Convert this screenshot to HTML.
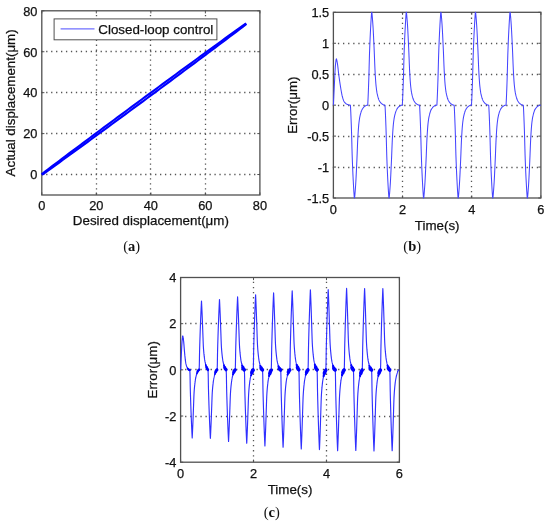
<!DOCTYPE html>
<html><head><meta charset="utf-8"><title>Figure</title>
<style>
html,body{margin:0;padding:0;background:#fff;}
body{width:550px;height:525px;overflow:hidden;}
svg{display:block;}
.tk{font-family:"Liberation Sans", Arial, Helvetica, sans-serif;font-size:12.8px;fill:#111;stroke:#111;stroke-width:0.25px;}
.lb{font-family:"Liberation Sans", Arial, Helvetica, sans-serif;font-size:13.35px;fill:#111;stroke:#111;stroke-width:0.25px;}
.mu{font-family:"Liberation Serif", "Times New Roman", serif;}
.cap{font-family:"Liberation Serif", "Times New Roman", serif;font-weight:bold;font-size:14.5px;fill:#111;}
.pr{font-weight:normal;}
</style></head><body>
<svg width="550" height="525" viewBox="0 0 550 525">
<rect width="550" height="525" fill="#fff"/>
<path d="M96.50 194.40V10.80M150.50 194.40V10.80M205.50 194.40V10.80M41.20 174.50H259.90M41.20 133.50H259.90M41.20 92.50H259.90M41.20 51.50H259.90" stroke="#555555" stroke-width="1.3" stroke-dasharray="1.3 3.65" fill="none"/>
<path d="M41.80 195.00v-2.6M41.80 10.80v2.6M96.32 195.00v-2.6M96.32 10.80v2.6M150.85 195.00v-2.6M150.85 10.80v2.6M205.38 195.00v-2.6M205.38 10.80v2.6M259.90 195.00v-2.6M259.90 10.80v2.6M41.80 174.53h2.6M259.90 174.53h-2.6M41.80 133.60h2.6M259.90 133.60h-2.6M41.80 92.67h2.6M259.90 92.67h-2.6M41.80 51.73h2.6M259.90 51.73h-2.6M41.80 10.80h2.6M259.90 10.80h-2.6" stroke="#505050" stroke-width="1" fill="none"/>
<rect x="41.80" y="10.80" width="218.10" height="184.20" fill="none" stroke="#505050" stroke-width="1.3"/>
<text x="41.80" y="210.08" text-anchor="middle" class="tk">0</text>
<text x="96.32" y="210.08" text-anchor="middle" class="tk">20</text>
<text x="150.85" y="210.08" text-anchor="middle" class="tk">40</text>
<text x="205.38" y="210.08" text-anchor="middle" class="tk">60</text>
<text x="259.90" y="210.08" text-anchor="middle" class="tk">80</text>
<text x="37.40" y="179.32" text-anchor="end" class="tk">0</text>
<text x="37.40" y="138.38" text-anchor="end" class="tk">20</text>
<text x="37.40" y="97.45" text-anchor="end" class="tk">40</text>
<text x="37.40" y="56.52" text-anchor="end" class="tk">60</text>
<text x="37.40" y="15.58" text-anchor="end" class="tk">80</text>
<text x="150.85" y="225.40" text-anchor="middle" class="lb">Desired displacement(&#956;m)</text>
<text transform="translate(15.30 102.90) rotate(-90)" text-anchor="middle" class="lb">Actual displacement(&#956;m)</text>
<path d="M402.50 197.40V12.30M471.50 197.40V12.30M332.80 167.50H540.90M332.80 136.50H540.90M332.80 105.50H540.90M332.80 74.50H540.90M332.80 43.50H540.90" stroke="#555555" stroke-width="1.3" stroke-dasharray="1.3 3.80" fill="none"/>
<path d="M333.40 198.00v-2.6M333.40 12.30v2.6M402.57 198.00v-2.6M402.57 12.30v2.6M471.73 198.00v-2.6M471.73 12.30v2.6M540.90 198.00v-2.6M540.90 12.30v2.6M333.40 198.00h2.6M540.90 198.00h-2.6M333.40 167.05h2.6M540.90 167.05h-2.6M333.40 136.10h2.6M540.90 136.10h-2.6M333.40 105.15h2.6M540.90 105.15h-2.6M333.40 74.20h2.6M540.90 74.20h-2.6M333.40 43.25h2.6M540.90 43.25h-2.6M333.40 12.30h2.6M540.90 12.30h-2.6" stroke="#505050" stroke-width="1" fill="none"/>
<rect x="333.40" y="12.30" width="207.50" height="185.70" fill="none" stroke="#505050" stroke-width="1.3"/>
<text x="333.40" y="213.98" text-anchor="middle" class="tk">0</text>
<text x="402.57" y="213.98" text-anchor="middle" class="tk">2</text>
<text x="471.73" y="213.98" text-anchor="middle" class="tk">4</text>
<text x="540.90" y="213.98" text-anchor="middle" class="tk">6</text>
<text x="329.20" y="202.78" text-anchor="end" class="tk">-1.5</text>
<text x="329.20" y="171.83" text-anchor="end" class="tk">-1</text>
<text x="329.20" y="140.88" text-anchor="end" class="tk">-0.5</text>
<text x="329.20" y="109.93" text-anchor="end" class="tk">0</text>
<text x="329.20" y="78.98" text-anchor="end" class="tk">0.5</text>
<text x="329.20" y="48.03" text-anchor="end" class="tk">1</text>
<text x="329.20" y="17.08" text-anchor="end" class="tk">1.5</text>
<text x="437.15" y="229.80" text-anchor="middle" class="lb">Time(s)</text>
<text transform="translate(297.40 105.15) rotate(-90)" text-anchor="middle" class="lb">Error(&#956;m)</text>
<path d="M253.50 461.60V277.50M326.50 461.60V277.50M180.00 416.50H399.40M180.00 369.50H399.40M180.00 323.50H399.40" stroke="#555555" stroke-width="1.3" stroke-dasharray="1.3 3.80" fill="none"/>
<path d="M180.60 462.20v-2.6M180.60 277.50v2.6M253.53 462.20v-2.6M253.53 277.50v2.6M326.47 462.20v-2.6M326.47 277.50v2.6M399.40 462.20v-2.6M399.40 277.50v2.6M180.60 462.20h2.6M399.40 462.20h-2.6M180.60 416.02h2.6M399.40 416.02h-2.6M180.60 369.85h2.6M399.40 369.85h-2.6M180.60 323.68h2.6M399.40 323.68h-2.6M180.60 277.50h2.6M399.40 277.50h-2.6" stroke="#505050" stroke-width="1" fill="none"/>
<rect x="180.60" y="277.50" width="218.80" height="184.70" fill="none" stroke="#505050" stroke-width="1.3"/>
<text x="180.60" y="478.18" text-anchor="middle" class="tk">0</text>
<text x="253.53" y="478.18" text-anchor="middle" class="tk">2</text>
<text x="326.47" y="478.18" text-anchor="middle" class="tk">4</text>
<text x="399.40" y="478.18" text-anchor="middle" class="tk">6</text>
<text x="176.40" y="466.98" text-anchor="end" class="tk">-4</text>
<text x="176.40" y="420.81" text-anchor="end" class="tk">-2</text>
<text x="176.40" y="374.63" text-anchor="end" class="tk">0</text>
<text x="176.40" y="328.46" text-anchor="end" class="tk">2</text>
<text x="176.40" y="282.28" text-anchor="end" class="tk">4</text>
<text x="290.00" y="493.60" text-anchor="middle" class="lb">Time(s)</text>
<text transform="translate(157.30 369.85) rotate(-90)" text-anchor="middle" class="lb">Error(&#956;m)</text>
<polyline points="41.98,174.77 45.53,172.33 49.03,169.83 52.53,167.32 56.03,164.80 59.52,162.28 63.01,159.76 66.50,157.23 69.98,154.70 73.47,152.17 76.95,149.64 80.43,147.10 83.91,144.57 87.39,142.03 90.87,139.49 94.35,136.95 97.83,134.41 101.30,131.87 104.78,129.33 108.25,126.78 111.73,124.24 115.20,121.69 118.67,119.14 122.14,116.59 125.61,114.04 129.08,111.49 132.55,108.94 136.02,106.39 139.49,103.83 142.95,101.28 146.42,98.72 149.88,96.16 153.35,93.60 156.81,91.04 160.27,88.48 163.74,85.92 167.20,83.36 170.66,80.79 174.12,78.23 177.57,75.66 181.03,73.09 184.49,70.52 187.94,67.96 191.40,65.38 194.85,62.81 198.31,60.24 201.76,57.66 205.21,55.09 208.66,52.51 212.11,49.93 215.56,47.35 219.00,44.77 222.45,42.18 225.89,39.60 229.33,37.01 232.77,34.42 236.21,31.82 239.64,29.22 243.06,26.60 246.45,23.94" fill="none" stroke="#0000ff" stroke-width="2.1"/>
<polyline points="41.62,174.29 45.01,171.62 48.43,169.01 51.86,166.41 55.30,163.81 58.74,161.22 62.18,158.63 65.62,156.04 69.07,153.46 72.51,150.88 75.96,148.30 79.41,145.72 82.86,143.14 86.31,140.56 89.76,137.99 93.22,135.42 96.67,132.84 100.13,130.27 103.58,127.70 107.04,125.13 110.50,122.57 113.95,120.00 117.41,117.43 120.87,114.87 124.33,112.31 127.79,109.74 131.26,107.18 134.72,104.62 138.18,102.06 141.65,99.51 145.11,96.95 148.58,94.39 152.05,91.84 155.52,89.29 158.98,86.73 162.45,84.18 165.92,81.63 169.40,79.08 172.87,76.54 176.34,73.99 179.81,71.44 183.29,68.90 186.76,66.36 190.24,63.82 193.72,61.27 197.20,58.73 200.68,56.20 204.16,53.66 207.64,51.12 211.12,48.59 214.60,46.06 218.09,43.53 221.57,41.00 225.06,38.47 228.55,35.95 232.04,33.43 235.54,30.91 239.04,28.40 242.54,25.90 246.09,23.45" fill="none" stroke="#0000ff" stroke-width="2.1"/>
<rect x="54.1" y="18.9" width="162.8" height="20.9" fill="#fff" stroke="#505050" stroke-width="1"/>
<line x1="60.6" y1="28.9" x2="94.5" y2="28.9" stroke="#6f6fff" stroke-width="1.2"/>
<text x="98.3" y="33.8" class="lb">Closed-loop control</text>
<polyline points="333.40,105.15 333.49,103.25 333.57,101.37 333.66,99.50 333.75,97.66 333.83,95.83 333.92,94.01 334.01,92.22 334.09,90.44 334.18,88.68 334.26,86.94 334.35,85.22 334.44,83.51 334.52,81.74 334.61,79.91 334.70,78.06 334.78,76.22 334.87,74.40 334.96,72.65 335.04,70.99 335.13,69.44 335.22,68.05 335.30,66.83 335.39,65.81 335.47,64.93 335.56,64.08 335.65,63.25 335.73,62.46 335.82,61.72 335.91,61.03 335.99,60.41 336.08,59.87 336.17,59.42 336.25,59.07 336.34,58.83 336.43,58.81 336.51,59.09 336.60,59.41 336.69,59.74 336.77,60.11 336.86,60.50 336.94,60.91 337.03,61.34 337.12,61.78 337.20,62.25 337.29,62.73 337.38,63.23 337.46,63.76 337.55,64.34 337.64,64.98 337.72,65.66 337.81,66.38 337.90,67.12 337.98,67.90 338.07,68.68 338.16,69.48 338.24,70.27 338.33,71.06 338.41,71.83 338.50,72.58 338.59,73.30 338.67,73.99 338.76,74.64 338.85,75.28 338.93,75.93 339.02,76.56 339.11,77.20 339.19,77.83 339.28,78.45 339.37,79.07 339.45,79.69 339.54,80.30 339.62,80.90 339.71,81.50 339.80,82.10 339.88,82.69 339.97,83.27 340.06,83.85 340.14,84.42 340.23,84.98 340.32,85.54 340.40,86.09 340.49,86.63 340.58,87.17 340.66,87.70 340.75,88.22 340.84,88.73 340.92,89.24 341.01,89.74 341.09,90.23 341.18,90.73 341.27,91.23 341.35,91.72 341.44,92.21 341.53,92.69 341.61,93.16 341.70,93.63 341.79,94.08 341.87,94.52 341.96,94.94 342.05,95.35 342.13,95.73 342.22,96.10 342.31,96.44 342.39,96.76 342.48,97.07 342.56,97.37 342.65,97.66 342.74,97.95 342.82,98.24 342.91,98.52 343.00,98.79 343.08,99.06 343.17,99.32 343.26,99.57 343.34,99.82 343.43,100.06 343.52,100.29 343.60,100.51 343.69,100.72 343.77,100.92 343.86,101.11 343.95,101.29 344.03,101.46 344.12,101.62 344.21,101.76 344.29,101.89 344.38,102.01 344.47,102.12 344.55,102.23 344.64,102.34 344.73,102.44 344.81,102.54 344.90,102.64 344.99,102.73 345.07,102.82 345.16,102.91 345.24,103.00 345.33,103.09 345.42,103.17 345.50,103.25 345.59,103.33 345.68,103.40 345.76,103.48 345.85,103.55 345.94,103.62 346.02,103.69 346.11,103.75 346.20,103.81 346.28,103.87 346.37,103.93 346.46,103.99 346.54,104.04 346.63,104.09 346.71,104.14 346.80,104.19 346.89,104.23 346.97,104.27 347.06,104.32 347.15,104.35 347.23,104.39 347.32,104.42 347.41,104.46 347.49,104.49 347.58,104.52 347.67,104.55 347.75,104.58 347.84,104.61 347.92,104.64 348.01,104.67 348.10,104.70 348.18,104.73 348.27,104.75 348.36,104.78 348.44,104.81 348.53,104.83 348.62,104.86 348.70,104.88 348.79,104.91 348.88,104.93 348.96,104.95 349.05,104.97 349.14,104.99 349.22,105.01 349.31,105.03 349.39,105.05 349.48,105.06 349.57,105.08 349.65,105.09 349.74,105.10 349.83,105.12 349.91,105.12 350.00,105.13 350.09,105.14 350.17,105.14 350.26,105.15 350.35,105.15 350.43,105.25 350.52,106.78 350.61,108.43 350.69,110.19 350.78,112.06 350.86,114.02 350.95,116.07 351.04,118.20 351.12,120.41 351.21,122.69 351.30,125.04 351.38,127.45 351.47,129.94 351.56,132.74 351.64,135.80 351.73,139.03 351.82,142.36 351.90,145.70 351.99,148.96 352.07,152.07 352.16,154.94 352.25,157.50 352.33,159.90 352.42,162.22 352.51,164.47 352.59,166.65 352.68,168.75 352.77,170.78 352.85,172.74 352.94,174.63 353.03,176.45 353.11,178.20 353.20,179.89 353.29,181.53 353.37,183.13 353.46,184.70 353.54,186.23 353.63,187.73 353.72,189.19 353.80,190.60 353.89,191.96 353.98,193.28 354.06,194.55 354.15,195.76 354.24,196.91 354.32,198.00 354.41,198.00 354.50,198.00 354.58,197.92 354.67,197.11 354.76,196.25 354.84,195.33 354.93,194.37 355.01,193.36 355.10,192.30 355.19,191.21 355.27,190.08 355.36,188.91 355.45,187.71 355.53,186.48 355.62,185.23 355.71,183.91 355.79,182.51 355.88,181.02 355.97,179.46 356.05,177.83 356.14,176.15 356.22,174.41 356.31,172.63 356.40,170.82 356.48,168.98 356.57,167.12 356.66,165.25 356.74,163.39 356.83,161.53 356.92,159.60 357.00,157.55 357.09,155.42 357.18,153.23 357.26,151.01 357.35,148.80 357.44,146.62 357.52,144.52 357.61,142.51 357.69,140.63 357.78,138.91 357.87,137.36 357.95,135.87 358.04,134.42 358.13,133.02 358.21,131.66 358.30,130.37 358.39,129.13 358.47,127.96 358.56,126.86 358.65,125.84 358.73,124.90 358.82,124.04 358.91,123.25 358.99,122.50 359.08,121.78 359.16,121.10 359.25,120.45 359.34,119.83 359.42,119.25 359.51,118.69 359.60,118.17 359.68,117.67 359.77,117.21 359.86,116.77 359.94,116.37 360.03,115.98 360.12,115.59 360.20,115.22 360.29,114.86 360.38,114.50 360.46,114.16 360.55,113.82 360.63,113.50 360.72,113.18 360.81,112.88 360.89,112.58 360.98,112.30 361.07,112.02 361.15,111.76 361.24,111.51 361.33,111.26 361.41,111.03 361.50,110.80 361.59,110.59 361.67,110.39 361.76,110.20 361.84,110.02 361.93,109.85 362.02,109.68 362.10,109.52 362.19,109.37 362.28,109.21 362.36,109.06 362.45,108.92 362.54,108.77 362.62,108.64 362.71,108.50 362.80,108.37 362.88,108.24 362.97,108.12 363.06,107.99 363.14,107.88 363.23,107.76 363.31,107.65 363.40,107.55 363.49,107.44 363.57,107.34 363.66,107.25 363.75,107.16 363.83,107.07 363.92,106.98 364.01,106.90 364.09,106.82 364.18,106.75 364.27,106.68 364.35,106.62 364.44,106.55 364.52,106.49 364.61,106.43 364.70,106.37 364.78,106.31 364.87,106.25 364.96,106.19 365.04,106.13 365.13,106.08 365.22,106.02 365.30,105.96 365.39,105.91 365.48,105.85 365.56,105.80 365.65,105.75 365.74,105.70 365.82,105.65 365.91,105.60 365.99,105.56 366.08,105.52 366.17,105.47 366.25,105.44 366.34,105.40 366.43,105.36 366.51,105.33 366.60,105.30 366.69,105.27 366.77,105.25 366.86,105.22 366.95,105.20 367.03,105.19 367.12,105.17 367.21,105.16 367.29,105.16 367.38,105.15 367.46,105.15 367.55,105.15 367.64,105.15 367.72,105.05 367.81,103.52 367.90,101.87 367.98,100.11 368.07,98.24 368.16,96.28 368.24,94.23 368.33,92.10 368.42,89.89 368.50,87.61 368.59,85.26 368.67,82.85 368.76,80.36 368.85,77.56 368.93,74.50 369.02,71.27 369.11,67.94 369.19,64.60 369.28,61.34 369.37,58.23 369.45,55.36 369.54,52.80 369.63,50.40 369.71,48.08 369.80,45.83 369.89,43.65 369.97,41.55 370.06,39.52 370.14,37.56 370.23,35.67 370.32,33.85 370.40,32.10 370.49,30.41 370.58,28.77 370.66,27.17 370.75,25.60 370.84,24.07 370.92,22.57 371.01,21.11 371.10,19.70 371.18,18.34 371.27,17.02 371.36,15.75 371.44,14.54 371.53,13.39 371.61,12.30 371.70,12.30 371.79,12.30 371.87,12.38 371.96,13.19 372.05,14.05 372.13,14.97 372.22,15.93 372.31,16.94 372.39,18.00 372.48,19.09 372.57,20.22 372.65,21.39 372.74,22.59 372.82,23.82 372.91,25.07 373.00,26.39 373.08,27.79 373.17,29.28 373.26,30.84 373.34,32.47 373.43,34.15 373.52,35.89 373.60,37.67 373.69,39.48 373.78,41.32 373.86,43.18 373.95,45.05 374.04,46.91 374.12,48.77 374.21,50.70 374.29,52.75 374.38,54.88 374.47,57.07 374.55,59.29 374.64,61.50 374.73,63.68 374.81,65.78 374.90,67.79 374.99,69.67 375.07,71.39 375.16,72.94 375.25,74.43 375.33,75.88 375.42,77.28 375.51,78.64 375.59,79.93 375.68,81.17 375.76,82.34 375.85,83.44 375.94,84.46 376.02,85.40 376.11,86.26 376.20,87.05 376.28,87.80 376.37,88.52 376.46,89.20 376.54,89.85 376.63,90.47 376.72,91.05 376.80,91.61 376.89,92.13 376.97,92.63 377.06,93.09 377.15,93.53 377.23,93.93 377.32,94.32 377.41,94.71 377.49,95.08 377.58,95.44 377.67,95.80 377.75,96.14 377.84,96.48 377.93,96.80 378.01,97.12 378.10,97.42 378.19,97.72 378.27,98.00 378.36,98.28 378.44,98.54 378.53,98.79 378.62,99.04 378.70,99.27 378.79,99.50 378.88,99.71 378.96,99.91 379.05,100.10 379.14,100.28 379.22,100.45 379.31,100.62 379.40,100.78 379.48,100.93 379.57,101.09 379.66,101.24 379.74,101.38 379.83,101.53 379.91,101.66 380.00,101.80 380.09,101.93 380.17,102.06 380.26,102.18 380.35,102.31 380.43,102.42 380.52,102.54 380.61,102.65 380.69,102.75 380.78,102.86 380.87,102.96 380.95,103.05 381.04,103.14 381.12,103.23 381.21,103.32 381.30,103.40 381.38,103.48 381.47,103.55 381.56,103.62 381.64,103.68 381.73,103.75 381.82,103.81 381.90,103.87 381.99,103.93 382.08,103.99 382.16,104.05 382.25,104.11 382.34,104.17 382.42,104.22 382.51,104.28 382.59,104.34 382.68,104.39 382.77,104.45 382.85,104.50 382.94,104.55 383.03,104.60 383.11,104.65 383.20,104.70 383.29,104.74 383.37,104.78 383.46,104.83 383.55,104.86 383.63,104.90 383.72,104.94 383.81,104.97 383.89,105.00 383.98,105.03 384.06,105.05 384.15,105.08 384.24,105.10 384.32,105.11 384.41,105.13 384.50,105.14 384.58,105.14 384.67,105.15 384.76,105.15 384.84,105.15 384.93,105.15 385.02,105.25 385.10,106.78 385.19,108.43 385.27,110.19 385.36,112.06 385.45,114.02 385.53,116.07 385.62,118.20 385.71,120.41 385.79,122.69 385.88,125.04 385.97,127.45 386.05,129.94 386.14,132.74 386.23,135.80 386.31,139.03 386.40,142.36 386.49,145.70 386.57,148.96 386.66,152.07 386.74,154.94 386.83,157.50 386.92,159.90 387.00,162.22 387.09,164.47 387.18,166.65 387.26,168.75 387.35,170.78 387.44,172.74 387.52,174.63 387.61,176.45 387.70,178.20 387.78,179.89 387.87,181.53 387.96,183.13 388.04,184.70 388.13,186.23 388.21,187.73 388.30,189.19 388.39,190.60 388.47,191.96 388.56,193.28 388.65,194.55 388.73,195.76 388.82,196.91 388.91,198.00 388.99,198.00 389.08,198.00 389.17,197.92 389.25,197.11 389.34,196.25 389.42,195.33 389.51,194.37 389.60,193.36 389.68,192.30 389.77,191.21 389.86,190.08 389.94,188.91 390.03,187.71 390.12,186.48 390.20,185.23 390.29,183.91 390.38,182.51 390.46,181.02 390.55,179.46 390.64,177.83 390.72,176.15 390.81,174.41 390.89,172.63 390.98,170.82 391.07,168.98 391.15,167.12 391.24,165.25 391.33,163.39 391.41,161.53 391.50,159.60 391.59,157.55 391.67,155.42 391.76,153.23 391.85,151.01 391.93,148.80 392.02,146.62 392.11,144.52 392.19,142.51 392.28,140.63 392.36,138.91 392.45,137.36 392.54,135.87 392.62,134.42 392.71,133.02 392.80,131.66 392.88,130.37 392.97,129.13 393.06,127.96 393.14,126.86 393.23,125.84 393.32,124.90 393.40,124.04 393.49,123.25 393.57,122.50 393.66,121.78 393.75,121.10 393.83,120.45 393.92,119.83 394.01,119.25 394.09,118.69 394.18,118.17 394.27,117.67 394.35,117.21 394.44,116.77 394.53,116.37 394.61,115.98 394.70,115.59 394.79,115.22 394.87,114.86 394.96,114.50 395.04,114.16 395.13,113.82 395.22,113.50 395.30,113.18 395.39,112.88 395.48,112.58 395.56,112.30 395.65,112.02 395.74,111.76 395.82,111.51 395.91,111.26 396.00,111.03 396.08,110.80 396.17,110.59 396.26,110.39 396.34,110.20 396.43,110.02 396.51,109.85 396.60,109.68 396.69,109.52 396.77,109.37 396.86,109.21 396.95,109.06 397.03,108.92 397.12,108.77 397.21,108.64 397.29,108.50 397.38,108.37 397.47,108.24 397.55,108.12 397.64,107.99 397.72,107.88 397.81,107.76 397.90,107.65 397.98,107.55 398.07,107.44 398.16,107.34 398.24,107.25 398.33,107.16 398.42,107.07 398.50,106.98 398.59,106.90 398.68,106.82 398.76,106.75 398.85,106.68 398.94,106.62 399.02,106.55 399.11,106.49 399.19,106.43 399.28,106.37 399.37,106.31 399.45,106.25 399.54,106.19 399.63,106.13 399.71,106.08 399.80,106.02 399.89,105.96 399.97,105.91 400.06,105.85 400.15,105.80 400.23,105.75 400.32,105.70 400.41,105.65 400.49,105.60 400.58,105.56 400.66,105.52 400.75,105.47 400.84,105.44 400.92,105.40 401.01,105.36 401.10,105.33 401.18,105.30 401.27,105.27 401.36,105.25 401.44,105.22 401.53,105.20 401.62,105.19 401.70,105.17 401.79,105.16 401.88,105.16 401.96,105.15 402.05,105.15 402.13,105.15 402.22,105.15 402.31,105.05 402.39,103.52 402.48,101.87 402.57,100.11 402.65,98.24 402.74,96.28 402.83,94.23 402.91,92.10 403.00,89.89 403.09,87.61 403.17,85.26 403.26,82.85 403.34,80.36 403.43,77.56 403.52,74.50 403.60,71.27 403.69,67.94 403.78,64.60 403.86,61.34 403.95,58.23 404.04,55.36 404.12,52.80 404.21,50.40 404.30,48.08 404.38,45.83 404.47,43.65 404.56,41.55 404.64,39.52 404.73,37.56 404.81,35.67 404.90,33.85 404.99,32.10 405.07,30.41 405.16,28.77 405.25,27.17 405.33,25.60 405.42,24.07 405.51,22.57 405.59,21.11 405.68,19.70 405.77,18.34 405.85,17.02 405.94,15.75 406.02,14.54 406.11,13.39 406.20,12.30 406.28,12.30 406.37,12.30 406.46,12.38 406.54,13.19 406.63,14.05 406.72,14.97 406.80,15.93 406.89,16.94 406.98,18.00 407.06,19.09 407.15,20.22 407.24,21.39 407.32,22.59 407.41,23.82 407.49,25.07 407.58,26.39 407.67,27.79 407.75,29.28 407.84,30.84 407.93,32.47 408.01,34.15 408.10,35.89 408.19,37.67 408.27,39.48 408.36,41.32 408.45,43.18 408.53,45.05 408.62,46.91 408.71,48.77 408.79,50.70 408.88,52.75 408.96,54.88 409.05,57.07 409.14,59.29 409.22,61.50 409.31,63.68 409.40,65.78 409.48,67.79 409.57,69.67 409.66,71.39 409.74,72.94 409.83,74.43 409.92,75.88 410.00,77.28 410.09,78.64 410.17,79.93 410.26,81.17 410.35,82.34 410.43,83.44 410.52,84.46 410.61,85.40 410.69,86.26 410.78,87.05 410.87,87.80 410.95,88.52 411.04,89.20 411.13,89.85 411.21,90.47 411.30,91.05 411.39,91.61 411.47,92.13 411.56,92.63 411.64,93.09 411.73,93.53 411.82,93.93 411.90,94.32 411.99,94.71 412.08,95.08 412.16,95.44 412.25,95.80 412.34,96.14 412.42,96.48 412.51,96.80 412.60,97.12 412.68,97.42 412.77,97.72 412.86,98.00 412.94,98.28 413.03,98.54 413.11,98.79 413.20,99.04 413.29,99.27 413.37,99.50 413.46,99.71 413.55,99.91 413.63,100.10 413.72,100.28 413.81,100.45 413.89,100.62 413.98,100.78 414.07,100.93 414.15,101.09 414.24,101.24 414.32,101.38 414.41,101.53 414.50,101.66 414.58,101.80 414.67,101.93 414.76,102.06 414.84,102.18 414.93,102.31 415.02,102.42 415.10,102.54 415.19,102.65 415.28,102.75 415.36,102.86 415.45,102.96 415.54,103.05 415.62,103.14 415.71,103.23 415.79,103.32 415.88,103.40 415.97,103.48 416.05,103.55 416.14,103.62 416.23,103.68 416.31,103.75 416.40,103.81 416.49,103.87 416.57,103.93 416.66,103.99 416.75,104.05 416.83,104.11 416.92,104.17 417.01,104.22 417.09,104.28 417.18,104.34 417.26,104.39 417.35,104.45 417.44,104.50 417.52,104.55 417.61,104.60 417.70,104.65 417.78,104.70 417.87,104.74 417.96,104.78 418.04,104.83 418.13,104.86 418.22,104.90 418.30,104.94 418.39,104.97 418.47,105.00 418.56,105.03 418.65,105.05 418.73,105.08 418.82,105.10 418.91,105.11 418.99,105.13 419.08,105.14 419.17,105.14 419.25,105.15 419.34,105.15 419.43,105.15 419.51,105.15 419.60,105.25 419.69,106.78 419.77,108.43 419.86,110.19 419.94,112.06 420.03,114.02 420.12,116.07 420.20,118.20 420.29,120.41 420.38,122.69 420.46,125.04 420.55,127.45 420.64,129.94 420.72,132.74 420.81,135.80 420.90,139.03 420.98,142.36 421.07,145.70 421.16,148.96 421.24,152.07 421.33,154.94 421.41,157.50 421.50,159.90 421.59,162.22 421.67,164.47 421.76,166.65 421.85,168.75 421.93,170.78 422.02,172.74 422.11,174.63 422.19,176.45 422.28,178.20 422.37,179.89 422.45,181.53 422.54,183.13 422.62,184.70 422.71,186.23 422.80,187.73 422.88,189.19 422.97,190.60 423.06,191.96 423.14,193.28 423.23,194.55 423.32,195.76 423.40,196.91 423.49,198.00 423.58,198.00 423.66,198.00 423.75,197.92 423.84,197.11 423.92,196.25 424.01,195.33 424.09,194.37 424.18,193.36 424.27,192.30 424.35,191.21 424.44,190.08 424.53,188.91 424.61,187.71 424.70,186.48 424.79,185.23 424.87,183.91 424.96,182.51 425.05,181.02 425.13,179.46 425.22,177.83 425.31,176.15 425.39,174.41 425.48,172.63 425.56,170.82 425.65,168.98 425.74,167.12 425.82,165.25 425.91,163.39 426.00,161.53 426.08,159.60 426.17,157.55 426.26,155.42 426.34,153.23 426.43,151.01 426.52,148.80 426.60,146.62 426.69,144.52 426.77,142.51 426.86,140.63 426.95,138.91 427.03,137.36 427.12,135.87 427.21,134.42 427.29,133.02 427.38,131.66 427.47,130.37 427.55,129.13 427.64,127.96 427.73,126.86 427.81,125.84 427.90,124.90 427.99,124.04 428.07,123.25 428.16,122.50 428.24,121.78 428.33,121.10 428.42,120.45 428.50,119.83 428.59,119.25 428.68,118.69 428.76,118.17 428.85,117.67 428.94,117.21 429.02,116.77 429.11,116.37 429.20,115.98 429.28,115.59 429.37,115.22 429.46,114.86 429.54,114.50 429.63,114.16 429.71,113.82 429.80,113.50 429.89,113.18 429.97,112.88 430.06,112.58 430.15,112.30 430.23,112.02 430.32,111.76 430.41,111.51 430.49,111.26 430.58,111.03 430.67,110.80 430.75,110.59 430.84,110.39 430.92,110.20 431.01,110.02 431.10,109.85 431.18,109.68 431.27,109.52 431.36,109.37 431.44,109.21 431.53,109.06 431.62,108.92 431.70,108.77 431.79,108.64 431.88,108.50 431.96,108.37 432.05,108.24 432.14,108.12 432.22,107.99 432.31,107.88 432.39,107.76 432.48,107.65 432.57,107.55 432.65,107.44 432.74,107.34 432.83,107.25 432.91,107.16 433.00,107.07 433.09,106.98 433.17,106.90 433.26,106.82 433.35,106.75 433.43,106.68 433.52,106.62 433.61,106.55 433.69,106.49 433.78,106.43 433.86,106.37 433.95,106.31 434.04,106.25 434.12,106.19 434.21,106.13 434.30,106.08 434.38,106.02 434.47,105.96 434.56,105.91 434.64,105.85 434.73,105.80 434.82,105.75 434.90,105.70 434.99,105.65 435.07,105.60 435.16,105.56 435.25,105.52 435.33,105.47 435.42,105.44 435.51,105.40 435.59,105.36 435.68,105.33 435.77,105.30 435.85,105.27 435.94,105.25 436.03,105.22 436.11,105.20 436.20,105.19 436.29,105.17 436.37,105.16 436.46,105.16 436.54,105.15 436.63,105.15 436.72,105.15 436.80,105.15 436.89,105.05 436.98,103.52 437.06,101.87 437.15,100.11 437.24,98.24 437.32,96.28 437.41,94.23 437.50,92.10 437.58,89.89 437.67,87.61 437.76,85.26 437.84,82.85 437.93,80.36 438.01,77.56 438.10,74.50 438.19,71.27 438.27,67.94 438.36,64.60 438.45,61.34 438.53,58.23 438.62,55.36 438.71,52.80 438.79,50.40 438.88,48.08 438.97,45.83 439.05,43.65 439.14,41.55 439.22,39.52 439.31,37.56 439.40,35.67 439.48,33.85 439.57,32.10 439.66,30.41 439.74,28.77 439.83,27.17 439.92,25.60 440.00,24.07 440.09,22.57 440.18,21.11 440.26,19.70 440.35,18.34 440.44,17.02 440.52,15.75 440.61,14.54 440.69,13.39 440.78,12.30 440.87,12.30 440.95,12.30 441.04,12.38 441.13,13.19 441.21,14.05 441.30,14.97 441.39,15.93 441.47,16.94 441.56,18.00 441.65,19.09 441.73,20.22 441.82,21.39 441.91,22.59 441.99,23.82 442.08,25.07 442.16,26.39 442.25,27.79 442.34,29.28 442.42,30.84 442.51,32.47 442.60,34.15 442.68,35.89 442.77,37.67 442.86,39.48 442.94,41.32 443.03,43.18 443.12,45.05 443.20,46.91 443.29,48.77 443.38,50.70 443.46,52.75 443.55,54.88 443.63,57.07 443.72,59.29 443.81,61.50 443.89,63.68 443.98,65.78 444.07,67.79 444.15,69.67 444.24,71.39 444.33,72.94 444.41,74.43 444.50,75.88 444.59,77.28 444.67,78.64 444.76,79.93 444.84,81.17 444.93,82.34 445.02,83.44 445.10,84.46 445.19,85.40 445.28,86.26 445.36,87.05 445.45,87.80 445.54,88.52 445.62,89.20 445.71,89.85 445.80,90.47 445.88,91.05 445.97,91.61 446.06,92.13 446.14,92.63 446.23,93.09 446.31,93.53 446.40,93.93 446.49,94.32 446.57,94.71 446.66,95.08 446.75,95.44 446.83,95.80 446.92,96.14 447.01,96.48 447.09,96.80 447.18,97.12 447.27,97.42 447.35,97.72 447.44,98.00 447.52,98.28 447.61,98.54 447.70,98.79 447.78,99.04 447.87,99.27 447.96,99.50 448.04,99.71 448.13,99.91 448.22,100.10 448.30,100.28 448.39,100.45 448.48,100.62 448.56,100.78 448.65,100.93 448.74,101.09 448.82,101.24 448.91,101.38 448.99,101.53 449.08,101.66 449.17,101.80 449.25,101.93 449.34,102.06 449.43,102.18 449.51,102.31 449.60,102.42 449.69,102.54 449.77,102.65 449.86,102.75 449.95,102.86 450.03,102.96 450.12,103.05 450.21,103.14 450.29,103.23 450.38,103.32 450.46,103.40 450.55,103.48 450.64,103.55 450.72,103.62 450.81,103.68 450.90,103.75 450.98,103.81 451.07,103.87 451.16,103.93 451.24,103.99 451.33,104.05 451.42,104.11 451.50,104.17 451.59,104.22 451.67,104.28 451.76,104.34 451.85,104.39 451.93,104.45 452.02,104.50 452.11,104.55 452.19,104.60 452.28,104.65 452.37,104.70 452.45,104.74 452.54,104.78 452.63,104.83 452.71,104.86 452.80,104.90 452.89,104.94 452.97,104.97 453.06,105.00 453.14,105.03 453.23,105.05 453.32,105.08 453.40,105.10 453.49,105.11 453.58,105.13 453.66,105.14 453.75,105.14 453.84,105.15 453.92,105.15 454.01,105.15 454.10,105.15 454.18,105.25 454.27,106.78 454.36,108.43 454.44,110.19 454.53,112.06 454.61,114.02 454.70,116.07 454.79,118.20 454.87,120.41 454.96,122.69 455.05,125.04 455.13,127.45 455.22,129.94 455.31,132.74 455.39,135.80 455.48,139.03 455.57,142.36 455.65,145.70 455.74,148.96 455.82,152.07 455.91,154.94 456.00,157.50 456.08,159.90 456.17,162.22 456.26,164.47 456.34,166.65 456.43,168.75 456.52,170.78 456.60,172.74 456.69,174.63 456.78,176.45 456.86,178.20 456.95,179.89 457.04,181.53 457.12,183.13 457.21,184.70 457.29,186.23 457.38,187.73 457.47,189.19 457.55,190.60 457.64,191.96 457.73,193.28 457.81,194.55 457.90,195.76 457.99,196.91 458.07,198.00 458.16,198.00 458.25,198.00 458.33,197.92 458.42,197.11 458.51,196.25 458.59,195.33 458.68,194.37 458.76,193.36 458.85,192.30 458.94,191.21 459.02,190.08 459.11,188.91 459.20,187.71 459.28,186.48 459.37,185.23 459.46,183.91 459.54,182.51 459.63,181.02 459.72,179.46 459.80,177.83 459.89,176.15 459.98,174.41 460.06,172.63 460.15,170.82 460.23,168.98 460.32,167.12 460.41,165.25 460.49,163.39 460.58,161.53 460.67,159.60 460.75,157.55 460.84,155.42 460.93,153.23 461.01,151.01 461.10,148.80 461.19,146.62 461.27,144.52 461.36,142.51 461.44,140.63 461.53,138.91 461.62,137.36 461.70,135.87 461.79,134.42 461.88,133.02 461.96,131.66 462.05,130.37 462.14,129.13 462.22,127.96 462.31,126.86 462.40,125.84 462.48,124.90 462.57,124.04 462.66,123.25 462.74,122.50 462.83,121.78 462.91,121.10 463.00,120.45 463.09,119.83 463.17,119.25 463.26,118.69 463.35,118.17 463.43,117.67 463.52,117.21 463.61,116.77 463.69,116.37 463.78,115.98 463.87,115.59 463.95,115.22 464.04,114.86 464.12,114.50 464.21,114.16 464.30,113.82 464.38,113.50 464.47,113.18 464.56,112.88 464.64,112.58 464.73,112.30 464.82,112.02 464.90,111.76 464.99,111.51 465.08,111.26 465.16,111.03 465.25,110.80 465.34,110.59 465.42,110.39 465.51,110.20 465.59,110.02 465.68,109.85 465.77,109.68 465.85,109.52 465.94,109.37 466.03,109.21 466.11,109.06 466.20,108.92 466.29,108.77 466.37,108.64 466.46,108.50 466.55,108.37 466.63,108.24 466.72,108.12 466.81,107.99 466.89,107.88 466.98,107.76 467.06,107.65 467.15,107.55 467.24,107.44 467.32,107.34 467.41,107.25 467.50,107.16 467.58,107.07 467.67,106.98 467.76,106.90 467.84,106.82 467.93,106.75 468.02,106.68 468.10,106.62 468.19,106.55 468.27,106.49 468.36,106.43 468.45,106.37 468.53,106.31 468.62,106.25 468.71,106.19 468.79,106.13 468.88,106.08 468.97,106.02 469.05,105.96 469.14,105.91 469.23,105.85 469.31,105.80 469.40,105.75 469.49,105.70 469.57,105.65 469.66,105.60 469.74,105.56 469.83,105.52 469.92,105.47 470.00,105.44 470.09,105.40 470.18,105.36 470.26,105.33 470.35,105.30 470.44,105.27 470.52,105.25 470.61,105.22 470.70,105.20 470.78,105.19 470.87,105.17 470.96,105.16 471.04,105.16 471.13,105.15 471.21,105.15 471.30,105.15 471.39,105.15 471.47,105.05 471.56,103.52 471.65,101.87 471.73,100.11 471.82,98.24 471.91,96.28 471.99,94.23 472.08,92.10 472.17,89.89 472.25,87.61 472.34,85.26 472.43,82.85 472.51,80.36 472.60,77.56 472.68,74.50 472.77,71.27 472.86,67.94 472.94,64.60 473.03,61.34 473.12,58.23 473.20,55.36 473.29,52.80 473.38,50.40 473.46,48.08 473.55,45.83 473.64,43.65 473.72,41.55 473.81,39.52 473.89,37.56 473.98,35.67 474.07,33.85 474.15,32.10 474.24,30.41 474.33,28.77 474.41,27.17 474.50,25.60 474.59,24.07 474.67,22.57 474.76,21.11 474.85,19.70 474.93,18.34 475.02,17.02 475.11,15.75 475.19,14.54 475.28,13.39 475.36,12.30 475.45,12.30 475.54,12.30 475.62,12.38 475.71,13.19 475.80,14.05 475.88,14.97 475.97,15.93 476.06,16.94 476.14,18.00 476.23,19.09 476.32,20.22 476.40,21.39 476.49,22.59 476.57,23.82 476.66,25.07 476.75,26.39 476.83,27.79 476.92,29.28 477.01,30.84 477.09,32.47 477.18,34.15 477.27,35.89 477.35,37.67 477.44,39.48 477.53,41.32 477.61,43.18 477.70,45.05 477.79,46.91 477.87,48.77 477.96,50.70 478.04,52.75 478.13,54.88 478.22,57.07 478.30,59.29 478.39,61.50 478.48,63.68 478.56,65.78 478.65,67.79 478.74,69.67 478.82,71.39 478.91,72.94 479.00,74.43 479.08,75.88 479.17,77.28 479.26,78.64 479.34,79.93 479.43,81.17 479.51,82.34 479.60,83.44 479.69,84.46 479.77,85.40 479.86,86.26 479.95,87.05 480.03,87.80 480.12,88.52 480.21,89.20 480.29,89.85 480.38,90.47 480.47,91.05 480.55,91.61 480.64,92.13 480.72,92.63 480.81,93.09 480.90,93.53 480.98,93.93 481.07,94.32 481.16,94.71 481.24,95.08 481.33,95.44 481.42,95.80 481.50,96.14 481.59,96.48 481.68,96.80 481.76,97.12 481.85,97.42 481.94,97.72 482.02,98.00 482.11,98.28 482.19,98.54 482.28,98.79 482.37,99.04 482.45,99.27 482.54,99.50 482.63,99.71 482.71,99.91 482.80,100.10 482.89,100.28 482.97,100.45 483.06,100.62 483.15,100.78 483.23,100.93 483.32,101.09 483.41,101.24 483.49,101.38 483.58,101.53 483.66,101.66 483.75,101.80 483.84,101.93 483.92,102.06 484.01,102.18 484.10,102.31 484.18,102.42 484.27,102.54 484.36,102.65 484.44,102.75 484.53,102.86 484.62,102.96 484.70,103.05 484.79,103.14 484.88,103.23 484.96,103.32 485.05,103.40 485.13,103.48 485.22,103.55 485.31,103.62 485.39,103.68 485.48,103.75 485.57,103.81 485.65,103.87 485.74,103.93 485.83,103.99 485.91,104.05 486.00,104.11 486.09,104.17 486.17,104.22 486.26,104.28 486.34,104.34 486.43,104.39 486.52,104.45 486.60,104.50 486.69,104.55 486.78,104.60 486.86,104.65 486.95,104.70 487.04,104.74 487.12,104.78 487.21,104.83 487.30,104.86 487.38,104.90 487.47,104.94 487.56,104.97 487.64,105.00 487.73,105.03 487.81,105.05 487.90,105.08 487.99,105.10 488.07,105.11 488.16,105.13 488.25,105.14 488.33,105.14 488.42,105.15 488.51,105.15 488.59,105.15 488.68,105.15 488.77,105.25 488.85,106.78 488.94,108.43 489.02,110.19 489.11,112.06 489.20,114.02 489.28,116.07 489.37,118.20 489.46,120.41 489.54,122.69 489.63,125.04 489.72,127.45 489.80,129.94 489.89,132.74 489.98,135.80 490.06,139.03 490.15,142.36 490.24,145.70 490.32,148.96 490.41,152.07 490.49,154.94 490.58,157.50 490.67,159.90 490.75,162.22 490.84,164.47 490.93,166.65 491.01,168.75 491.10,170.78 491.19,172.74 491.27,174.63 491.36,176.45 491.45,178.20 491.53,179.89 491.62,181.53 491.71,183.13 491.79,184.70 491.88,186.23 491.96,187.73 492.05,189.19 492.14,190.60 492.22,191.96 492.31,193.28 492.40,194.55 492.48,195.76 492.57,196.91 492.66,198.00 492.74,198.00 492.83,198.00 492.92,197.92 493.00,197.11 493.09,196.25 493.17,195.33 493.26,194.37 493.35,193.36 493.43,192.30 493.52,191.21 493.61,190.08 493.69,188.91 493.78,187.71 493.87,186.48 493.95,185.23 494.04,183.91 494.13,182.51 494.21,181.02 494.30,179.46 494.39,177.83 494.47,176.15 494.56,174.41 494.64,172.63 494.73,170.82 494.82,168.98 494.90,167.12 494.99,165.25 495.08,163.39 495.16,161.53 495.25,159.60 495.34,157.55 495.42,155.42 495.51,153.23 495.60,151.01 495.68,148.80 495.77,146.62 495.86,144.52 495.94,142.51 496.03,140.63 496.11,138.91 496.20,137.36 496.29,135.87 496.37,134.42 496.46,133.02 496.55,131.66 496.63,130.37 496.72,129.13 496.81,127.96 496.89,126.86 496.98,125.84 497.07,124.90 497.15,124.04 497.24,123.25 497.32,122.50 497.41,121.78 497.50,121.10 497.58,120.45 497.67,119.83 497.76,119.25 497.84,118.69 497.93,118.17 498.02,117.67 498.10,117.21 498.19,116.77 498.28,116.37 498.36,115.98 498.45,115.59 498.54,115.22 498.62,114.86 498.71,114.50 498.79,114.16 498.88,113.82 498.97,113.50 499.05,113.18 499.14,112.88 499.23,112.58 499.31,112.30 499.40,112.02 499.49,111.76 499.57,111.51 499.66,111.26 499.75,111.03 499.83,110.80 499.92,110.59 500.01,110.39 500.09,110.20 500.18,110.02 500.26,109.85 500.35,109.68 500.44,109.52 500.52,109.37 500.61,109.21 500.70,109.06 500.78,108.92 500.87,108.77 500.96,108.64 501.04,108.50 501.13,108.37 501.22,108.24 501.30,108.12 501.39,107.99 501.48,107.88 501.56,107.76 501.65,107.65 501.73,107.55 501.82,107.44 501.91,107.34 501.99,107.25 502.08,107.16 502.17,107.07 502.25,106.98 502.34,106.90 502.43,106.82 502.51,106.75 502.60,106.68 502.69,106.62 502.77,106.55 502.86,106.49 502.94,106.43 503.03,106.37 503.12,106.31 503.20,106.25 503.29,106.19 503.38,106.13 503.46,106.08 503.55,106.02 503.64,105.96 503.72,105.91 503.81,105.85 503.90,105.80 503.98,105.75 504.07,105.70 504.16,105.65 504.24,105.60 504.33,105.56 504.41,105.52 504.50,105.47 504.59,105.44 504.67,105.40 504.76,105.36 504.85,105.33 504.93,105.30 505.02,105.27 505.11,105.25 505.19,105.22 505.28,105.20 505.37,105.19 505.45,105.17 505.54,105.16 505.62,105.16 505.71,105.15 505.80,105.15 505.88,105.15 505.97,105.15 506.06,105.05 506.14,103.52 506.23,101.87 506.32,100.11 506.40,98.24 506.49,96.28 506.58,94.23 506.66,92.10 506.75,89.89 506.84,87.61 506.92,85.26 507.01,82.85 507.09,80.36 507.18,77.56 507.27,74.50 507.35,71.27 507.44,67.94 507.53,64.60 507.61,61.34 507.70,58.23 507.79,55.36 507.87,52.80 507.96,50.40 508.05,48.08 508.13,45.83 508.22,43.65 508.31,41.55 508.39,39.52 508.48,37.56 508.56,35.67 508.65,33.85 508.74,32.10 508.82,30.41 508.91,28.77 509.00,27.17 509.08,25.60 509.17,24.07 509.26,22.57 509.34,21.11 509.43,19.70 509.52,18.34 509.60,17.02 509.69,15.75 509.77,14.54 509.86,13.39 509.95,12.30 510.03,12.30 510.12,12.30 510.21,12.38 510.29,13.19 510.38,14.05 510.47,14.97 510.55,15.93 510.64,16.94 510.73,18.00 510.81,19.09 510.90,20.22 510.99,21.39 511.07,22.59 511.16,23.82 511.24,25.07 511.33,26.39 511.42,27.79 511.50,29.28 511.59,30.84 511.68,32.47 511.76,34.15 511.85,35.89 511.94,37.67 512.02,39.48 512.11,41.32 512.20,43.18 512.28,45.05 512.37,46.91 512.46,48.77 512.54,50.70 512.63,52.75 512.71,54.88 512.80,57.07 512.89,59.29 512.97,61.50 513.06,63.68 513.15,65.78 513.23,67.79 513.32,69.67 513.41,71.39 513.49,72.94 513.58,74.43 513.67,75.88 513.75,77.28 513.84,78.64 513.92,79.93 514.01,81.17 514.10,82.34 514.18,83.44 514.27,84.46 514.36,85.40 514.44,86.26 514.53,87.05 514.62,87.80 514.70,88.52 514.79,89.20 514.88,89.85 514.96,90.47 515.05,91.05 515.14,91.61 515.22,92.13 515.31,92.63 515.39,93.09 515.48,93.53 515.57,93.93 515.65,94.32 515.74,94.71 515.83,95.08 515.91,95.44 516.00,95.80 516.09,96.14 516.17,96.48 516.26,96.80 516.35,97.12 516.43,97.42 516.52,97.72 516.61,98.00 516.69,98.28 516.78,98.54 516.86,98.79 516.95,99.04 517.04,99.27 517.12,99.50 517.21,99.71 517.30,99.91 517.38,100.10 517.47,100.28 517.56,100.45 517.64,100.62 517.73,100.78 517.82,100.93 517.90,101.09 517.99,101.24 518.08,101.38 518.16,101.53 518.25,101.66 518.33,101.80 518.42,101.93 518.51,102.06 518.59,102.18 518.68,102.31 518.77,102.42 518.85,102.54 518.94,102.65 519.03,102.75 519.11,102.86 519.20,102.96 519.29,103.05 519.37,103.14 519.46,103.23 519.54,103.32 519.63,103.40 519.72,103.48 519.80,103.55 519.89,103.62 519.98,103.68 520.06,103.75 520.15,103.81 520.24,103.87 520.32,103.93 520.41,103.99 520.50,104.05 520.58,104.11 520.67,104.17 520.76,104.22 520.84,104.28 520.93,104.34 521.01,104.39 521.10,104.45 521.19,104.50 521.27,104.55 521.36,104.60 521.45,104.65 521.53,104.70 521.62,104.74 521.71,104.78 521.79,104.83 521.88,104.86 521.97,104.90 522.05,104.94 522.14,104.97 522.23,105.00 522.31,105.03 522.40,105.05 522.48,105.08 522.57,105.10 522.66,105.11 522.74,105.13 522.83,105.14 522.92,105.14 523.00,105.15 523.09,105.15 523.18,105.15 523.26,105.15 523.35,105.25 523.44,106.78 523.52,108.43 523.61,110.19 523.69,112.06 523.78,114.02 523.87,116.07 523.95,118.20 524.04,120.41 524.13,122.69 524.21,125.04 524.30,127.45 524.39,129.94 524.47,132.74 524.56,135.80 524.65,139.03 524.73,142.36 524.82,145.70 524.91,148.96 524.99,152.07 525.08,154.94 525.16,157.50 525.25,159.90 525.34,162.22 525.42,164.47 525.51,166.65 525.60,168.75 525.68,170.78 525.77,172.74 525.86,174.63 525.94,176.45 526.03,178.20 526.12,179.89 526.20,181.53 526.29,183.13 526.38,184.70 526.46,186.23 526.55,187.73 526.63,189.19 526.72,190.60 526.81,191.96 526.89,193.28 526.98,194.55 527.07,195.76 527.15,196.91 527.24,198.00 527.33,198.00 527.41,198.00 527.50,197.92 527.59,197.11 527.67,196.25 527.76,195.33 527.84,194.37 527.93,193.36 528.02,192.30 528.10,191.21 528.19,190.08 528.28,188.91 528.36,187.71 528.45,186.48 528.54,185.23 528.62,183.91 528.71,182.51 528.80,181.02 528.88,179.46 528.97,177.83 529.06,176.15 529.14,174.41 529.23,172.63 529.31,170.82 529.40,168.98 529.49,167.12 529.57,165.25 529.66,163.39 529.75,161.53 529.83,159.60 529.92,157.55 530.01,155.42 530.09,153.23 530.18,151.01 530.27,148.80 530.35,146.62 530.44,144.52 530.52,142.51 530.61,140.63 530.70,138.91 530.78,137.36 530.87,135.87 530.96,134.42 531.04,133.02 531.13,131.66 531.22,130.37 531.30,129.13 531.39,127.96 531.48,126.86 531.56,125.84 531.65,124.90 531.74,124.04 531.82,123.25 531.91,122.50 531.99,121.78 532.08,121.10 532.17,120.45 532.25,119.83 532.34,119.25 532.43,118.69 532.51,118.17 532.60,117.67 532.69,117.21 532.77,116.77 532.86,116.37 532.95,115.98 533.03,115.59 533.12,115.22 533.21,114.86 533.29,114.50 533.38,114.16 533.46,113.82 533.55,113.50 533.64,113.18 533.72,112.88 533.81,112.58 533.90,112.30 533.98,112.02 534.07,111.76 534.16,111.51 534.24,111.26 534.33,111.03 534.42,110.80 534.50,110.59 534.59,110.39 534.67,110.20 534.76,110.02 534.85,109.85 534.93,109.68 535.02,109.52 535.11,109.37 535.19,109.21 535.28,109.06 535.37,108.92 535.45,108.77 535.54,108.64 535.63,108.50 535.71,108.37 535.80,108.24 535.89,108.12 535.97,107.99 536.06,107.88 536.14,107.76 536.23,107.65 536.32,107.55 536.40,107.44 536.49,107.34 536.58,107.25 536.66,107.16 536.75,107.07 536.84,106.98 536.92,106.90 537.01,106.82 537.10,106.75 537.18,106.68 537.27,106.62 537.36,106.55 537.44,106.49 537.53,106.43 537.61,106.37 537.70,106.31 537.79,106.25 537.87,106.19 537.96,106.13 538.05,106.08 538.13,106.02 538.22,105.96 538.31,105.91 538.39,105.85 538.48,105.80 538.57,105.75 538.65,105.70 538.74,105.65 538.83,105.60 538.91,105.56 539.00,105.52 539.08,105.47 539.17,105.44 539.26,105.40 539.34,105.36 539.43,105.33 539.52,105.30 539.60,105.27 539.69,105.25 539.78,105.22 539.86,105.20 539.95,105.19 540.04,105.17 540.12,105.16 540.21,105.16 540.29,105.15 540.38,105.15 540.47,105.15 540.55,105.15 540.64,105.15 540.73,105.15 540.81,105.15 540.90,105.15" fill="none" stroke="#4545ff" stroke-width="1.05" stroke-linejoin="round"/>
<polyline points="180.60,369.85 180.64,369.00 180.67,368.15 180.71,367.31 180.75,366.48 180.78,365.66 180.82,364.84 180.86,364.03 180.89,363.23 180.93,362.44 180.96,361.65 181.00,360.87 181.04,360.10 181.07,359.34 181.11,358.59 181.15,357.84 181.18,357.10 181.22,356.37 181.26,355.65 181.29,354.93 181.33,354.23 181.37,353.53 181.40,352.84 181.44,352.15 181.48,351.45 181.51,350.74 181.55,350.03 181.58,349.32 181.62,348.61 181.66,347.91 181.69,347.22 181.73,346.54 181.77,345.88 181.80,345.23 181.84,344.61 181.88,344.01 181.91,343.43 181.95,342.88 181.99,342.37 182.02,341.89 182.06,341.45 182.10,341.05 182.13,340.68 182.17,340.32 182.20,339.96 182.24,339.61 182.28,339.26 182.31,338.93 182.35,338.60 182.39,338.29 182.42,337.99 182.46,337.70 182.50,337.43 182.53,337.18 182.57,336.94 182.61,336.72 182.64,336.52 182.68,336.34 182.72,336.18 182.75,336.05 182.79,335.94 182.82,336.01 182.86,336.16 182.90,336.33 182.93,336.50 182.97,336.68 183.01,336.88 183.04,337.08 183.08,337.28 183.12,337.50 183.15,337.73 183.19,337.96 183.23,338.20 183.26,338.44 183.30,338.70 183.33,338.95 183.37,339.22 183.41,339.49 183.44,339.77 183.48,340.05 183.52,340.34 183.55,340.63 183.59,340.92 183.63,341.23 183.66,341.56 183.70,341.91 183.74,342.28 183.77,342.66 183.81,343.07 183.85,343.49 183.88,343.93 183.92,344.37 183.95,344.83 183.99,345.30 184.03,345.77 184.06,346.25 184.10,346.73 184.14,347.22 184.17,347.70 184.21,348.19 184.25,348.67 184.28,349.15 184.32,349.62 184.36,350.09 184.39,350.54 184.43,350.99 184.47,351.42 184.50,351.84 184.54,352.24 184.57,352.63 184.61,352.99 184.65,353.36 184.68,353.72 184.72,354.09 184.76,354.46 184.79,354.82 184.83,355.19 184.87,355.55 184.90,355.92 184.94,356.28 184.98,356.64 185.01,356.99 185.05,357.35 185.09,357.69 185.12,358.04 185.16,358.38 185.19,358.71 185.23,359.04 185.27,359.36 185.30,359.68 185.34,359.99 185.38,360.29 185.41,360.58 185.45,360.87 185.49,361.14 185.52,361.41 185.56,361.66 185.60,361.91 185.63,362.14 185.67,362.36 185.71,362.57 185.74,362.77 185.78,362.96 185.81,363.13 185.85,363.30 185.89,363.47 185.92,363.63 185.96,363.79 186.00,363.95 186.03,364.10 186.07,364.26 186.11,364.41 186.14,364.56 186.18,364.70 186.22,364.84 186.25,364.98 186.29,365.12 186.33,365.25 186.36,365.39 186.40,365.51 186.43,365.64 186.47,365.76 186.51,365.88 186.54,366.00 186.58,366.12 186.62,366.23 186.65,366.34 186.69,366.45 186.73,366.55 186.76,366.65 186.80,366.75 186.84,366.85 186.87,366.94 186.91,367.03 186.95,367.12 186.98,367.20 187.02,367.28 187.05,367.36 187.09,367.44 187.13,367.51 187.16,367.58 187.20,367.65 187.24,367.71 187.27,367.77 187.31,367.83 187.35,367.89 187.38,367.94 187.42,368.00 187.46,368.06 187.49,368.11 187.53,368.17 187.57,368.23 187.60,368.28 187.64,368.34 187.67,368.39 187.71,368.45 187.75,368.50 187.78,368.55 187.82,368.61 187.86,368.66 187.89,368.71 187.93,368.76 187.97,368.81 188.00,368.86 188.04,368.91 188.08,368.95 188.11,369.00 188.15,369.05 188.19,369.09 188.22,369.14 188.26,369.18 188.29,369.22 188.33,369.26 188.37,369.30 188.40,369.34 188.44,369.38 188.48,369.41 188.51,369.45 188.55,369.48 188.59,369.52 188.62,369.55 188.66,369.58 188.70,369.61 188.73,369.63 188.77,369.66 188.81,369.68 188.84,369.71 188.88,369.73 188.91,369.75 188.95,369.76 188.99,369.78 189.02,369.80 189.06,369.81 189.10,369.82 189.13,369.83 189.17,369.84 189.21,369.84 189.24,369.85 189.28,369.85 189.32,369.85 189.35,369.85 189.39,369.85 189.42,369.85 189.46,369.85 189.50,369.85 189.53,369.85 189.57,369.85 189.61,369.85 189.64,369.85 189.68,369.85 189.72,369.85 189.75,369.85 189.79,370.02 189.83,370.40 189.86,370.96 189.90,371.66 189.94,372.46 189.97,373.33 190.01,374.27 190.04,375.67 190.08,377.53 190.12,379.66 190.15,381.90 190.19,384.07 190.23,386.01 190.26,387.59 190.30,389.03 190.34,390.41 190.37,391.72 190.41,392.98 190.45,394.20 190.48,395.38 190.52,396.53 190.56,397.67 190.59,398.80 190.63,399.93 190.66,401.07 190.70,402.20 190.74,403.32 190.77,404.42 190.81,405.51 190.85,406.58 190.88,407.63 190.92,408.67 190.96,409.68 190.99,410.67 191.03,411.64 191.07,412.58 191.10,413.52 191.14,414.45 191.18,415.38 191.21,416.30 191.25,417.22 191.28,418.13 191.32,419.03 191.36,419.93 191.39,420.82 191.43,421.70 191.47,422.58 191.50,423.44 191.54,424.30 191.58,425.15 191.61,425.99 191.65,426.82 191.69,427.64 191.72,428.46 191.76,429.26 191.80,430.05 191.83,430.83 191.87,431.60 191.90,432.35 191.94,433.10 191.98,433.83 192.01,434.55 192.05,435.26 192.09,435.96 192.12,436.64 192.16,437.30 192.20,437.96 192.23,437.26 192.27,436.56 192.31,435.85 192.34,435.12 192.38,434.38 192.42,433.64 192.45,432.88 192.49,432.12 192.52,431.35 192.56,430.56 192.60,429.77 192.63,428.97 192.67,428.16 192.71,427.34 192.74,426.52 192.78,425.69 192.82,424.85 192.85,424.00 192.89,423.14 192.93,422.27 192.96,421.38 193.00,420.47 193.04,419.54 193.07,418.60 193.11,417.64 193.14,416.68 193.18,415.70 193.22,414.72 193.25,413.74 193.29,412.75 193.33,411.77 193.36,410.79 193.40,409.82 193.44,408.86 193.47,407.92 193.51,406.98 193.55,406.02 193.58,405.04 193.62,404.03 193.66,403.01 193.69,401.99 193.73,400.96 193.76,399.95 193.80,398.95 193.84,397.98 193.87,397.03 193.91,396.12 193.95,395.26 193.98,394.44 194.02,393.69 194.06,393.00 194.09,392.38 194.13,391.82 194.17,391.28 194.20,390.76 194.24,390.26 194.27,389.78 194.31,389.31 194.35,388.86 194.38,388.43 194.42,388.01 194.46,387.60 194.49,387.21 194.53,386.83 194.57,386.46 194.60,386.10 194.64,385.75 194.68,385.40 194.71,385.07 194.75,384.74 194.79,384.42 194.82,384.11 194.86,383.79 194.89,383.48 194.93,383.18 194.97,382.88 195.00,382.58 195.04,382.29 195.08,382.00 195.11,381.72 195.15,381.45 195.19,381.17 195.22,380.91 195.26,380.65 195.30,380.39 195.33,380.15 195.37,379.90 195.41,379.67 195.44,379.44 195.48,379.22 195.51,379.00 195.55,378.79 195.59,378.59 195.62,378.39 195.66,378.20 195.70,378.02 195.73,377.84 195.77,377.67 195.81,377.50 195.84,377.33 195.88,377.17 195.92,377.01 195.95,376.85 195.99,376.69 196.03,376.54 196.06,376.39 196.10,376.24 196.13,376.10 196.17,375.95 196.21,375.81 196.24,375.67 196.28,375.54 196.32,375.41 196.35,375.27 196.39,375.15 196.43,375.02 196.46,374.89 196.50,374.77 196.54,374.65 196.57,374.53 196.61,374.41 196.65,374.30 196.68,374.18 196.72,374.07 196.75,373.96 196.79,373.85 196.83,373.74 196.86,373.63 196.90,373.53 196.94,373.42 196.97,373.32 197.01,373.22 197.05,373.12 197.08,373.01 197.12,372.91 197.16,372.81 197.19,372.71 197.23,372.60 197.27,372.50 197.30,372.40 197.34,372.30 197.37,372.20 197.41,372.10 197.45,372.01 197.48,371.91 197.52,371.82 197.56,371.73 197.59,371.64 197.63,371.55 197.67,371.46 197.70,371.38 197.74,371.30 197.78,371.22 197.81,371.14 197.85,371.07 197.89,370.99 197.92,370.93 197.96,370.86 197.99,370.80 198.03,370.74 198.07,370.69 198.10,370.64 198.14,370.59 198.18,370.55 198.21,370.51 198.25,370.48 198.29,370.44 198.32,370.40 198.36,370.37 198.40,370.33 198.43,370.29 198.47,370.26 198.51,370.22 198.54,370.19 198.58,370.16 198.61,370.13 198.65,370.10 198.69,370.07 198.72,370.04 198.76,370.01 198.80,369.99 198.83,369.97 198.87,369.95 198.91,369.93 198.94,369.91 198.98,369.89 199.02,369.88 199.05,369.87 199.09,369.72 199.13,369.36 199.16,368.81 199.20,368.12 199.23,367.32 199.27,366.45 199.31,365.52 199.34,364.17 199.38,362.35 199.42,360.22 199.45,357.96 199.49,355.75 199.53,353.75 199.56,352.12 199.60,350.65 199.64,349.25 199.67,347.92 199.71,346.64 199.75,345.41 199.78,344.21 199.82,343.04 199.85,341.89 199.89,340.75 199.93,339.60 199.96,338.45 200.00,337.31 200.04,336.18 200.07,335.07 200.11,333.96 200.15,332.88 200.18,331.81 200.22,330.77 200.26,329.74 200.29,328.74 200.33,327.76 200.36,326.80 200.40,325.86 200.44,324.91 200.47,323.98 200.51,323.04 200.55,322.12 200.58,321.20 200.62,320.28 200.66,319.38 200.69,318.48 200.73,317.58 200.77,316.70 200.80,315.82 200.84,314.95 200.88,314.10 200.91,313.25 200.95,312.40 200.98,311.57 201.02,310.75 201.06,309.94 201.09,309.14 201.13,308.35 201.17,307.57 201.20,306.81 201.24,306.05 201.28,305.31 201.31,304.58 201.35,303.86 201.39,303.16 201.42,302.47 201.46,301.79 201.50,301.13 201.53,301.66 201.57,302.37 201.60,303.09 201.64,303.82 201.68,304.57 201.71,305.32 201.75,306.08 201.79,306.85 201.82,307.63 201.86,308.42 201.90,309.22 201.93,310.03 201.97,310.84 202.01,311.67 202.04,312.50 202.08,313.34 202.12,314.19 202.15,315.04 202.19,315.91 202.22,316.78 202.26,317.68 202.30,318.59 202.33,319.53 202.37,320.48 202.41,321.45 202.44,322.42 202.48,323.41 202.52,324.40 202.55,325.39 202.59,326.38 202.63,327.38 202.66,328.36 202.70,329.35 202.74,330.32 202.77,331.28 202.81,332.22 202.84,333.19 202.88,334.18 202.92,335.19 202.95,336.22 202.99,337.26 203.03,338.29 203.06,339.32 203.10,340.33 203.14,341.31 203.17,342.27 203.21,343.20 203.25,344.08 203.28,344.90 203.32,345.67 203.36,346.38 203.39,347.01 203.43,347.58 203.46,348.13 203.50,348.66 203.54,349.17 203.57,349.66 203.61,350.13 203.65,350.59 203.68,351.03 203.72,351.46 203.76,351.87 203.79,352.27 203.83,352.65 203.87,353.03 203.90,353.39 203.94,353.75 203.98,354.09 204.01,354.43 204.05,354.76 204.08,355.09 204.12,355.41 204.16,355.73 204.19,356.04 204.23,356.35 204.27,356.65 204.30,356.95 204.34,357.25 204.38,357.54 204.41,357.82 204.45,358.10 204.49,358.38 204.52,358.65 204.56,358.91 204.60,359.17 204.63,359.42 204.67,359.66 204.70,359.90 204.74,360.13 204.78,360.36 204.81,360.58 204.85,360.79 204.89,361.00 204.92,361.20 204.96,361.39 205.00,361.58 205.03,361.75 205.07,361.93 205.11,362.10 205.14,362.27 205.18,362.44 205.22,362.60 205.25,362.76 205.29,362.92 205.32,363.07 205.36,363.23 205.40,363.38 205.43,363.52 205.47,363.67 205.51,363.81 205.54,363.95 205.58,364.09 205.62,364.22 205.65,364.35 205.69,364.48 205.73,364.61 205.76,364.74 205.80,364.86 205.83,364.99 205.87,365.11 205.91,365.23 205.94,365.34 205.98,365.46 206.02,365.57 206.05,365.69 206.09,365.80 206.13,365.91 206.16,366.02 206.20,366.12 206.24,366.23 206.27,366.33 206.31,366.44 206.35,366.54 206.38,366.64 206.42,366.75 206.45,366.85 206.49,366.95 206.53,367.06 206.56,367.16 206.60,367.26 206.64,367.36 206.67,367.46 206.71,367.56 206.75,367.66 206.78,367.75 206.82,367.85 206.86,367.94 206.89,368.03 206.93,368.12 206.97,368.21 207.00,368.30 207.04,368.38 207.07,368.46 207.11,368.54 207.15,368.61 207.18,368.68 207.22,368.75 207.26,368.82 207.29,368.88 207.33,368.94 207.37,368.99 207.40,369.05 207.44,369.09 207.48,369.14 207.51,369.17 207.55,369.21 207.59,369.25 207.62,369.29 207.66,369.33 207.69,369.36 207.73,369.40 207.77,369.43 207.80,369.47 207.84,369.50 207.88,369.53 207.91,369.57 207.95,369.66 207.99,369.97 208.02,370.47 208.06,371.14 208.10,371.93 208.13,372.80 208.17,373.72 208.21,374.88 208.24,376.56 208.28,378.61 208.31,380.85 208.35,383.12 208.39,385.22 208.42,387.00 208.46,388.51 208.50,389.93 208.53,391.29 208.57,392.59 208.61,393.84 208.64,395.05 208.68,396.22 208.72,397.38 208.75,398.53 208.79,399.67 208.83,400.82 208.86,401.96 208.90,403.10 208.93,404.22 208.97,405.33 209.01,406.42 209.04,407.49 209.08,408.54 209.12,409.58 209.15,410.59 209.19,411.58 209.23,412.54 209.26,413.49 209.30,414.43 209.34,415.37 209.37,416.31 209.41,417.24 209.45,418.16 209.48,419.08 209.52,419.99 209.55,420.89 209.59,421.78 209.63,422.67 209.66,423.55 209.70,424.42 209.74,425.28 209.77,426.14 209.81,426.98 209.85,427.82 209.88,428.64 209.92,429.46 209.96,430.26 209.99,431.06 210.03,431.84 210.07,432.61 210.10,433.37 210.14,434.11 210.17,434.85 210.21,435.57 210.25,436.28 210.28,436.97 210.32,437.66 210.36,438.32 210.39,438.30 210.43,437.60 210.47,436.88 210.50,436.15 210.54,435.41 210.58,434.67 210.61,433.91 210.65,433.14 210.69,432.36 210.72,431.58 210.76,430.78 210.79,429.98 210.83,429.16 210.87,428.34 210.90,427.51 210.94,426.68 210.98,425.83 211.01,424.98 211.05,424.12 211.09,423.25 211.12,422.36 211.16,421.45 211.20,420.52 211.23,419.58 211.27,418.61 211.30,417.64 211.34,416.66 211.38,415.67 211.41,414.68 211.45,413.69 211.49,412.69 211.52,411.70 211.56,410.72 211.60,409.75 211.63,408.78 211.67,407.83 211.71,406.88 211.74,405.89 211.78,404.89 211.82,403.86 211.85,402.83 211.89,401.80 211.92,400.77 211.96,399.75 212.00,398.75 212.03,397.78 212.07,396.84 212.11,395.95 212.14,395.10 212.18,394.31 212.22,393.58 212.25,392.92 212.29,392.33 212.33,391.77 212.36,391.23 212.40,390.72 212.44,390.22 212.47,389.74 212.51,389.28 212.54,388.83 212.58,388.40 212.62,387.98 212.65,387.58 212.69,387.19 212.73,386.81 212.76,386.44 212.80,386.08 212.84,385.73 212.87,385.39 212.91,385.06 212.95,384.73 212.98,384.41 213.02,384.09 213.06,383.78 213.09,383.47 213.13,383.16 213.16,382.86 213.20,382.56 213.24,382.27 213.27,381.98 213.31,381.70 213.35,381.43 213.38,381.15 213.42,380.89 213.46,380.63 213.49,380.38 213.53,380.13 213.57,379.89 213.60,379.65 213.64,379.42 213.68,379.20 213.71,378.98 213.75,378.78 213.78,378.57 213.82,378.38 213.86,378.19 213.89,378.01 213.93,377.84 213.97,377.66 214.00,377.49 214.04,377.32 214.08,377.16 214.11,377.00 214.15,376.84 214.19,376.68 214.22,376.53 214.26,376.38 214.30,376.23 214.33,376.09 214.37,375.94 214.40,375.80 214.44,375.66 214.48,375.53 214.51,375.40 214.55,375.26 214.59,375.13 214.62,375.01 214.66,374.88 214.70,374.76 214.73,374.64 214.77,374.52 214.81,374.40 214.84,374.28 214.88,374.17 214.92,374.06 214.95,373.94 214.99,373.83 215.02,373.73 215.06,373.62 215.10,373.51 215.13,373.41 215.17,373.30 215.21,373.20 215.24,373.10 215.28,372.99 215.32,372.89 215.35,372.79 215.39,372.68 215.43,372.58 215.46,372.48 215.50,372.38 215.54,372.28 215.57,372.18 215.61,372.08 215.64,371.98 215.68,371.89 215.72,371.79 215.75,371.70 215.79,371.61 215.83,371.52 215.86,371.43 215.90,371.35 215.94,371.27 215.97,371.19 216.01,371.11 216.05,371.04 216.08,370.97 216.12,370.90 216.15,370.84 216.19,370.78 216.23,370.73 216.26,370.67 216.30,370.62 216.34,370.58 216.37,370.54 216.41,370.50 216.45,370.46 216.48,370.43 216.52,370.39 216.56,370.35 216.59,370.32 216.63,370.28 216.67,370.25 216.70,370.21 216.74,370.18 216.77,370.15 216.81,370.11 216.85,370.09 216.88,370.06 216.92,370.03 216.96,370.00 216.99,369.98 217.03,369.96 217.07,369.91 217.10,369.66 217.14,369.19 217.18,368.56 217.21,367.79 217.25,366.93 217.29,366.01 217.32,364.94 217.36,363.35 217.39,361.33 217.43,359.08 217.47,356.77 217.50,354.57 217.54,352.66 217.58,351.10 217.61,349.62 217.65,348.22 217.69,346.88 217.72,345.59 217.76,344.34 217.80,343.13 217.83,341.94 217.87,340.77 217.91,339.60 217.94,338.43 217.98,337.25 218.01,336.08 218.05,334.93 218.09,333.80 218.12,332.68 218.16,331.57 218.20,330.49 218.23,329.43 218.27,328.39 218.31,327.37 218.34,326.38 218.38,325.41 218.42,324.44 218.45,323.47 218.49,322.52 218.53,321.57 218.56,320.62 218.60,319.68 218.63,318.75 218.67,317.82 218.71,316.90 218.74,315.99 218.78,315.09 218.82,314.20 218.85,313.31 218.89,312.44 218.93,311.57 218.96,310.71 219.00,309.87 219.04,309.03 219.07,308.21 219.11,307.39 219.15,306.59 219.18,305.80 219.22,305.02 219.25,304.25 219.29,303.49 219.33,302.75 219.36,302.02 219.40,301.31 219.44,300.61 219.47,299.92 219.51,299.63 219.55,300.35 219.58,301.08 219.62,301.82 219.66,302.57 219.69,303.34 219.73,304.11 219.77,304.89 219.80,305.69 219.84,306.49 219.87,307.30 219.91,308.12 219.95,308.95 219.98,309.79 220.02,310.64 220.06,311.49 220.09,312.36 220.13,313.23 220.17,314.11 220.20,314.99 220.24,315.90 220.28,316.82 220.31,317.77 220.35,318.73 220.39,319.71 220.42,320.71 220.46,321.71 220.49,322.72 220.53,323.74 220.57,324.75 220.60,325.77 220.64,326.78 220.68,327.79 220.71,328.79 220.75,329.78 220.79,330.76 220.82,331.73 220.86,332.73 220.90,333.75 220.93,334.80 220.97,335.85 221.01,336.91 221.04,337.97 221.08,339.01 221.11,340.04 221.15,341.04 221.19,342.01 221.22,342.94 221.26,343.82 221.30,344.64 221.33,345.40 221.37,346.10 221.41,346.71 221.44,347.29 221.48,347.84 221.52,348.37 221.55,348.89 221.59,349.38 221.62,349.86 221.66,350.32 221.70,350.76 221.73,351.19 221.77,351.61 221.81,352.01 221.84,352.40 221.88,352.78 221.92,353.15 221.95,353.51 221.99,353.86 222.03,354.21 222.06,354.54 222.10,354.87 222.14,355.20 222.17,355.52 222.21,355.84 222.24,356.15 222.28,356.46 222.32,356.77 222.35,357.07 222.39,357.36 222.43,357.65 222.46,357.94 222.50,358.22 222.54,358.49 222.57,358.76 222.61,359.02 222.65,359.27 222.68,359.52 222.72,359.76 222.76,360.00 222.79,360.23 222.83,360.45 222.86,360.67 222.90,360.87 222.94,361.07 222.97,361.27 223.01,361.45 223.05,361.64 223.08,361.81 223.12,361.99 223.16,362.16 223.19,362.33 223.23,362.50 223.27,362.66 223.30,362.82 223.34,362.98 223.38,363.13 223.41,363.28 223.45,363.43 223.48,363.58 223.52,363.72 223.56,363.87 223.59,364.01 223.63,364.14 223.67,364.28 223.70,364.41 223.74,364.54 223.78,364.67 223.81,364.80 223.85,364.92 223.89,365.05 223.92,365.17 223.96,365.29 224.00,365.40 224.03,365.52 224.07,365.63 224.10,365.75 224.14,365.86 224.18,365.97 224.21,366.08 224.25,366.19 224.29,366.29 224.32,366.40 224.36,366.50 224.40,366.61 224.43,366.72 224.47,366.82 224.51,366.93 224.54,367.03 224.58,367.14 224.62,367.24 224.65,367.34 224.69,367.45 224.72,367.55 224.76,367.65 224.80,367.74 224.83,367.84 224.87,367.94 224.91,368.03 224.94,368.12 224.98,368.21 225.02,368.29 225.05,368.38 225.09,368.46 225.13,368.54 225.16,368.61 225.20,368.69 225.24,368.76 225.27,368.82 225.31,368.88 225.34,368.94 225.38,369.00 225.42,369.05 225.45,369.09 225.49,369.14 225.53,369.17 225.56,369.21 225.60,369.25 225.64,369.29 225.67,369.33 225.71,369.36 225.75,369.40 225.78,369.44 225.82,369.47 225.86,369.51 225.89,369.54 225.93,369.57 225.96,369.60 226.00,369.63 226.04,369.66 226.07,369.69 226.11,369.72 226.15,369.91 226.18,370.33 226.22,370.94 226.26,371.69 226.29,372.55 226.33,373.48 226.37,374.48 226.40,375.96 226.44,377.91 226.48,380.16 226.51,382.51 226.55,384.80 226.58,386.83 226.62,388.49 226.66,390.01 226.69,391.45 226.73,392.83 226.77,394.16 226.80,395.44 226.84,396.68 226.88,397.89 226.91,399.09 226.95,400.28 226.99,401.46 227.02,402.66 227.06,403.85 227.09,405.02 227.13,406.18 227.17,407.32 227.20,408.45 227.24,409.56 227.28,410.64 227.31,411.71 227.35,412.75 227.39,413.76 227.42,414.75 227.46,415.74 227.50,416.72 227.53,417.69 227.57,418.66 227.61,419.63 227.64,420.58 227.68,421.53 227.71,422.48 227.75,423.41 227.79,424.34 227.82,425.26 227.86,426.17 227.90,427.07 227.93,427.96 227.97,428.85 228.01,429.72 228.04,430.58 228.08,431.44 228.12,432.28 228.15,433.11 228.19,433.93 228.23,434.74 228.26,435.53 228.30,436.31 228.33,437.09 228.37,437.84 228.41,438.59 228.44,439.32 228.48,440.03 228.52,440.73 228.55,441.42 228.59,440.69 228.63,439.95 228.66,439.20 228.70,438.44 228.74,437.67 228.77,436.88 228.81,436.09 228.85,435.29 228.88,434.47 228.92,433.65 228.95,432.82 228.99,431.98 229.03,431.13 229.06,430.27 229.10,429.40 229.14,428.53 229.17,427.64 229.21,426.75 229.25,425.85 229.28,424.94 229.32,424.00 229.36,423.05 229.39,422.07 229.43,421.08 229.47,420.07 229.50,419.06 229.54,418.03 229.57,417.00 229.61,415.97 229.65,414.93 229.68,413.90 229.72,412.88 229.76,411.86 229.79,410.85 229.83,409.85 229.87,408.87 229.90,407.86 229.94,406.82 229.98,405.77 230.01,404.70 230.05,403.62 230.09,402.55 230.12,401.48 230.16,400.43 230.19,399.41 230.23,398.41 230.27,397.46 230.30,396.55 230.34,395.70 230.38,394.90 230.41,394.18 230.45,393.53 230.49,392.94 230.52,392.37 230.56,391.82 230.60,391.30 230.63,390.79 230.67,390.30 230.71,389.83 230.74,389.37 230.78,388.93 230.81,388.50 230.85,388.09 230.89,387.69 230.92,387.30 230.96,386.92 231.00,386.55 231.03,386.20 231.07,385.84 231.11,385.50 231.14,385.16 231.18,384.83 231.22,384.50 231.25,384.18 231.29,383.86 231.33,383.54 231.36,383.23 231.40,382.92 231.43,382.62 231.47,382.33 231.51,382.03 231.54,381.75 231.58,381.47 231.62,381.20 231.65,380.93 231.69,380.67 231.73,380.42 231.76,380.17 231.80,379.93 231.84,379.69 231.87,379.46 231.91,379.24 231.95,379.03 231.98,378.82 232.02,378.63 232.05,378.43 232.09,378.25 232.13,378.07 232.16,377.89 232.20,377.71 232.24,377.54 232.27,377.37 232.31,377.20 232.35,377.04 232.38,376.88 232.42,376.72 232.46,376.57 232.49,376.41 232.53,376.26 232.56,376.12 232.60,375.97 232.64,375.83 232.67,375.69 232.71,375.55 232.75,375.41 232.78,375.28 232.82,375.15 232.86,375.02 232.89,374.89 232.93,374.77 232.97,374.64 233.00,374.52 233.04,374.40 233.08,374.28 233.11,374.17 233.15,374.05 233.18,373.94 233.22,373.83 233.26,373.71 233.29,373.60 233.33,373.50 233.37,373.39 233.40,373.28 233.44,373.17 233.48,373.07 233.51,372.96 233.55,372.85 233.59,372.74 233.62,372.64 233.66,372.53 233.70,372.43 233.73,372.32 233.77,372.22 233.80,372.12 233.84,372.02 233.88,371.92 233.91,371.82 233.95,371.73 233.99,371.63 234.02,371.54 234.06,371.45 234.10,371.37 234.13,371.29 234.17,371.20 234.21,371.13 234.24,371.05 234.28,370.98 234.32,370.91 234.35,370.85 234.39,370.79 234.42,370.73 234.46,370.68 234.50,370.63 234.53,370.59 234.57,370.55 234.61,370.51 234.64,370.47 234.68,370.43 234.72,370.39 234.75,370.35 234.79,370.32 234.83,370.28 234.86,370.24 234.90,370.21 234.94,370.17 234.97,370.14 235.01,370.11 235.04,370.08 235.08,370.05 235.12,370.02 235.15,370.00 235.19,369.81 235.23,369.40 235.26,368.79 235.30,368.03 235.34,367.16 235.37,366.22 235.41,365.22 235.45,363.75 235.48,361.79 235.52,359.51 235.56,357.11 235.59,354.77 235.63,352.67 235.66,350.96 235.70,349.41 235.74,347.93 235.77,346.52 235.81,345.17 235.85,343.86 235.88,342.59 235.92,341.35 235.96,340.13 235.99,338.92 236.03,337.71 236.07,336.49 236.10,335.28 236.14,334.08 236.18,332.90 236.21,331.73 236.25,330.58 236.28,329.46 236.32,328.35 236.36,327.26 236.39,326.20 236.43,325.16 236.47,324.15 236.50,323.14 236.54,322.14 236.58,321.15 236.61,320.16 236.65,319.18 236.69,318.20 236.72,317.24 236.76,316.27 236.80,315.32 236.83,314.38 236.87,313.44 236.90,312.51 236.94,311.59 236.98,310.68 237.01,309.78 237.05,308.89 237.09,308.00 237.12,307.13 237.16,306.28 237.20,305.43 237.23,304.59 237.27,303.77 237.31,302.95 237.34,302.16 237.38,301.37 237.42,300.60 237.45,299.84 237.49,299.09 237.52,298.36 237.56,297.64 237.60,296.94 237.63,297.58 237.67,298.34 237.71,299.10 237.74,299.88 237.78,300.67 237.82,301.46 237.85,302.27 237.89,303.09 237.93,303.92 237.96,304.76 238.00,305.60 238.03,306.46 238.07,307.33 238.11,308.20 238.14,309.08 238.18,309.98 238.22,310.88 238.25,311.78 238.29,312.70 238.33,313.63 238.36,314.58 238.40,315.55 238.44,316.55 238.47,317.56 238.51,318.58 238.55,319.62 238.58,320.66 238.62,321.71 238.65,322.76 238.69,323.82 238.73,324.87 238.76,325.92 238.80,326.96 238.84,327.98 238.87,329.00 238.91,330.00 238.95,331.03 238.98,332.08 239.02,333.16 239.06,334.25 239.09,335.35 239.13,336.44 239.17,337.53 239.20,338.60 239.24,339.65 239.27,340.66 239.31,341.64 239.35,342.57 239.38,343.44 239.42,344.26 239.46,345.00 239.49,345.67 239.53,346.27 239.57,346.85 239.60,347.41 239.64,347.95 239.68,348.47 239.71,348.97 239.75,349.45 239.79,349.92 239.82,350.37 239.86,350.81 239.89,351.23 239.93,351.64 239.97,352.03 240.00,352.42 240.04,352.80 240.08,353.16 240.11,353.52 240.15,353.87 240.19,354.22 240.22,354.56 240.26,354.89 240.30,355.22 240.33,355.55 240.37,355.87 240.41,356.19 240.44,356.50 240.48,356.81 240.51,357.11 240.55,357.41 240.59,357.70 240.62,357.98 240.66,358.26 240.70,358.54 240.73,358.80 240.77,359.06 240.81,359.31 240.84,359.56 240.88,359.80 240.92,360.03 240.95,360.26 240.99,360.48 241.03,360.69 241.06,360.89 241.10,361.09 241.13,361.28 241.17,361.46 241.21,361.64 241.24,361.82 241.28,362.00 241.32,362.17 241.35,362.34 241.39,362.51 241.43,362.67 241.46,362.83 241.50,362.99 241.54,363.15 241.57,363.30 241.61,363.45 241.65,363.60 241.68,363.75 241.72,363.89 241.75,364.03 241.79,364.17 241.83,364.30 241.86,364.44 241.90,364.57 241.94,364.70 241.97,364.83 242.01,364.95 242.05,365.08 242.08,365.20 242.12,365.32 242.16,365.44 242.19,365.56 242.23,365.68 242.27,365.79 242.30,365.90 242.34,366.01 242.37,366.13 242.41,366.24 242.45,366.34 242.48,366.45 242.52,366.56 242.56,366.67 242.59,366.78 242.63,366.89 242.67,367.00 242.70,367.11 242.74,367.22 242.78,367.32 242.81,367.43 242.85,367.53 242.89,367.63 242.92,367.73 242.96,367.83 242.99,367.93 243.03,368.03 243.07,368.12 243.10,368.21 243.14,368.30 243.18,368.38 243.21,368.46 243.25,368.54 243.29,368.62 243.32,368.69 243.36,368.76 243.40,368.83 243.43,368.89 243.47,368.95 243.50,369.00 243.54,369.05 243.58,369.10 243.61,369.14 243.65,369.18 243.69,369.22 243.72,369.26 243.76,369.30 243.80,369.33 243.83,369.37 243.87,369.41 243.91,369.45 243.94,369.48 243.98,369.52 244.02,369.55 244.05,369.58 244.09,369.61 244.12,369.64 244.16,369.67 244.20,369.70 244.23,369.72 244.27,369.75 244.31,369.83 244.34,370.15 244.38,370.68 244.42,371.38 244.45,372.20 244.49,373.12 244.53,374.10 244.56,375.31 244.60,377.10 244.64,379.28 244.67,381.67 244.71,384.08 244.74,386.32 244.78,388.22 244.82,389.82 244.85,391.35 244.89,392.80 244.93,394.19 244.96,395.53 245.00,396.82 245.04,398.08 245.07,399.32 245.11,400.55 245.15,401.77 245.18,403.00 245.22,404.23 245.26,405.44 245.29,406.64 245.33,407.83 245.36,408.99 245.40,410.14 245.44,411.27 245.47,412.38 245.51,413.46 245.55,414.52 245.58,415.55 245.62,416.57 245.66,417.58 245.69,418.58 245.73,419.58 245.77,420.58 245.80,421.56 245.84,422.55 245.88,423.52 245.91,424.48 245.95,425.44 245.98,426.39 246.02,427.33 246.06,428.27 246.09,429.19 246.13,430.10 246.17,431.01 246.20,431.90 246.24,432.79 246.28,433.66 246.31,434.52 246.35,435.37 246.39,436.21 246.42,437.03 246.46,437.84 246.50,438.64 246.53,439.43 246.57,440.20 246.60,440.96 246.64,441.70 246.68,442.43 246.71,443.15 246.75,443.13 246.79,442.37 246.82,441.60 246.86,440.82 246.90,440.03 246.93,439.23 246.97,438.42 247.01,437.60 247.04,436.77 247.08,435.93 247.12,435.07 247.15,434.21 247.19,433.34 247.22,432.46 247.26,431.58 247.30,430.68 247.33,429.78 247.37,428.86 247.41,427.94 247.44,427.01 247.48,426.06 247.52,425.09 247.55,424.09 247.59,423.08 247.63,422.05 247.66,421.01 247.70,419.96 247.74,418.90 247.77,417.84 247.81,416.78 247.84,415.71 247.88,414.65 247.92,413.60 247.95,412.56 247.99,411.52 248.03,410.51 248.06,409.49 248.10,408.43 248.14,407.36 248.17,406.26 248.21,405.16 248.25,404.05 248.28,402.95 248.32,401.86 248.36,400.79 248.39,399.75 248.43,398.75 248.46,397.79 248.50,396.88 248.54,396.03 248.57,395.25 248.61,394.54 248.65,393.91 248.68,393.32 248.72,392.74 248.76,392.19 248.79,391.66 248.83,391.14 248.87,390.65 248.90,390.17 248.94,389.71 248.97,389.26 249.01,388.83 249.05,388.41 249.08,388.01 249.12,387.61 249.16,387.23 249.19,386.85 249.23,386.49 249.27,386.13 249.30,385.78 249.34,385.44 249.38,385.10 249.41,384.76 249.45,384.43 249.49,384.10 249.52,383.78 249.56,383.46 249.59,383.15 249.63,382.84 249.67,382.54 249.70,382.24 249.74,381.95 249.78,381.67 249.81,381.39 249.85,381.12 249.89,380.85 249.92,380.59 249.96,380.34 250.00,380.10 250.03,379.86 250.07,379.63 250.11,379.41 250.14,379.19 250.18,378.98 250.21,378.78 250.25,378.59 250.29,378.40 250.32,378.21 250.36,378.03 250.40,377.85 250.43,377.68 250.47,377.50 250.51,377.33 250.54,377.17 250.58,377.00 250.62,376.84 250.65,376.68 250.69,376.53 250.73,376.37 250.76,376.22 250.80,376.07 250.83,375.93 250.87,375.79 250.91,375.65 250.94,375.51 250.98,375.37 251.02,375.24 251.05,375.10 251.09,374.97 251.13,374.85 251.16,374.72 251.20,374.60 251.24,374.47 251.27,374.35 251.31,374.23 251.35,374.11 251.38,374.00 251.42,373.88 251.45,373.77 251.49,373.66 251.53,373.55 251.56,373.44 251.60,373.33 251.64,373.21 251.67,373.10 251.71,372.99 251.75,372.88 251.78,372.77 251.82,372.66 251.86,372.55 251.89,372.45 251.93,372.34 251.97,372.24 252.00,372.13 252.04,372.03 252.07,371.93 252.11,371.83 252.15,371.73 252.18,371.64 252.22,371.55 252.26,371.46 252.29,371.37 252.33,371.29 252.37,371.20 252.40,371.13 252.44,371.05 252.48,370.98 252.51,370.91 252.55,370.85 252.59,370.79 252.62,370.73 252.66,370.68 252.69,370.63 252.73,370.59 252.77,370.55 252.80,370.51 252.84,370.47 252.88,370.43 252.91,370.39 252.95,370.35 252.99,370.31 253.02,370.27 253.06,370.24 253.10,370.20 253.13,370.17 253.17,370.10 253.21,369.80 253.24,369.28 253.28,368.58 253.31,367.74 253.35,366.80 253.39,365.79 253.42,364.62 253.46,362.86 253.50,360.68 253.53,358.24 253.57,355.76 253.61,353.41 253.64,351.39 253.68,349.72 253.72,348.15 253.75,346.65 253.79,345.22 253.83,343.84 253.86,342.51 253.90,341.22 253.93,339.95 253.97,338.69 254.01,337.45 254.04,336.19 254.08,334.94 254.12,333.69 254.15,332.46 254.19,331.25 254.23,330.05 254.26,328.88 254.30,327.72 254.34,326.58 254.37,325.47 254.41,324.39 254.44,323.33 254.48,322.29 254.52,321.25 254.55,320.23 254.59,319.20 254.63,318.18 254.66,317.17 254.70,316.17 254.74,315.17 254.77,314.19 254.81,313.21 254.85,312.23 254.88,311.27 254.92,310.31 254.96,309.37 254.99,308.43 255.03,307.51 255.06,306.59 255.10,305.69 255.14,304.80 255.17,303.91 255.21,303.04 255.25,302.19 255.28,301.34 255.32,300.51 255.36,299.69 255.39,298.88 255.43,298.09 255.47,297.31 255.50,296.55 255.54,295.80 255.58,295.07 255.61,294.83 255.65,295.60 255.68,296.39 255.72,297.18 255.76,297.99 255.79,298.80 255.83,299.63 255.87,300.47 255.90,301.32 255.94,302.17 255.98,303.04 256.01,303.92 256.05,304.81 256.09,305.71 256.12,306.61 256.16,307.53 256.20,308.45 256.23,309.38 256.27,310.32 256.30,311.27 256.34,312.24 256.38,313.23 256.41,314.24 256.45,315.27 256.49,316.32 256.52,317.38 256.56,318.45 256.60,319.53 256.63,320.62 256.67,321.71 256.71,322.79 256.74,323.88 256.78,324.95 256.82,326.02 256.85,327.08 256.89,328.12 256.92,329.16 256.96,330.23 257.00,331.33 257.03,332.45 257.07,333.57 257.11,334.71 257.14,335.83 257.18,336.95 257.22,338.05 257.25,339.11 257.29,340.15 257.33,341.14 257.36,342.07 257.40,342.95 257.44,343.76 257.47,344.50 257.51,345.15 257.54,345.77 257.58,346.36 257.62,346.92 257.65,347.47 257.69,348.00 257.73,348.51 257.76,349.00 257.80,349.48 257.84,349.93 257.87,350.38 257.91,350.81 257.95,351.23 257.98,351.63 258.02,352.02 258.06,352.41 258.09,352.78 258.13,353.15 258.16,353.51 258.20,353.86 258.24,354.21 258.27,354.55 258.31,354.89 258.35,355.23 258.38,355.56 258.42,355.89 258.46,356.21 258.49,356.52 258.53,356.83 258.57,357.13 258.60,357.43 258.64,357.72 258.68,358.01 258.71,358.29 258.75,358.56 258.78,358.83 258.82,359.08 258.86,359.34 258.89,359.58 258.93,359.82 258.97,360.05 259.00,360.27 259.04,360.48 259.08,360.69 259.11,360.89 259.15,361.08 259.19,361.27 259.22,361.46 259.26,361.64 259.30,361.82 259.33,362.00 259.37,362.17 259.40,362.34 259.44,362.51 259.48,362.68 259.51,362.84 259.55,363.00 259.59,363.16 259.62,363.31 259.66,363.46 259.70,363.61 259.73,363.76 259.77,363.90 259.81,364.04 259.84,364.18 259.88,364.32 259.91,364.46 259.95,364.59 259.99,364.72 260.02,364.85 260.06,364.98 260.10,365.10 260.13,365.23 260.17,365.35 260.21,365.47 260.24,365.59 260.28,365.71 260.32,365.82 260.35,365.94 260.39,366.05 260.43,366.17 260.46,366.28 260.50,366.39 260.53,366.51 260.57,366.62 260.61,366.73 260.64,366.84 260.68,366.96 260.72,367.07 260.75,367.18 260.79,367.29 260.83,367.39 260.86,367.50 260.90,367.61 260.94,367.71 260.97,367.81 261.01,367.91 261.05,368.01 261.08,368.10 261.12,368.19 261.15,368.28 261.19,368.37 261.23,368.45 261.26,368.53 261.30,368.61 261.34,368.68 261.37,368.75 261.41,368.82 261.45,368.88 261.48,368.94 261.52,368.99 261.56,369.04 261.59,369.09 261.63,369.13 261.67,369.17 261.70,369.21 261.74,369.25 261.77,369.29 261.81,369.33 261.85,369.37 261.88,369.41 261.92,369.45 261.96,369.48 261.99,369.52 262.03,369.55 262.07,369.59 262.10,369.62 262.14,369.65 262.18,369.68 262.21,369.70 262.25,369.73 262.29,369.75 262.32,369.77 262.36,369.79 262.39,369.81 262.43,369.82 262.47,369.84 262.50,370.03 262.54,370.46 262.58,371.09 262.61,371.87 262.65,372.77 262.69,373.75 262.72,374.79 262.76,376.36 262.80,378.44 262.83,380.82 262.87,383.33 262.91,385.76 262.94,387.93 262.98,389.69 263.01,391.31 263.05,392.85 263.09,394.32 263.12,395.73 263.16,397.09 263.20,398.41 263.23,399.70 263.27,400.97 263.31,402.24 263.34,403.50 263.38,404.78 263.42,406.04 263.45,407.29 263.49,408.52 263.53,409.74 263.56,410.94 263.60,412.12 263.63,413.27 263.67,414.41 263.71,415.51 263.74,416.59 263.78,417.65 263.82,418.70 263.85,419.74 263.89,420.78 263.93,421.81 263.96,422.84 264.00,423.86 264.04,424.87 264.07,425.87 264.11,426.87 264.15,427.85 264.18,428.83 264.22,429.80 264.25,430.76 264.29,431.71 264.33,432.65 264.36,433.58 264.40,434.50 264.44,435.41 264.47,436.30 264.51,437.19 264.55,438.06 264.58,438.92 264.62,439.77 264.66,440.60 264.69,441.42 264.73,442.23 264.77,443.02 264.80,443.80 264.84,444.56 264.87,445.31 264.91,446.04 264.95,445.26 264.98,444.47 265.02,443.67 265.06,442.86 265.09,442.04 265.13,441.21 265.17,440.36 265.20,439.51 265.24,438.64 265.28,437.77 265.31,436.88 265.35,435.98 265.38,435.08 265.42,434.17 265.46,433.24 265.49,432.31 265.53,431.37 265.57,430.42 265.60,429.47 265.64,428.49 265.68,427.50 265.71,426.48 265.75,425.44 265.79,424.38 265.82,423.31 265.86,422.23 265.90,421.14 265.93,420.04 265.97,418.94 266.00,417.84 266.04,416.75 266.08,415.65 266.11,414.57 266.15,413.49 266.19,412.43 266.22,411.39 266.26,410.31 266.30,409.21 266.33,408.08 266.37,406.95 266.41,405.80 266.44,404.66 266.48,403.52 266.52,402.40 266.55,401.31 266.59,400.26 266.62,399.24 266.66,398.27 266.70,397.36 266.73,396.52 266.77,395.75 266.81,395.06 266.84,394.43 266.88,393.83 266.92,393.24 266.95,392.68 266.99,392.14 267.03,391.62 267.06,391.12 267.10,390.63 267.14,390.16 267.17,389.71 267.21,389.27 267.24,388.84 267.28,388.43 267.32,388.02 267.35,387.63 267.39,387.25 267.43,386.88 267.46,386.51 267.50,386.15 267.54,385.80 267.57,385.45 267.61,385.10 267.65,384.76 267.68,384.42 267.72,384.09 267.76,383.77 267.79,383.45 267.83,383.13 267.86,382.82 267.90,382.52 267.94,382.22 267.97,381.93 268.01,381.65 268.05,381.37 268.08,381.10 268.12,380.83 268.16,380.58 268.19,380.33 268.23,380.08 268.27,379.85 268.30,379.62 268.34,379.40 268.38,379.19 268.41,378.99 268.45,378.79 268.48,378.60 268.52,378.41 268.56,378.22 268.59,378.04 268.63,377.86 268.67,377.68 268.70,377.50 268.74,377.33 268.78,377.16 268.81,377.00 268.85,376.84 268.89,376.68 268.92,376.52 268.96,376.37 269.00,376.21 269.03,376.06 269.07,375.92 269.10,375.77 269.14,375.63 269.18,375.49 269.21,375.35 269.25,375.22 269.29,375.08 269.32,374.95 269.36,374.82 269.40,374.70 269.43,374.57 269.47,374.44 269.51,374.32 269.54,374.20 269.58,374.08 269.62,373.96 269.65,373.85 269.69,373.73 269.72,373.62 269.76,373.50 269.80,373.39 269.83,373.27 269.87,373.16 269.91,373.04 269.94,372.93 269.98,372.82 270.02,372.70 270.05,372.59 270.09,372.48 270.13,372.37 270.16,372.26 270.20,372.16 270.24,372.05 270.27,371.95 270.31,371.85 270.34,371.75 270.38,371.65 270.42,371.56 270.45,371.47 270.49,371.38 270.53,371.29 270.56,371.21 270.60,371.13 270.64,371.05 270.67,370.98 270.71,370.91 270.75,370.85 270.78,370.79 270.82,370.73 270.86,370.68 270.89,370.64 270.93,370.59 270.96,370.55 271.00,370.51 271.04,370.47 271.07,370.43 271.11,370.39 271.15,370.35 271.18,370.19 271.22,369.79 271.26,369.17 271.29,368.38 271.33,367.46 271.37,366.46 271.40,365.41 271.44,363.97 271.47,361.96 271.51,359.58 271.55,357.04 271.58,354.51 271.62,352.20 271.66,350.30 271.69,348.62 271.73,347.03 271.77,345.51 271.80,344.06 271.84,342.66 271.88,341.31 271.91,339.99 271.95,338.70 271.99,337.42 272.02,336.14 272.06,334.85 272.09,333.57 272.13,332.30 272.17,331.05 272.20,329.81 272.24,328.59 272.28,327.40 272.31,326.22 272.35,325.07 272.39,323.94 272.42,322.84 272.46,321.76 272.50,320.70 272.53,319.64 272.57,318.59 272.61,317.54 272.64,316.50 272.68,315.47 272.71,314.45 272.75,313.43 272.79,312.42 272.82,311.42 272.86,310.42 272.90,309.44 272.93,308.47 272.97,307.50 273.01,306.55 273.04,305.60 273.08,304.67 273.12,303.75 273.15,302.84 273.19,301.94 273.23,301.05 273.26,300.18 273.30,299.32 273.33,298.47 273.37,297.64 273.41,296.82 273.44,296.01 273.48,295.22 273.52,294.44 273.55,293.68 273.59,292.94 273.63,293.31 273.66,294.10 273.70,294.91 273.74,295.73 273.77,296.55 273.81,297.40 273.85,298.25 273.88,299.11 273.92,299.98 273.95,300.87 273.99,301.76 274.03,302.66 274.06,303.58 274.10,304.50 274.14,305.43 274.17,306.37 274.21,307.32 274.25,308.28 274.28,309.25 274.32,310.22 274.36,311.22 274.39,312.25 274.43,313.30 274.47,314.36 274.50,315.44 274.54,316.53 274.57,317.63 274.61,318.74 274.65,319.86 274.68,320.97 274.72,322.08 274.76,323.19 274.79,324.29 274.83,325.38 274.87,326.46 274.90,327.52 274.94,328.60 274.98,329.70 275.01,330.84 275.05,331.99 275.09,333.15 275.12,334.31 275.16,335.46 275.19,336.59 275.23,337.71 275.27,338.79 275.30,339.83 275.34,340.82 275.38,341.76 275.41,342.63 275.45,343.43 275.49,344.15 275.52,344.80 275.56,345.42 275.60,346.01 275.63,346.59 275.67,347.14 275.71,347.67 275.74,348.19 275.78,348.69 275.81,349.16 275.85,349.63 275.89,350.08 275.92,350.51 275.96,350.93 276.00,351.35 276.03,351.74 276.07,352.13 276.11,352.51 276.14,352.89 276.18,353.25 276.22,353.61 276.25,353.97 276.29,354.32 276.32,354.67 276.36,355.01 276.40,355.34 276.43,355.68 276.47,356.00 276.51,356.32 276.54,356.64 276.58,356.95 276.62,357.25 276.65,357.54 276.69,357.83 276.73,358.12 276.76,358.39 276.80,358.66 276.84,358.92 276.87,359.18 276.91,359.43 276.94,359.67 276.98,359.90 277.02,360.12 277.05,360.34 277.09,360.55 277.13,360.75 277.16,360.94 277.20,361.14 277.24,361.33 277.27,361.51 277.31,361.70 277.35,361.88 277.38,362.06 277.42,362.23 277.46,362.40 277.49,362.57 277.53,362.73 277.56,362.90 277.60,363.06 277.64,363.21 277.67,363.37 277.71,363.52 277.75,363.67 277.78,363.82 277.82,363.96 277.86,364.10 277.89,364.24 277.93,364.38 277.97,364.52 278.00,364.65 278.04,364.78 278.08,364.91 278.11,365.04 278.15,365.17 278.18,365.29 278.22,365.41 278.26,365.53 278.29,365.65 278.33,365.77 278.37,365.89 278.40,366.01 278.44,366.12 278.48,366.24 278.51,366.35 278.55,366.47 278.59,366.59 278.62,366.70 278.66,366.82 278.70,366.93 278.73,367.04 278.77,367.16 278.80,367.27 278.84,367.38 278.88,367.49 278.91,367.59 278.95,367.70 278.99,367.80 279.02,367.90 279.06,368.00 279.10,368.10 279.13,368.19 279.17,368.28 279.21,368.37 279.24,368.45 279.28,368.53 279.32,368.61 279.35,368.68 279.39,368.75 279.42,368.82 279.46,368.88 279.50,368.94 279.53,368.99 279.57,369.04 279.61,369.09 279.64,369.13 279.68,369.17 279.72,369.21 279.75,369.26 279.79,369.30 279.83,369.34 279.86,369.38 279.90,369.42 279.94,369.45 279.97,369.49 280.01,369.53 280.04,369.56 280.08,369.59 280.12,369.63 280.15,369.66 280.19,369.68 280.23,369.71 280.26,369.73 280.30,369.76 280.34,369.78 280.37,369.80 280.41,369.81 280.45,369.82 280.48,369.83 280.52,369.84 280.56,369.85 280.59,369.85 280.63,369.85 280.66,369.92 280.70,370.23 280.74,370.77 280.77,371.50 280.81,372.36 280.85,373.32 280.88,374.34 280.92,375.62 280.96,377.51 280.99,379.81 281.03,382.33 281.07,384.88 281.10,387.25 281.14,389.25 281.18,390.95 281.21,392.56 281.25,394.09 281.28,395.56 281.32,396.97 281.36,398.34 281.39,399.68 281.43,400.99 281.47,402.28 281.50,403.57 281.54,404.87 281.58,406.17 281.61,407.45 281.65,408.72 281.69,409.97 281.72,411.20 281.76,412.42 281.79,413.61 281.83,414.78 281.87,415.92 281.90,417.04 281.94,418.13 281.98,419.20 282.01,420.27 282.05,421.33 282.09,422.39 282.12,423.44 282.16,424.48 282.20,425.52 282.23,426.55 282.27,427.57 282.31,428.58 282.34,429.58 282.38,430.58 282.41,431.56 282.45,432.54 282.49,433.50 282.52,434.46 282.56,435.40 282.60,436.34 282.63,437.26 282.67,438.17 282.71,439.07 282.74,439.95 282.78,440.82 282.82,441.68 282.85,442.52 282.89,443.35 282.93,444.17 282.96,444.97 283.00,445.76 283.03,446.53 283.07,447.28 283.11,447.26 283.14,446.46 283.18,445.65 283.22,444.83 283.25,443.99 283.29,443.15 283.33,442.29 283.36,441.42 283.40,440.54 283.44,439.65 283.47,438.76 283.51,437.85 283.55,436.93 283.58,436.00 283.62,435.06 283.65,434.11 283.69,433.16 283.73,432.19 283.76,431.22 283.80,430.24 283.84,429.23 283.87,428.20 283.91,427.15 283.95,426.08 283.98,425.00 284.02,423.90 284.06,422.79 284.09,421.67 284.13,420.55 284.17,419.42 284.20,418.30 284.24,417.18 284.27,416.07 284.31,414.97 284.35,413.88 284.38,412.80 284.42,411.72 284.46,410.61 284.49,409.47 284.53,408.32 284.57,407.15 284.60,405.98 284.64,404.81 284.68,403.66 284.71,402.53 284.75,401.44 284.79,400.38 284.82,399.36 284.86,398.40 284.89,397.51 284.93,396.68 284.97,395.93 285.00,395.27 285.04,394.64 285.08,394.03 285.11,393.45 285.15,392.89 285.19,392.34 285.22,391.82 285.26,391.32 285.30,390.83 285.33,390.36 285.37,389.90 285.41,389.46 285.44,389.03 285.48,388.61 285.51,388.21 285.55,387.81 285.59,387.43 285.62,387.05 285.66,386.68 285.70,386.31 285.73,385.96 285.77,385.60 285.81,385.25 285.84,384.90 285.88,384.56 285.92,384.23 285.95,383.90 285.99,383.57 286.03,383.25 286.06,382.94 286.10,382.63 286.13,382.33 286.17,382.04 286.21,381.75 286.24,381.47 286.28,381.20 286.32,380.93 286.35,380.68 286.39,380.42 286.43,380.18 286.46,379.94 286.50,379.72 286.54,379.50 286.57,379.28 286.61,379.08 286.65,378.88 286.68,378.68 286.72,378.49 286.75,378.30 286.79,378.12 286.83,377.93 286.86,377.75 286.90,377.58 286.94,377.40 286.97,377.23 287.01,377.07 287.05,376.90 287.08,376.74 287.12,376.58 287.16,376.43 287.19,376.27 287.23,376.12 287.26,375.97 287.30,375.83 287.34,375.68 287.37,375.54 287.41,375.40 287.45,375.26 287.48,375.13 287.52,374.99 287.56,374.86 287.59,374.73 287.63,374.61 287.67,374.48 287.70,374.36 287.74,374.23 287.78,374.11 287.81,373.99 287.85,373.87 287.88,373.76 287.92,373.64 287.96,373.52 287.99,373.40 288.03,373.29 288.07,373.17 288.10,373.05 288.14,372.94 288.18,372.82 288.21,372.71 288.25,372.59 288.29,372.48 288.32,372.37 288.36,372.26 288.40,372.15 288.43,372.05 288.47,371.94 288.50,371.84 288.54,371.74 288.58,371.64 288.61,371.55 288.65,371.46 288.69,371.37 288.72,371.28 288.76,371.20 288.80,371.12 288.83,371.04 288.87,370.97 288.91,370.90 288.94,370.84 288.98,370.78 289.02,370.73 289.05,370.68 289.09,370.63 289.12,370.59 289.16,370.54 289.20,370.50 289.23,370.46 289.27,370.42 289.31,370.38 289.34,370.34 289.38,370.30 289.42,370.26 289.45,370.22 289.49,370.18 289.53,370.15 289.56,370.12 289.60,370.08 289.64,370.05 289.67,370.02 289.71,370.00 289.74,369.97 289.78,369.84 289.82,369.46 289.85,368.85 289.89,368.07 289.93,367.16 289.96,366.16 290.00,365.11 290.04,363.69 290.07,361.68 290.11,359.28 290.15,356.70 290.18,354.12 290.22,351.76 290.26,349.80 290.29,348.09 290.33,346.46 290.36,344.92 290.40,343.43 290.44,342.00 290.47,340.62 290.51,339.26 290.55,337.93 290.58,336.62 290.62,335.30 290.66,333.98 290.69,332.66 290.73,331.36 290.77,330.07 290.80,328.80 290.84,327.55 290.88,326.32 290.91,325.11 290.95,323.92 290.98,322.76 291.02,321.63 291.06,320.53 291.09,319.43 291.13,318.35 291.17,317.27 291.20,316.19 291.24,315.12 291.28,314.06 291.31,313.01 291.35,311.97 291.39,310.93 291.42,309.90 291.46,308.88 291.50,307.87 291.53,306.87 291.57,305.88 291.60,304.90 291.64,303.92 291.68,302.97 291.71,302.02 291.75,301.08 291.79,300.16 291.82,299.25 291.86,298.35 291.90,297.46 291.93,296.59 291.97,295.74 292.01,294.89 292.04,294.07 292.08,293.25 292.12,292.46 292.15,291.67 292.19,290.91 292.22,291.20 292.26,292.01 292.30,292.84 292.33,293.68 292.37,294.53 292.41,295.40 292.44,296.27 292.48,297.16 292.52,298.05 292.55,298.96 292.59,299.88 292.63,300.80 292.66,301.74 292.70,302.69 292.74,303.64 292.77,304.61 292.81,305.58 292.84,306.57 292.88,307.56 292.92,308.56 292.95,309.59 292.99,310.64 293.03,311.71 293.06,312.80 293.10,313.91 293.14,315.03 293.17,316.16 293.21,317.30 293.25,318.45 293.28,319.59 293.32,320.73 293.35,321.87 293.39,323.00 293.43,324.12 293.46,325.23 293.50,326.32 293.54,327.42 293.57,328.56 293.61,329.72 293.65,330.90 293.68,332.09 293.72,333.28 293.76,334.47 293.79,335.63 293.83,336.78 293.87,337.89 293.90,338.96 293.94,339.98 293.97,340.95 294.01,341.85 294.05,342.68 294.08,343.42 294.12,344.09 294.16,344.73 294.19,345.34 294.23,345.93 294.27,346.50 294.30,347.05 294.34,347.58 294.38,348.09 294.41,348.58 294.45,349.06 294.49,349.52 294.52,349.97 294.56,350.40 294.59,350.82 294.63,351.23 294.67,351.64 294.70,352.03 294.74,352.41 294.78,352.79 294.81,353.15 294.85,353.52 294.89,353.88 294.92,354.24 294.96,354.59 295.00,354.93 295.03,355.28 295.07,355.61 295.11,355.94 295.14,356.26 295.18,356.58 295.21,356.89 295.25,357.20 295.29,357.49 295.32,357.78 295.36,358.07 295.40,358.34 295.43,358.61 295.47,358.88 295.51,359.13 295.54,359.38 295.58,359.62 295.62,359.85 295.65,360.07 295.69,360.28 295.73,360.49 295.76,360.69 295.80,360.89 295.83,361.09 295.87,361.28 295.91,361.47 295.94,361.65 295.98,361.84 296.02,362.01 296.05,362.19 296.09,362.36 296.13,362.53 296.16,362.70 296.20,362.86 296.24,363.03 296.27,363.18 296.31,363.34 296.35,363.49 296.38,363.64 296.42,363.79 296.45,363.94 296.49,364.08 296.53,364.22 296.56,364.36 296.60,364.50 296.64,364.64 296.67,364.77 296.71,364.90 296.75,365.03 296.78,365.16 296.82,365.29 296.86,365.41 296.89,365.53 296.93,365.66 296.97,365.78 297.00,365.90 297.04,366.01 297.07,366.13 297.11,366.25 297.15,366.37 297.18,366.49 297.22,366.61 297.26,366.73 297.29,366.85 297.33,366.96 297.37,367.08 297.40,367.19 297.44,367.30 297.48,367.42 297.51,367.53 297.55,367.63 297.59,367.74 297.62,367.84 297.66,367.94 297.69,368.04 297.73,368.14 297.77,368.23 297.80,368.32 297.84,368.41 297.88,368.49 297.91,368.57 297.95,368.65 297.99,368.72 298.02,368.79 298.06,368.85 298.10,368.91 298.13,368.97 298.17,369.02 298.20,369.06 298.24,369.11 298.28,369.15 298.31,369.19 298.35,369.24 298.39,369.28 298.42,369.32 298.46,369.36 298.50,369.40 298.53,369.44 298.57,369.48 298.61,369.52 298.64,369.55 298.68,369.59 298.72,369.62 298.75,369.65 298.79,369.68 298.82,369.71 298.86,369.93 298.90,370.39 298.93,371.06 298.97,371.89 299.01,372.84 299.04,373.87 299.08,374.97 299.12,376.61 299.15,378.77 299.19,381.26 299.23,383.86 299.26,386.39 299.30,388.64 299.34,390.47 299.37,392.16 299.41,393.75 299.44,395.28 299.48,396.74 299.52,398.16 299.55,399.53 299.59,400.88 299.63,402.20 299.66,403.51 299.70,404.83 299.74,406.15 299.77,407.47 299.81,408.77 299.85,410.05 299.88,411.31 299.92,412.56 299.96,413.78 299.99,414.98 300.03,416.16 300.06,417.31 300.10,418.44 300.14,419.53 300.17,420.62 300.21,421.71 300.25,422.79 300.28,423.86 300.32,424.93 300.36,425.98 300.39,427.03 300.43,428.08 300.47,429.11 300.50,430.14 300.54,431.15 300.58,432.16 300.61,433.16 300.65,434.15 300.68,435.13 300.72,436.09 300.76,437.05 300.79,437.99 300.83,438.92 300.87,439.84 300.90,440.75 300.94,441.64 300.98,442.52 301.01,443.39 301.05,444.24 301.09,445.08 301.12,445.90 301.16,446.71 301.20,447.50 301.23,448.28 301.27,449.04 301.30,448.23 301.34,447.41 301.38,446.58 301.41,445.74 301.45,444.88 301.49,444.02 301.52,443.14 301.56,442.25 301.60,441.35 301.63,440.44 301.67,439.52 301.71,438.59 301.74,437.65 301.78,436.70 301.82,435.74 301.85,434.77 301.89,433.79 301.92,432.81 301.96,431.81 302.00,430.80 302.03,429.77 302.07,428.71 302.11,427.63 302.14,426.53 302.18,425.42 302.22,424.30 302.25,423.16 302.29,422.02 302.33,420.88 302.36,419.73 302.40,418.59 302.44,417.46 302.47,416.33 302.51,415.21 302.54,414.11 302.58,413.02 302.62,411.91 302.65,410.76 302.69,409.59 302.73,408.41 302.76,407.22 302.80,406.03 302.84,404.85 302.87,403.69 302.91,402.55 302.95,401.45 302.98,400.40 303.02,399.39 303.06,398.45 303.09,397.57 303.13,396.77 303.16,396.05 303.20,395.40 303.24,394.77 303.27,394.16 303.31,393.58 303.35,393.02 303.38,392.48 303.42,391.95 303.46,391.45 303.49,390.96 303.53,390.49 303.57,390.03 303.60,389.59 303.64,389.16 303.67,388.74 303.71,388.33 303.75,387.94 303.78,387.55 303.82,387.17 303.86,386.79 303.89,386.42 303.93,386.06 303.97,385.70 304.00,385.35 304.04,385.00 304.08,384.65 304.11,384.31 304.15,383.98 304.19,383.65 304.22,383.33 304.26,383.02 304.29,382.71 304.33,382.41 304.37,382.11 304.40,381.82 304.44,381.54 304.48,381.27 304.51,381.00 304.55,380.74 304.59,380.49 304.62,380.24 304.66,380.01 304.70,379.78 304.73,379.56 304.77,379.35 304.81,379.14 304.84,378.94 304.88,378.74 304.91,378.55 304.95,378.36 304.99,378.17 305.02,377.99 305.06,377.81 305.10,377.63 305.13,377.45 305.17,377.28 305.21,377.11 305.24,376.95 305.28,376.78 305.32,376.62 305.35,376.46 305.39,376.31 305.43,376.16 305.46,376.01 305.50,375.86 305.53,375.71 305.57,375.57 305.61,375.43 305.64,375.29 305.68,375.15 305.72,375.02 305.75,374.89 305.79,374.76 305.83,374.63 305.86,374.50 305.90,374.37 305.94,374.25 305.97,374.13 306.01,374.00 306.05,373.88 306.08,373.77 306.12,373.65 306.15,373.53 306.19,373.41 306.23,373.29 306.26,373.17 306.30,373.05 306.34,372.93 306.37,372.82 306.41,372.70 306.45,372.58 306.48,372.47 306.52,372.36 306.56,372.25 306.59,372.14 306.63,372.03 306.67,371.93 306.70,371.82 306.74,371.72 306.77,371.63 306.81,371.53 306.85,371.44 306.88,371.35 306.92,371.26 306.96,371.18 306.99,371.10 307.03,371.03 307.07,370.96 307.10,370.89 307.14,370.83 307.18,370.77 307.21,370.71 307.25,370.67 307.29,370.62 307.32,370.58 307.36,370.53 307.39,370.49 307.43,370.45 307.47,370.41 307.50,370.37 307.54,370.32 307.58,370.29 307.61,370.25 307.65,370.21 307.69,370.17 307.72,370.14 307.76,370.10 307.80,370.07 307.83,370.04 307.87,370.01 307.91,369.99 307.94,369.96 307.98,369.85 308.01,369.48 308.05,368.89 308.09,368.11 308.12,367.20 308.16,366.19 308.20,365.13 308.23,363.74 308.27,361.75 308.31,359.35 308.34,356.73 308.38,354.11 308.42,351.69 308.45,349.66 308.49,347.92 308.53,346.26 308.56,344.68 308.60,343.17 308.63,341.72 308.67,340.31 308.71,338.93 308.74,337.58 308.78,336.25 308.82,334.91 308.85,333.57 308.89,332.24 308.93,330.91 308.96,329.60 309.00,328.31 309.04,327.04 309.07,325.79 309.11,324.56 309.14,323.36 309.18,322.18 309.22,321.03 309.25,319.90 309.29,318.79 309.33,317.69 309.36,316.59 309.40,315.50 309.44,314.42 309.47,313.34 309.51,312.27 309.55,311.21 309.58,310.16 309.62,309.11 309.66,308.08 309.69,307.05 309.73,306.04 309.76,305.03 309.80,304.03 309.84,303.05 309.87,302.07 309.91,301.11 309.95,300.16 309.98,299.22 310.02,298.30 310.06,297.39 310.09,296.49 310.13,295.60 310.17,294.73 310.20,293.87 310.24,293.03 310.28,292.21 310.31,291.40 310.35,290.60 310.38,289.82 310.42,289.98 310.46,290.81 310.49,291.65 310.53,292.50 310.57,293.36 310.60,294.23 310.64,295.12 310.68,296.02 310.71,296.93 310.75,297.85 310.79,298.78 310.82,299.72 310.86,300.67 310.90,301.63 310.93,302.59 310.97,303.57 311.00,304.56 311.04,305.56 311.08,306.56 311.11,307.58 311.15,308.62 311.19,309.68 311.22,310.77 311.26,311.88 311.30,313.00 311.33,314.14 311.37,315.28 311.41,316.44 311.44,317.60 311.48,318.76 311.52,319.92 311.55,321.07 311.59,322.22 311.62,323.36 311.66,324.48 311.70,325.59 311.73,326.71 311.77,327.86 311.81,329.04 311.84,330.23 311.88,331.44 311.92,332.65 311.95,333.85 311.99,335.03 312.03,336.20 312.06,337.33 312.10,338.42 312.14,339.46 312.17,340.45 312.21,341.37 312.24,342.21 312.28,342.98 312.32,343.66 312.35,344.31 312.39,344.93 312.43,345.53 312.46,346.11 312.50,346.67 312.54,347.21 312.57,347.73 312.61,348.23 312.65,348.71 312.68,349.18 312.72,349.64 312.76,350.08 312.79,350.51 312.83,350.93 312.86,351.34 312.90,351.73 312.94,352.12 312.97,352.50 313.01,352.88 313.05,353.25 313.08,353.62 313.12,353.98 313.16,354.34 313.19,354.69 313.23,355.03 313.27,355.37 313.30,355.71 313.34,356.04 313.38,356.36 313.41,356.68 313.45,356.98 313.48,357.29 313.52,357.58 313.56,357.87 313.59,358.15 313.63,358.43 313.67,358.69 313.70,358.95 313.74,359.20 313.78,359.45 313.81,359.68 313.85,359.91 313.89,360.13 313.92,360.34 313.96,360.54 314.00,360.74 314.03,360.94 314.07,361.14 314.10,361.33 314.14,361.52 314.18,361.70 314.21,361.88 314.25,362.06 314.29,362.24 314.32,362.41 314.36,362.58 314.40,362.75 314.43,362.91 314.47,363.07 314.51,363.23 314.54,363.39 314.58,363.54 314.62,363.69 314.65,363.84 314.69,363.99 314.72,364.13 314.76,364.27 314.80,364.41 314.83,364.55 314.87,364.68 314.91,364.82 314.94,364.95 314.98,365.08 315.02,365.21 315.05,365.34 315.09,365.46 315.13,365.58 315.16,365.71 315.20,365.83 315.23,365.95 315.27,366.07 315.31,366.19 315.34,366.31 315.38,366.43 315.42,366.55 315.45,366.67 315.49,366.79 315.53,366.91 315.56,367.03 315.60,367.14 315.64,367.26 315.67,367.37 315.71,367.48 315.75,367.59 315.78,367.70 315.82,367.80 315.85,367.91 315.89,368.01 315.93,368.11 315.96,368.20 316.00,368.29 316.04,368.38 316.07,368.47 316.11,368.55 316.15,368.62 316.18,368.70 316.22,368.77 316.26,368.83 316.29,368.89 316.33,368.95 316.37,369.00 316.40,369.05 316.44,369.09 316.47,369.14 316.51,369.18 316.55,369.22 316.58,369.27 316.62,369.31 316.66,369.35 316.69,369.39 316.73,369.43 316.77,369.47 316.80,369.51 316.84,369.54 316.88,369.58 316.91,369.61 316.95,369.64 316.99,369.67 317.02,369.77 317.06,370.12 317.09,370.70 317.13,371.47 317.17,372.38 317.20,373.38 317.24,374.45 317.28,375.78 317.31,377.73 317.35,380.10 317.39,382.70 317.42,385.32 317.46,387.77 317.50,389.83 317.53,391.58 317.57,393.23 317.61,394.81 317.64,396.32 317.68,397.78 317.71,399.19 317.75,400.56 317.79,401.91 317.82,403.24 317.86,404.57 317.90,405.91 317.93,407.24 317.97,408.56 318.01,409.87 318.04,411.16 318.08,412.43 318.12,413.68 318.15,414.91 318.19,416.11 318.23,417.29 318.26,418.44 318.30,419.56 318.33,420.67 318.37,421.77 318.41,422.86 318.44,423.95 318.48,425.03 318.52,426.10 318.55,427.17 318.59,428.23 318.63,429.28 318.66,430.32 318.70,431.36 318.74,432.38 318.77,433.39 318.81,434.40 318.85,435.39 318.88,436.38 318.92,437.35 318.95,438.31 318.99,439.26 319.03,440.20 319.06,441.12 319.10,442.03 319.14,442.93 319.17,443.81 319.21,444.68 319.25,445.54 319.28,446.38 319.32,447.20 319.36,448.01 319.39,448.80 319.43,449.58 319.47,449.56 319.50,448.73 319.54,447.90 319.57,447.05 319.61,446.19 319.65,445.32 319.68,444.44 319.72,443.55 319.76,442.64 319.79,441.73 319.83,440.80 319.87,439.86 319.90,438.92 319.94,437.96 319.98,436.99 320.01,436.02 320.05,435.04 320.08,434.04 320.12,433.04 320.16,432.03 320.19,431.00 320.23,429.94 320.27,428.85 320.30,427.75 320.34,426.63 320.38,425.50 320.41,424.36 320.45,423.21 320.49,422.05 320.52,420.89 320.56,419.74 320.60,418.59 320.63,417.44 320.67,416.31 320.70,415.18 320.74,414.08 320.78,412.97 320.81,411.82 320.85,410.65 320.89,409.46 320.92,408.25 320.96,407.05 321.00,405.85 321.03,404.67 321.07,403.50 321.11,402.37 321.14,401.28 321.18,400.24 321.22,399.25 321.25,398.33 321.29,397.48 321.32,396.71 321.36,396.02 321.40,395.38 321.43,394.75 321.47,394.15 321.51,393.57 321.54,393.01 321.58,392.47 321.62,391.95 321.65,391.45 321.69,390.97 321.73,390.50 321.76,390.04 321.80,389.60 321.84,389.17 321.87,388.75 321.91,388.35 321.94,387.95 321.98,387.56 322.02,387.18 322.05,386.80 322.09,386.43 322.13,386.07 322.16,385.71 322.20,385.35 322.24,385.00 322.27,384.65 322.31,384.31 322.35,383.98 322.38,383.65 322.42,383.33 322.46,383.01 322.49,382.70 322.53,382.40 322.56,382.11 322.60,381.82 322.64,381.54 322.67,381.26 322.71,381.00 322.75,380.74 322.78,380.49 322.82,380.24 322.86,380.01 322.89,379.78 322.93,379.56 322.97,379.35 323.00,379.15 323.04,378.95 323.08,378.75 323.11,378.55 323.15,378.36 323.18,378.17 323.22,377.99 323.26,377.81 323.29,377.63 323.33,377.45 323.37,377.28 323.40,377.11 323.44,376.95 323.48,376.78 323.51,376.62 323.55,376.46 323.59,376.31 323.62,376.15 323.66,376.00 323.70,375.86 323.73,375.71 323.77,375.57 323.80,375.42 323.84,375.28 323.88,375.15 323.91,375.01 323.95,374.88 323.99,374.75 324.02,374.62 324.06,374.49 324.10,374.36 324.13,374.24 324.17,374.11 324.21,373.99 324.24,373.87 324.28,373.75 324.32,373.63 324.35,373.51 324.39,373.39 324.42,373.27 324.46,373.15 324.50,373.03 324.53,372.91 324.57,372.79 324.61,372.67 324.64,372.56 324.68,372.44 324.72,372.33 324.75,372.22 324.79,372.11 324.83,372.00 324.86,371.90 324.90,371.80 324.94,371.70 324.97,371.60 325.01,371.50 325.04,371.41 325.08,371.32 325.12,371.24 325.15,371.16 325.19,371.08 325.23,371.00 325.26,370.93 325.30,370.87 325.34,370.81 325.37,370.75 325.41,370.70 325.45,370.65 325.48,370.61 325.52,370.56 325.55,370.52 325.59,370.48 325.63,370.43 325.66,370.39 325.70,370.35 325.74,370.31 325.77,370.21 325.81,369.85 325.85,369.26 325.88,368.48 325.92,367.55 325.96,366.53 325.99,365.44 326.03,364.10 326.07,362.14 326.10,359.74 326.14,357.11 326.17,354.45 326.21,351.96 326.25,349.86 326.28,348.08 326.32,346.40 326.36,344.80 326.39,343.27 326.43,341.81 326.47,340.39 326.50,339.01 326.54,337.65 326.58,336.31 326.61,334.97 326.65,333.63 326.69,332.28 326.72,330.95 326.76,329.64 326.79,328.34 326.83,327.07 326.87,325.81 326.90,324.57 326.94,323.36 326.98,322.18 327.01,321.02 327.05,319.89 327.09,318.78 327.12,317.67 327.16,316.57 327.20,315.47 327.23,314.39 327.27,313.31 327.31,312.23 327.34,311.17 327.38,310.11 327.41,309.06 327.45,308.02 327.49,306.99 327.52,305.97 327.56,304.96 327.60,303.96 327.63,302.97 327.67,301.99 327.71,301.03 327.74,300.07 327.78,299.13 327.82,298.20 327.85,297.28 327.89,296.38 327.93,295.49 327.96,294.62 328.00,293.76 328.03,292.91 328.07,292.08 328.11,291.26 328.14,290.47 328.18,289.68 328.22,289.66 328.25,290.48 328.29,291.32 328.33,292.17 328.36,293.04 328.40,293.91 328.44,294.80 328.47,295.70 328.51,296.61 328.55,297.53 328.58,298.46 328.62,299.40 328.65,300.35 328.69,301.32 328.73,302.29 328.76,303.27 328.80,304.26 328.84,305.26 328.87,306.26 328.91,307.28 328.95,308.32 328.98,309.38 329.02,310.47 329.06,311.58 329.09,312.70 329.13,313.84 329.17,314.99 329.20,316.15 329.24,317.31 329.27,318.47 329.31,319.64 329.35,320.80 329.38,321.95 329.42,323.09 329.46,324.22 329.49,325.33 329.53,326.45 329.57,327.60 329.60,328.78 329.64,329.98 329.68,331.19 329.71,332.40 329.75,333.60 329.79,334.80 329.82,335.97 329.86,337.10 329.89,338.20 329.93,339.25 329.97,340.25 330.00,341.18 330.04,342.04 330.08,342.81 330.11,343.50 330.15,344.16 330.19,344.79 330.22,345.39 330.26,345.97 330.30,346.54 330.33,347.08 330.37,347.60 330.41,348.11 330.44,348.60 330.48,349.07 330.51,349.53 330.55,349.97 330.59,350.40 330.62,350.83 330.66,351.23 330.70,351.63 330.73,352.03 330.77,352.41 330.81,352.79 330.84,353.16 330.88,353.53 330.92,353.89 330.95,354.25 330.99,354.60 331.02,354.95 331.06,355.29 331.10,355.63 331.13,355.96 331.17,356.28 331.21,356.60 331.24,356.91 331.28,357.22 331.32,357.51 331.35,357.80 331.39,358.09 331.43,358.36 331.46,358.63 331.50,358.89 331.54,359.14 331.57,359.39 331.61,359.62 331.64,359.85 331.68,360.07 331.72,360.28 331.75,360.49 331.79,360.69 331.83,360.89 331.86,361.09 331.90,361.28 331.94,361.47 331.97,361.66 332.01,361.84 332.05,362.02 332.08,362.20 332.12,362.37 332.16,362.54 332.19,362.71 332.23,362.87 332.26,363.03 332.30,363.19 332.34,363.35 332.37,363.50 332.41,363.66 332.45,363.81 332.48,363.95 332.52,364.10 332.56,364.24 332.59,364.38 332.63,364.52 332.67,364.65 332.70,364.79 332.74,364.92 332.78,365.05 332.81,365.18 332.85,365.31 332.88,365.43 332.92,365.56 332.96,365.68 332.99,365.80 333.03,365.92 333.07,366.04 333.10,366.17 333.14,366.29 333.18,366.41 333.21,366.53 333.25,366.65 333.29,366.77 333.32,366.89 333.36,367.00 333.40,367.12 333.43,367.24 333.47,367.35 333.50,367.46 333.54,367.57 333.58,367.68 333.61,367.79 333.65,367.89 333.69,367.99 333.72,368.09 333.76,368.18 333.80,368.28 333.83,368.37 333.87,368.45 333.91,368.53 333.94,368.61 333.98,368.69 334.02,368.76 334.05,368.82 334.09,368.88 334.12,368.94 334.16,368.99 334.20,369.04 334.23,369.09 334.27,369.13 334.31,369.17 334.34,369.22 334.38,369.26 334.42,369.30 334.45,369.34 334.49,369.39 334.53,369.43 334.56,369.46 334.60,369.50 334.64,369.54 334.67,369.57 334.71,369.61 334.74,369.64 334.78,369.67 334.82,369.70 334.85,369.72 334.89,369.75 334.93,369.77 334.96,369.79 335.00,369.81 335.04,369.82 335.07,369.83 335.11,369.84 335.15,369.85 335.18,369.85 335.22,370.05 335.26,370.50 335.29,371.17 335.33,371.99 335.36,372.95 335.40,373.98 335.44,375.09 335.47,376.76 335.51,378.96 335.55,381.49 335.58,384.15 335.62,386.73 335.66,389.02 335.69,390.90 335.73,392.61 335.77,394.24 335.80,395.80 335.84,397.29 335.88,398.74 335.91,400.14 335.95,401.51 335.98,402.86 336.02,404.20 336.06,405.54 336.09,406.89 336.13,408.23 336.17,409.56 336.20,410.87 336.24,412.16 336.28,413.43 336.31,414.68 336.35,415.90 336.39,417.11 336.42,418.28 336.46,419.43 336.50,420.55 336.53,421.66 336.57,422.77 336.60,423.87 336.64,424.96 336.68,426.05 336.71,427.13 336.75,428.20 336.79,429.27 336.82,430.32 336.86,431.37 336.90,432.41 336.93,433.43 336.97,434.45 337.01,435.46 337.04,436.46 337.08,437.44 337.11,438.42 337.15,439.38 337.19,440.33 337.22,441.27 337.26,442.20 337.30,443.11 337.33,444.01 337.37,444.89 337.41,445.76 337.44,446.62 337.48,447.46 337.52,448.28 337.55,449.09 337.59,449.88 337.63,450.66 337.66,449.83 337.70,449.00 337.73,448.15 337.77,447.29 337.81,446.42 337.84,445.53 337.88,444.64 337.92,443.73 337.95,442.81 337.99,441.88 338.03,440.94 338.06,439.99 338.10,439.03 338.14,438.06 338.17,437.08 338.21,436.10 338.25,435.10 338.28,434.09 338.32,433.08 338.35,432.05 338.39,430.99 338.43,429.91 338.46,428.81 338.50,427.69 338.54,426.55 338.57,425.41 338.61,424.25 338.65,423.09 338.68,421.92 338.72,420.75 338.76,419.59 338.79,418.43 338.83,417.28 338.87,416.14 338.90,415.01 338.94,413.90 338.97,412.77 339.01,411.60 339.05,410.40 339.08,409.19 339.12,407.98 339.16,406.77 339.19,405.56 339.23,404.38 339.27,403.22 339.30,402.10 339.34,401.02 339.38,400.00 339.41,399.03 339.45,398.14 339.49,397.32 339.52,396.59 339.56,395.92 339.59,395.28 339.63,394.66 339.67,394.07 339.70,393.49 339.74,392.94 339.78,392.40 339.81,391.89 339.85,391.39 339.89,390.91 339.92,390.44 339.96,389.99 340.00,389.55 340.03,389.13 340.07,388.71 340.11,388.30 340.14,387.91 340.18,387.52 340.21,387.14 340.25,386.76 340.29,386.39 340.32,386.03 340.36,385.66 340.40,385.31 340.43,384.95 340.47,384.61 340.51,384.27 340.54,383.93 340.58,383.61 340.62,383.29 340.65,382.97 340.69,382.66 340.73,382.36 340.76,382.07 340.80,381.78 340.83,381.50 340.87,381.23 340.91,380.96 340.94,380.70 340.98,380.46 341.02,380.21 341.05,379.98 341.09,379.76 341.13,379.54 341.16,379.33 341.20,379.13 341.24,378.93 341.27,378.73 341.31,378.53 341.35,378.34 341.38,378.15 341.42,377.97 341.45,377.79 341.49,377.61 341.53,377.43 341.56,377.26 341.60,377.09 341.64,376.92 341.67,376.76 341.71,376.60 341.75,376.44 341.78,376.29 341.82,376.13 341.86,375.98 341.89,375.83 341.93,375.69 341.96,375.54 342.00,375.40 342.04,375.26 342.07,375.12 342.11,374.99 342.15,374.86 342.18,374.72 342.22,374.59 342.26,374.46 342.29,374.34 342.33,374.21 342.37,374.09 342.40,373.97 342.44,373.85 342.48,373.72 342.51,373.60 342.55,373.48 342.58,373.36 342.62,373.24 342.66,373.12 342.69,373.00 342.73,372.88 342.77,372.76 342.80,372.64 342.84,372.52 342.88,372.41 342.91,372.30 342.95,372.19 342.99,372.08 343.02,371.97 343.06,371.86 343.10,371.76 343.13,371.66 343.17,371.56 343.20,371.47 343.24,371.38 343.28,371.29 343.31,371.21 343.35,371.13 343.39,371.05 343.42,370.98 343.46,370.91 343.50,370.85 343.53,370.79 343.57,370.73 343.61,370.68 343.64,370.64 343.68,370.59 343.72,370.55 343.75,370.50 343.79,370.46 343.82,370.42 343.86,370.38 343.90,370.33 343.93,370.29 343.97,370.25 344.01,370.22 344.04,370.18 344.08,370.14 344.12,370.11 344.15,370.08 344.19,369.87 344.23,369.41 344.26,368.74 344.30,367.89 344.34,366.92 344.37,365.86 344.41,364.75 344.44,363.12 344.48,360.93 344.52,358.40 344.55,355.71 344.59,353.09 344.63,350.73 344.66,348.81 344.70,347.07 344.74,345.41 344.77,343.84 344.81,342.32 344.85,340.86 344.88,339.45 344.92,338.06 344.96,336.70 344.99,335.34 345.03,333.99 345.06,332.63 345.10,331.27 345.14,329.94 345.17,328.61 345.21,327.31 345.25,326.03 345.28,324.76 345.32,323.53 345.36,322.31 345.39,321.12 345.43,319.96 345.47,318.83 345.50,317.71 345.54,316.59 345.58,315.48 345.61,314.38 345.65,313.28 345.68,312.19 345.72,311.11 345.76,310.03 345.79,308.97 345.83,307.91 345.87,306.86 345.90,305.83 345.94,304.80 345.98,303.78 346.01,302.77 346.05,301.78 346.09,300.79 346.12,299.82 346.16,298.86 346.20,297.91 346.23,296.98 346.27,296.06 346.30,295.15 346.34,294.26 346.38,293.38 346.41,292.51 346.45,291.66 346.49,290.83 346.52,290.01 346.56,289.21 346.60,288.43 346.63,289.10 346.67,289.94 346.71,290.79 346.74,291.66 346.78,292.54 346.82,293.43 346.85,294.33 346.89,295.24 346.92,296.17 346.96,297.10 347.00,298.05 347.03,299.01 347.07,299.97 347.11,300.95 347.14,301.94 347.18,302.93 347.22,303.94 347.25,304.95 347.29,305.97 347.33,307.01 347.36,308.07 347.40,309.16 347.43,310.27 347.47,311.40 347.51,312.54 347.54,313.70 347.58,314.86 347.62,316.04 347.65,317.21 347.69,318.39 347.73,319.57 347.76,320.74 347.80,321.90 347.84,323.05 347.87,324.18 347.91,325.30 347.95,326.45 347.98,327.62 348.02,328.83 348.05,330.04 348.09,331.27 348.13,332.49 348.16,333.71 348.20,334.91 348.24,336.08 348.27,337.21 348.31,338.30 348.35,339.34 348.38,340.32 348.42,341.23 348.46,342.07 348.49,342.81 348.53,343.49 348.57,344.14 348.60,344.76 348.64,345.37 348.67,345.95 348.71,346.51 348.75,347.05 348.78,347.57 348.82,348.07 348.86,348.56 348.89,349.03 348.93,349.49 348.97,349.93 349.00,350.37 349.04,350.79 349.08,351.20 349.11,351.60 349.15,351.99 349.19,352.37 349.22,352.75 349.26,353.13 349.29,353.50 349.33,353.86 349.37,354.22 349.40,354.58 349.44,354.93 349.48,355.27 349.51,355.61 349.55,355.94 349.59,356.27 349.62,356.58 349.66,356.90 349.70,357.20 349.73,357.50 349.77,357.79 349.81,358.07 349.84,358.35 349.88,358.62 349.91,358.88 349.95,359.13 349.99,359.37 350.02,359.61 350.06,359.83 350.10,360.05 350.13,360.26 350.17,360.47 350.21,360.68 350.24,360.88 350.28,361.07 350.32,361.27 350.35,361.46 350.39,361.64 350.43,361.83 350.46,362.01 350.50,362.18 350.53,362.36 350.57,362.53 350.61,362.70 350.64,362.86 350.68,363.03 350.72,363.19 350.75,363.34 350.79,363.50 350.83,363.65 350.86,363.80 350.90,363.95 350.94,364.09 350.97,364.24 351.01,364.38 351.05,364.52 351.08,364.65 351.12,364.79 351.15,364.92 351.19,365.05 351.23,365.18 351.26,365.31 351.30,365.44 351.34,365.56 351.37,365.69 351.41,365.81 351.45,365.93 351.48,366.05 351.52,366.18 351.56,366.30 351.59,366.42 351.63,366.54 351.67,366.66 351.70,366.78 351.74,366.90 351.77,367.02 351.81,367.14 351.85,367.26 351.88,367.37 351.92,367.48 351.96,367.59 351.99,367.70 352.03,367.81 352.07,367.91 352.10,368.01 352.14,368.11 352.18,368.21 352.21,368.30 352.25,368.39 352.29,368.47 352.32,368.55 352.36,368.63 352.39,368.70 352.43,368.77 352.47,368.84 352.50,368.90 352.54,368.95 352.58,369.01 352.61,369.05 352.65,369.10 352.69,369.14 352.72,369.19 352.76,369.23 352.80,369.27 352.83,369.32 352.87,369.36 352.90,369.40 352.94,369.44 352.98,369.48 353.01,369.51 353.05,369.55 353.09,369.59 353.12,369.62 353.16,369.65 353.20,369.68 353.23,369.71 353.27,369.73 353.31,369.76 353.34,369.78 353.38,369.86 353.42,370.21 353.45,370.79 353.49,371.55 353.52,372.46 353.56,373.47 353.60,374.53 353.63,375.86 353.67,377.83 353.71,380.22 353.74,382.85 353.78,385.50 353.82,387.97 353.85,390.06 353.89,391.83 353.93,393.50 353.96,395.10 354.00,396.63 354.04,398.10 354.07,399.53 354.11,400.92 354.14,402.28 354.18,403.63 354.22,404.97 354.25,406.32 354.29,407.67 354.33,409.01 354.36,410.33 354.40,411.64 354.44,412.92 354.47,414.18 354.51,415.42 354.55,416.64 354.58,417.83 354.62,419.00 354.66,420.13 354.69,421.25 354.73,422.36 354.76,423.47 354.80,424.57 354.84,425.67 354.87,426.75 354.91,427.83 354.95,428.90 354.98,429.97 355.02,431.02 355.06,432.07 355.09,433.10 355.13,434.13 355.17,435.14 355.20,436.15 355.24,437.14 355.28,438.13 355.31,439.10 355.35,440.06 355.38,441.01 355.42,441.94 355.46,442.86 355.49,443.77 355.53,444.66 355.57,445.54 355.60,446.41 355.64,447.26 355.68,448.09 355.71,448.91 355.75,449.71 355.79,450.50 355.82,450.48 355.86,449.64 355.90,448.80 355.93,447.94 355.97,447.07 356.00,446.19 356.04,445.30 356.08,444.40 356.11,443.48 356.15,442.55 356.19,441.62 356.22,440.67 356.26,439.71 356.30,438.75 356.33,437.77 356.37,436.78 356.41,435.79 356.44,434.78 356.48,433.77 356.52,432.75 356.55,431.70 356.59,430.63 356.62,429.53 356.66,428.42 356.70,427.29 356.73,426.14 356.77,424.99 356.81,423.82 356.84,422.65 356.88,421.48 356.92,420.31 356.95,419.15 356.99,417.99 357.03,416.84 357.06,415.71 357.10,414.59 357.14,413.46 357.17,412.30 357.21,411.12 357.24,409.91 357.28,408.70 357.32,407.48 357.35,406.27 357.39,405.07 357.43,403.89 357.46,402.75 357.50,401.64 357.54,400.59 357.57,399.59 357.61,398.66 357.65,397.80 357.68,397.02 357.72,396.32 357.76,395.67 357.79,395.04 357.83,394.43 357.86,393.84 357.90,393.28 357.94,392.73 357.97,392.21 358.01,391.70 358.05,391.21 358.08,390.73 358.12,390.27 358.16,389.83 358.19,389.39 358.23,388.97 358.27,388.56 358.30,388.16 358.34,387.76 358.38,387.38 358.41,387.00 358.45,386.62 358.48,386.26 358.52,385.89 358.56,385.53 358.59,385.17 358.63,384.82 358.67,384.48 358.70,384.14 358.74,383.81 358.78,383.48 358.81,383.17 358.85,382.85 358.89,382.55 358.92,382.25 358.96,381.96 358.99,381.67 359.03,381.39 359.07,381.12 359.10,380.86 359.14,380.61 359.18,380.36 359.21,380.13 359.25,379.90 359.29,379.68 359.32,379.46 359.36,379.26 359.40,379.05 359.43,378.85 359.47,378.65 359.51,378.46 359.54,378.27 359.58,378.08 359.61,377.90 359.65,377.72 359.69,377.54 359.72,377.37 359.76,377.20 359.80,377.03 359.83,376.86 359.87,376.70 359.91,376.54 359.94,376.38 359.98,376.23 360.02,376.07 360.05,375.92 360.09,375.78 360.13,375.63 360.16,375.49 360.20,375.35 360.23,375.21 360.27,375.07 360.31,374.94 360.34,374.80 360.38,374.67 360.42,374.54 360.45,374.41 360.49,374.29 360.53,374.16 360.56,374.04 360.60,373.92 360.64,373.80 360.67,373.67 360.71,373.55 360.75,373.43 360.78,373.31 360.82,373.19 360.85,373.07 360.89,372.95 360.93,372.83 360.96,372.71 361.00,372.59 361.04,372.47 361.07,372.36 361.11,372.25 361.15,372.14 361.18,372.03 361.22,371.92 361.26,371.82 361.29,371.72 361.33,371.62 361.37,371.52 361.40,371.43 361.44,371.34 361.47,371.25 361.51,371.17 361.55,371.09 361.58,371.02 361.62,370.95 361.66,370.88 361.69,370.82 361.73,370.76 361.77,370.71 361.80,370.66 361.84,370.62 361.88,370.57 361.91,370.53 361.95,370.48 361.99,370.44 362.02,370.40 362.06,370.36 362.09,370.32 362.13,370.28 362.17,370.20 362.20,369.88 362.24,369.33 362.28,368.57 362.31,367.66 362.35,366.64 362.39,365.55 362.42,364.28 362.46,362.40 362.50,360.04 362.53,357.40 362.57,354.71 362.61,352.15 362.64,349.94 362.68,348.12 362.71,346.41 362.75,344.78 362.79,343.23 362.82,341.74 362.86,340.29 362.90,338.89 362.93,337.51 362.97,336.16 363.01,334.80 363.04,333.45 363.08,332.09 363.12,330.74 363.15,329.41 363.19,328.09 363.23,326.80 363.26,325.52 363.30,324.27 363.33,323.04 363.37,321.84 363.41,320.66 363.44,319.51 363.48,318.38 363.52,317.26 363.55,316.15 363.59,315.04 363.63,313.94 363.66,312.85 363.70,311.76 363.74,310.68 363.77,309.61 363.81,308.55 363.84,307.49 363.88,306.45 363.92,305.42 363.95,304.39 363.99,303.38 364.03,302.38 364.06,301.38 364.10,300.40 364.14,299.44 364.17,298.48 364.21,297.54 364.25,296.61 364.28,295.69 364.32,294.79 364.36,293.90 364.39,293.03 364.43,292.17 364.46,291.33 364.50,290.50 364.54,289.69 364.57,288.90 364.61,288.60 364.65,289.43 364.68,290.28 364.72,291.14 364.76,292.01 364.79,292.89 364.83,293.79 364.87,294.69 364.90,295.61 364.94,296.54 364.98,297.48 365.01,298.43 365.05,299.39 365.08,300.36 365.12,301.34 365.16,302.33 365.19,303.33 365.23,304.34 365.27,305.36 365.30,306.38 365.34,307.43 365.38,308.50 365.41,309.60 365.45,310.72 365.49,311.85 365.52,313.00 365.56,314.16 365.60,315.33 365.63,316.51 365.67,317.68 365.70,318.86 365.74,320.03 365.78,321.20 365.81,322.36 365.85,323.50 365.89,324.63 365.92,325.76 365.96,326.91 366.00,328.10 366.03,329.31 366.07,330.53 366.11,331.76 366.14,332.98 366.18,334.19 366.22,335.38 366.25,336.53 366.29,337.65 366.32,338.72 366.36,339.74 366.40,340.69 366.43,341.58 366.47,342.38 366.51,343.09 366.54,343.75 366.58,344.39 366.62,345.01 366.65,345.60 366.69,346.17 366.73,346.73 366.76,347.26 366.80,347.77 366.84,348.27 366.87,348.75 366.91,349.22 366.94,349.67 366.98,350.11 367.02,350.53 367.05,350.95 367.09,351.36 367.13,351.75 367.16,352.14 367.20,352.53 367.24,352.90 367.27,353.28 367.31,353.64 367.35,354.01 367.38,354.37 367.42,354.72 367.46,355.07 367.49,355.41 367.53,355.74 367.56,356.07 367.60,356.39 367.64,356.71 367.67,357.02 367.71,357.32 367.75,357.62 367.78,357.90 367.82,358.18 367.86,358.46 367.89,358.72 367.93,358.98 367.97,359.23 368.00,359.47 368.04,359.70 368.08,359.92 368.11,360.14 368.15,360.35 368.18,360.55 368.22,360.76 368.26,360.96 368.29,361.15 368.33,361.34 368.37,361.53 368.40,361.72 368.44,361.90 368.48,362.08 368.51,362.25 368.55,362.43 368.59,362.60 368.62,362.76 368.66,362.93 368.70,363.09 368.73,363.25 368.77,363.41 368.80,363.56 368.84,363.71 368.88,363.86 368.91,364.01 368.95,364.15 368.99,364.29 369.02,364.43 369.06,364.57 369.10,364.71 369.13,364.84 369.17,364.97 369.21,365.10 369.24,365.23 369.28,365.36 369.31,365.49 369.35,365.61 369.39,365.73 369.42,365.86 369.46,365.98 369.50,366.10 369.53,366.22 369.57,366.35 369.61,366.47 369.64,366.59 369.68,366.71 369.72,366.83 369.75,366.95 369.79,367.07 369.83,367.19 369.86,367.30 369.90,367.42 369.93,367.53 369.97,367.64 370.01,367.74 370.04,367.85 370.08,367.95 370.12,368.05 370.15,368.15 370.19,368.24 370.23,368.33 370.26,368.42 370.30,368.50 370.34,368.58 370.37,368.66 370.41,368.73 370.45,368.80 370.48,368.86 370.52,368.92 370.55,368.98 370.59,369.02 370.63,369.07 370.66,369.11 370.70,369.16 370.74,369.20 370.77,369.25 370.81,369.29 370.85,369.33 370.88,369.37 370.92,369.41 370.96,369.45 370.99,369.49 371.03,369.53 371.07,369.56 371.10,369.60 371.14,369.63 371.17,369.66 371.21,369.69 371.25,369.72 371.28,369.74 371.32,369.76 371.36,369.78 371.39,369.80 371.43,369.82 371.47,369.83 371.50,369.84 371.54,369.85 371.58,370.05 371.61,370.51 371.65,371.17 371.69,372.00 371.72,372.96 371.76,373.99 371.79,375.11 371.83,376.78 371.87,378.98 371.90,381.52 371.94,384.19 371.98,386.77 372.01,389.08 372.05,390.96 372.09,392.68 372.12,394.31 372.16,395.87 372.20,397.37 372.23,398.82 372.27,400.22 372.31,401.60 372.34,402.95 372.38,404.30 372.41,405.65 372.45,407.00 372.49,408.34 372.52,409.67 372.56,410.99 372.60,412.28 372.63,413.55 372.67,414.81 372.71,416.04 372.74,417.24 372.78,418.42 372.82,419.57 372.85,420.69 372.89,421.81 372.93,422.92 372.96,424.02 373.00,425.12 373.03,426.21 373.07,427.29 373.11,428.37 373.14,429.44 373.18,430.49 373.22,431.54 373.25,432.58 373.29,433.62 373.33,434.64 373.36,435.65 373.40,436.65 373.44,437.64 373.47,438.61 373.51,439.58 373.55,440.53 373.58,441.47 373.62,442.40 373.65,443.32 373.69,444.22 373.73,445.11 373.76,445.98 373.80,446.84 373.84,447.68 373.87,448.50 373.91,449.32 373.95,450.11 373.98,450.89 374.02,450.06 374.06,449.22 374.09,448.37 374.13,447.51 374.17,446.63 374.20,445.75 374.24,444.85 374.27,443.94 374.31,443.02 374.35,442.09 374.38,441.15 374.42,440.19 374.46,439.23 374.49,438.26 374.53,437.28 374.57,436.29 374.60,435.29 374.64,434.28 374.68,433.26 374.71,432.23 374.75,431.17 374.78,430.08 374.82,428.98 374.86,427.86 374.89,426.72 374.93,425.57 374.97,424.41 375.00,423.24 375.04,422.07 375.08,420.90 375.11,419.73 375.15,418.57 375.19,417.41 375.22,416.27 375.26,415.14 375.30,414.03 375.33,412.89 375.37,411.71 375.40,410.52 375.44,409.31 375.48,408.09 375.51,406.87 375.55,405.66 375.59,404.48 375.62,403.32 375.66,402.19 375.70,401.11 375.73,400.08 375.77,399.11 375.81,398.22 375.84,397.40 375.88,396.66 375.92,395.99 375.95,395.35 375.99,394.73 376.02,394.13 376.06,393.56 376.10,393.00 376.13,392.47 376.17,391.95 376.21,391.45 376.24,390.97 376.28,390.50 376.32,390.05 376.35,389.61 376.39,389.18 376.43,388.76 376.46,388.36 376.50,387.96 376.54,387.57 376.57,387.19 376.61,386.81 376.64,386.44 376.68,386.07 376.72,385.71 376.75,385.35 376.79,385.00 376.83,384.65 376.86,384.31 376.90,383.98 376.94,383.65 376.97,383.32 377.01,383.01 377.05,382.70 377.08,382.40 377.12,382.10 377.16,381.81 377.19,381.53 377.23,381.26 377.26,380.99 377.30,380.74 377.34,380.49 377.37,380.24 377.41,380.01 377.45,379.79 377.48,379.57 377.52,379.36 377.56,379.15 377.59,378.95 377.63,378.75 377.67,378.56 377.70,378.36 377.74,378.18 377.78,377.99 377.81,377.81 377.85,377.63 377.88,377.45 377.92,377.28 377.96,377.11 377.99,376.94 378.03,376.78 378.07,376.62 378.10,376.46 378.14,376.30 378.18,376.15 378.21,376.00 378.25,375.85 378.29,375.70 378.32,375.56 378.36,375.42 378.40,375.28 378.43,375.14 378.47,375.00 378.50,374.87 378.54,374.74 378.58,374.61 378.61,374.48 378.65,374.35 378.69,374.23 378.72,374.10 378.76,373.98 378.80,373.86 378.83,373.73 378.87,373.61 378.91,373.49 378.94,373.37 378.98,373.25 379.02,373.13 379.05,373.01 379.09,372.89 379.12,372.77 379.16,372.65 379.20,372.53 379.23,372.42 379.27,372.30 379.31,372.19 379.34,372.08 379.38,371.97 379.42,371.87 379.45,371.77 379.49,371.67 379.53,371.57 379.56,371.48 379.60,371.38 379.64,371.30 379.67,371.21 379.71,371.13 379.74,371.05 379.78,370.98 379.82,370.91 379.85,370.85 379.89,370.79 379.93,370.73 379.96,370.68 380.00,370.64 380.04,370.59 380.07,370.55 380.11,370.51 380.15,370.46 380.18,370.42 380.22,370.38 380.25,370.34 380.29,370.30 380.33,370.26 380.36,370.22 380.40,370.18 380.44,369.99 380.47,369.54 380.51,368.87 380.55,368.03 380.58,367.05 380.62,365.99 380.66,364.88 380.69,363.29 380.73,361.12 380.77,358.59 380.80,355.90 380.84,353.26 380.87,350.87 380.91,348.92 380.95,347.17 380.98,345.51 381.02,343.93 381.06,342.41 381.09,340.95 381.13,339.53 381.17,338.14 381.20,336.78 381.24,335.42 381.28,334.07 381.31,332.71 381.35,331.35 381.39,330.01 381.42,328.69 381.46,327.39 381.49,326.10 381.53,324.84 381.57,323.60 381.60,322.38 381.64,321.19 381.68,320.03 381.71,318.90 381.75,317.78 381.79,316.66 381.82,315.55 381.86,314.44 381.90,313.35 381.93,312.25 381.97,311.17 382.01,310.10 382.04,309.03 382.08,307.97 382.11,306.93 382.15,305.89 382.19,304.86 382.22,303.84 382.26,302.83 382.30,301.84 382.33,300.85 382.37,299.88 382.41,298.92 382.44,297.97 382.48,297.03 382.52,296.11 382.55,295.20 382.59,294.31 382.63,293.43 382.66,292.56 382.70,291.71 382.73,290.88 382.77,290.06 382.81,289.26 382.84,288.48 382.88,289.05 382.92,289.89 382.95,290.74 382.99,291.61 383.03,292.49 383.06,293.38 383.10,294.28 383.14,295.19 383.17,296.11 383.21,297.05 383.25,298.00 383.28,298.95 383.32,299.92 383.35,300.89 383.39,301.88 383.43,302.87 383.46,303.88 383.50,304.89 383.54,305.91 383.57,306.95 383.61,308.01 383.65,309.10 383.68,310.20 383.72,311.33 383.76,312.47 383.79,313.63 383.83,314.80 383.87,315.97 383.90,317.14 383.94,318.32 383.97,319.50 384.01,320.67 384.05,321.83 384.08,322.98 384.12,324.12 384.16,325.24 384.19,326.38 384.23,327.56 384.27,328.76 384.30,329.97 384.34,331.20 384.38,332.42 384.41,333.64 384.45,334.84 384.49,336.01 384.52,337.15 384.56,338.24 384.59,339.28 384.63,340.27 384.67,341.18 384.70,342.02 384.74,342.77 384.78,343.45 384.81,344.10 384.85,344.73 384.89,345.33 384.92,345.91 384.96,346.48 385.00,347.02 385.03,347.54 385.07,348.04 385.11,348.53 385.14,349.01 385.18,349.46 385.21,349.91 385.25,350.34 385.29,350.76 385.32,351.17 385.36,351.57 385.40,351.97 385.43,352.35 385.47,352.73 385.51,353.11 385.54,353.48 385.58,353.84 385.62,354.20 385.65,354.56 385.69,354.91 385.72,355.25 385.76,355.59 385.80,355.92 385.83,356.25 385.87,356.57 385.91,356.88 385.94,357.18 385.98,357.48 386.02,357.77 386.05,358.06 386.09,358.33 386.13,358.60 386.16,358.86 386.20,359.11 386.24,359.36 386.27,359.59 386.31,359.82 386.34,360.04 386.38,360.25 386.42,360.46 386.45,360.66 386.49,360.87 386.53,361.06 386.56,361.26 386.60,361.45 386.64,361.63 386.67,361.82 386.71,362.00 386.75,362.17 386.78,362.35 386.82,362.52 386.86,362.69 386.89,362.85 386.93,363.02 386.96,363.18 387.00,363.33 387.04,363.49 387.07,363.64 387.11,363.79 387.15,363.94 387.18,364.08 387.22,364.23 387.26,364.37 387.29,364.51 387.33,364.65 387.37,364.78 387.40,364.91 387.44,365.05 387.48,365.17 387.51,365.30 387.55,365.43 387.58,365.55 387.62,365.68 387.66,365.80 387.69,365.92 387.73,366.05 387.77,366.17 387.80,366.29 387.84,366.41 387.88,366.54 387.91,366.66 387.95,366.78 387.99,366.90 388.02,367.02 388.06,367.13 388.10,367.25 388.13,367.36 388.17,367.48 388.20,367.59 388.24,367.70 388.28,367.80 388.31,367.91 388.35,368.01 388.39,368.11 388.42,368.20 388.46,368.29 388.50,368.38 388.53,368.47 388.57,368.55 388.61,368.63 388.64,368.70 388.68,368.77 388.72,368.83 388.75,368.90 388.79,368.95 388.82,369.00 388.86,369.05 388.90,369.09 388.93,369.14 388.97,369.18 389.01,369.23 389.04,369.27 389.08,369.31 389.12,369.35 389.15,369.40 389.19,369.44 389.23,369.47 389.26,369.51 389.30,369.55 389.34,369.58 389.37,369.62 389.41,369.65 389.44,369.68 389.48,369.71 389.52,369.73 389.55,369.75 389.59,369.78 389.63,369.79 389.66,369.81 389.70,369.82 389.74,369.90 389.77,370.24 389.81,370.81 389.85,371.57 389.88,372.47 389.92,373.48 389.96,374.54 389.99,375.88 390.03,377.85 390.06,380.25 390.10,382.89 390.14,385.55 390.17,388.03 390.21,390.12 390.25,391.89 390.28,393.57 390.32,395.17 390.36,396.71 390.39,398.18 390.43,399.61 390.47,401.00 390.50,402.37 390.54,403.72 390.58,405.07 390.61,406.43 390.65,407.78 390.68,409.12 390.72,410.45 390.76,411.75 390.79,413.04 390.83,414.31 390.87,415.55 390.90,416.78 390.94,417.97 390.98,419.14 391.01,420.28 391.05,421.40 391.09,422.51 391.12,423.62 391.16,424.73 391.19,425.82 391.23,426.91 391.27,428.00 391.30,429.07 391.34,430.14 391.38,431.19 391.41,432.24 391.45,433.28 391.49,434.31 391.52,435.33 391.56,436.34 391.60,437.34 391.63,438.32 391.67,439.30 391.71,440.26 391.74,441.21 391.78,442.15 391.81,443.07 391.85,443.98 391.89,444.88 391.92,445.76 391.96,446.63 392.00,447.48 392.03,448.32 392.07,449.14 392.11,449.94 392.14,450.73 392.18,450.71 392.22,449.87 392.25,449.02 392.29,448.17 392.33,447.29 392.36,446.41 392.40,445.52 392.43,444.61 392.47,443.69 392.51,442.76 392.54,441.82 392.58,440.87 392.62,439.91 392.65,438.94 392.69,437.96 392.73,436.97 392.76,435.97 392.80,434.97 392.84,433.95 392.87,432.93 392.91,431.88 392.95,430.80 392.98,429.70 393.02,428.59 393.05,427.45 393.09,426.30 393.13,425.14 393.16,423.98 393.20,422.80 393.24,421.63 393.27,420.46 393.31,419.29 393.35,418.13 393.38,416.97 393.42,415.84 393.46,414.71 393.49,413.59 393.53,412.43 393.57,411.24 393.60,410.03 393.64,408.81 393.67,407.59 393.71,406.37 393.75,405.17 393.78,403.99 393.82,402.84 393.86,401.73 393.89,400.68 393.93,399.67 393.97,398.74 394.00,397.88 394.04,397.10 394.08,396.40 394.11,395.74 394.15,395.11 394.19,394.50 394.22,393.91 394.26,393.35 394.29,392.80 394.33,392.27 394.37,391.76 394.40,391.27 394.44,390.79 394.48,390.33 394.51,389.88 394.55,389.45 394.59,389.03 394.62,388.61 394.66,388.21 394.70,387.81 394.73,387.43 394.77,387.05 394.81,386.67 394.84,386.30 394.88,385.94 394.91,385.57 394.95,385.22 394.99,384.87 395.02,384.52 395.06,384.18 395.10,383.85 395.13,383.52 395.17,383.20 395.21,382.89 395.24,382.58 395.28,382.28 395.32,381.99 395.35,381.71 395.39,381.43 395.43,381.16 395.46,380.89 395.50,380.64 395.53,380.39 395.57,380.16 395.61,379.93 395.64,379.70 395.68,379.49 395.72,379.28 395.75,379.08 395.79,378.88 395.83,378.68 395.86,378.48 395.90,378.29 395.94,378.11 395.97,377.92 396.01,377.74 396.05,377.56 396.08,377.39 396.12,377.22 396.15,377.05 396.19,376.88 396.23,376.72 396.26,376.56 396.30,376.40 396.34,376.24 396.37,376.09 396.41,375.94 396.45,375.79 396.48,375.65 396.52,375.50 396.56,375.36 396.59,375.22 396.63,375.09 396.66,374.95 396.70,374.82 396.74,374.69 396.77,374.56 396.81,374.43 396.85,374.30 396.88,374.18 396.92,374.05 396.96,373.93 396.99,373.81 397.03,373.68 397.07,373.56 397.10,373.44 397.14,373.32 397.18,373.20 397.21,373.07 397.25,372.95 397.28,372.83 397.32,372.72 397.36,372.60 397.39,372.48 397.43,372.37 397.47,372.25 397.50,372.14 397.54,372.03 397.58,371.93 397.61,371.82 397.65,371.72 397.69,371.62 397.72,371.53 397.76,371.43 397.80,371.34 397.83,371.26 397.87,371.17 397.90,371.10 397.94,371.02 397.98,370.95 398.01,370.88 398.05,370.82 398.09,370.76 398.12,370.71 398.16,370.66 398.20,370.62 398.23,370.57 398.27,370.53 398.31,370.49 398.34,370.44 398.38,370.40 398.42,370.36 398.45,370.32 398.49,370.28 398.52,370.24 398.56,370.20 398.60,370.16 398.63,370.13 398.67,370.09 398.71,370.06 398.74,370.03 398.78,370.00 398.82,369.98 398.85,369.95 398.89,369.93 398.93,369.91 398.96,369.89 399.00,369.88 399.04,369.87 399.07,369.86 399.11,369.85 399.14,369.85 399.18,369.85 399.22,369.85 399.25,369.85 399.29,369.85 399.33,369.85 399.36,369.85 399.40,369.85" fill="none" stroke="#3030ff" stroke-width="1.15" stroke-linejoin="round"/>
<polyline points="187.60,368.28 187.64,368.34 187.67,368.39 187.71,368.45 187.75,368.50 187.78,368.55 187.82,368.61 187.86,368.66 187.89,368.71 187.93,368.76 187.97,368.81 188.00,368.86 188.04,368.91 188.08,368.95 188.11,369.00 188.15,369.05 188.19,369.09 188.22,369.14 188.26,369.18 188.29,369.22 188.33,369.26 188.37,369.30 188.40,369.34 188.44,369.38 188.48,369.41 188.51,369.45 188.55,369.48 188.59,369.52 188.62,369.55 188.66,369.58 188.70,369.61 188.73,369.63 188.77,369.66 188.81,369.68 188.84,369.71 188.88,369.73 188.91,369.75 188.95,369.76 188.99,369.78 189.02,369.80 189.06,369.81 189.10,369.82 189.13,369.83 189.17,369.84 189.21,369.84 189.24,369.85 189.28,369.85 189.32,369.85 189.35,369.85 189.39,369.85 189.42,369.85 189.46,369.85 189.50,369.85 189.53,369.85 189.57,369.85 189.61,369.85 189.64,369.85 189.68,369.85 189.72,369.85 189.75,369.85 189.79,370.02 189.83,370.40" fill="none" stroke="#0000ff" stroke-width="1.54" stroke-linecap="round" stroke-linejoin="round"/>
<polyline points="188.40,369.34 188.44,369.38 188.48,369.41 188.51,369.45 188.55,369.48 188.59,369.52 188.62,369.55 188.66,369.58 188.70,369.61 188.73,369.63 188.77,369.66 188.81,369.68 188.84,369.71 188.88,369.73 188.91,369.75 188.95,369.76 188.99,369.78 189.02,369.80 189.06,369.81 189.10,369.82 189.13,369.83 189.17,369.84 189.21,369.84 189.24,369.85 189.28,369.85 189.32,369.85 189.35,369.85 189.39,369.85 189.42,369.85 189.46,369.85 189.50,369.85 189.53,369.85 189.57,369.85 189.61,369.85 189.64,369.85 189.68,369.85 189.72,369.85" fill="none" stroke="#0000ff" stroke-width="2.17" stroke-linecap="round" stroke-linejoin="round"/>
<polyline points="196.90,373.53 196.94,373.42 196.97,373.32 197.01,373.22 197.05,373.12 197.08,373.01 197.12,372.91 197.16,372.81 197.19,372.71 197.23,372.60 197.27,372.50 197.30,372.40 197.34,372.30 197.37,372.20 197.41,372.10 197.45,372.01 197.48,371.91 197.52,371.82 197.56,371.73 197.59,371.64 197.63,371.55 197.67,371.46 197.70,371.38 197.74,371.30 197.78,371.22 197.81,371.14 197.85,371.07 197.89,370.99 197.92,370.93 197.96,370.86 197.99,370.80 198.03,370.74 198.07,370.69 198.10,370.64 198.14,370.59 198.18,370.55 198.21,370.51 198.25,370.48 198.29,370.44 198.32,370.40 198.36,370.37 198.40,370.33 198.43,370.29 198.47,370.26 198.51,370.22 198.54,370.19 198.58,370.16 198.61,370.13 198.65,370.10 198.69,370.07 198.72,370.04 198.76,370.01 198.80,369.99 198.83,369.97 198.87,369.95 198.91,369.93 198.94,369.91 198.98,369.89 199.02,369.88 199.05,369.87 199.09,369.72 199.13,369.36" fill="none" stroke="#0000ff" stroke-width="1.63" stroke-linecap="round" stroke-linejoin="round"/>
<polyline points="197.70,371.38 197.74,371.30 197.78,371.22 197.81,371.14 197.85,371.07 197.89,370.99 197.92,370.93 197.96,370.86 197.99,370.80 198.03,370.74 198.07,370.69 198.10,370.64 198.14,370.59 198.18,370.55 198.21,370.51 198.25,370.48 198.29,370.44 198.32,370.40 198.36,370.37 198.40,370.33 198.43,370.29 198.47,370.26 198.51,370.22 198.54,370.19 198.58,370.16 198.61,370.13 198.65,370.10 198.69,370.07 198.72,370.04 198.76,370.01 198.80,369.99 198.83,369.97 198.87,369.95 198.91,369.93 198.94,369.91 198.98,369.89 199.02,369.88" fill="none" stroke="#0000ff" stroke-width="2.40" stroke-linecap="round" stroke-linejoin="round"/>
<polyline points="205.80,364.86 205.83,364.99 205.87,365.11 205.91,365.23 205.94,365.34 205.98,365.46 206.02,365.57 206.05,365.69 206.09,365.80 206.13,365.91 206.16,366.02 206.20,366.12 206.24,366.23 206.27,366.33 206.31,366.44 206.35,366.54 206.38,366.64 206.42,366.75 206.45,366.85 206.49,366.95 206.53,367.06 206.56,367.16 206.60,367.26 206.64,367.36 206.67,367.46 206.71,367.56 206.75,367.66 206.78,367.75 206.82,367.85 206.86,367.94 206.89,368.03 206.93,368.12 206.97,368.21 207.00,368.30 207.04,368.38 207.07,368.46 207.11,368.54 207.15,368.61 207.18,368.68 207.22,368.75 207.26,368.82 207.29,368.88 207.33,368.94 207.37,368.99 207.40,369.05 207.44,369.09 207.48,369.14 207.51,369.17 207.55,369.21 207.59,369.25 207.62,369.29 207.66,369.33 207.69,369.36 207.73,369.40 207.77,369.43 207.80,369.47 207.84,369.50 207.88,369.53 207.91,369.57 207.95,369.66 207.99,369.97 208.02,370.47" fill="none" stroke="#0000ff" stroke-width="1.72" stroke-linecap="round" stroke-linejoin="round"/>
<polyline points="206.60,367.26 206.64,367.36 206.67,367.46 206.71,367.56 206.75,367.66 206.78,367.75 206.82,367.85 206.86,367.94 206.89,368.03 206.93,368.12 206.97,368.21 207.00,368.30 207.04,368.38 207.07,368.46 207.11,368.54 207.15,368.61 207.18,368.68 207.22,368.75 207.26,368.82 207.29,368.88 207.33,368.94 207.37,368.99 207.40,369.05 207.44,369.09 207.48,369.14 207.51,369.17 207.55,369.21 207.59,369.25 207.62,369.29 207.66,369.33 207.69,369.36 207.73,369.40 207.77,369.43 207.80,369.47 207.84,369.50 207.88,369.53 207.91,369.57" fill="none" stroke="#0000ff" stroke-width="2.63" stroke-linecap="round" stroke-linejoin="round"/>
<polyline points="214.92,374.06 214.95,373.94 214.99,373.83 215.02,373.73 215.06,373.62 215.10,373.51 215.13,373.41 215.17,373.30 215.21,373.20 215.24,373.10 215.28,372.99 215.32,372.89 215.35,372.79 215.39,372.68 215.43,372.58 215.46,372.48 215.50,372.38 215.54,372.28 215.57,372.18 215.61,372.08 215.64,371.98 215.68,371.89 215.72,371.79 215.75,371.70 215.79,371.61 215.83,371.52 215.86,371.43 215.90,371.35 215.94,371.27 215.97,371.19 216.01,371.11 216.05,371.04 216.08,370.97 216.12,370.90 216.15,370.84 216.19,370.78 216.23,370.73 216.26,370.67 216.30,370.62 216.34,370.58 216.37,370.54 216.41,370.50 216.45,370.46 216.48,370.43 216.52,370.39 216.56,370.35 216.59,370.32 216.63,370.28 216.67,370.25 216.70,370.21 216.74,370.18 216.77,370.15 216.81,370.11 216.85,370.09 216.88,370.06 216.92,370.03 216.96,370.00 216.99,369.98 217.03,369.96 217.07,369.91 217.10,369.66 217.14,369.19" fill="none" stroke="#0000ff" stroke-width="1.81" stroke-linecap="round" stroke-linejoin="round"/>
<polyline points="215.72,371.79 215.75,371.70 215.79,371.61 215.83,371.52 215.86,371.43 215.90,371.35 215.94,371.27 215.97,371.19 216.01,371.11 216.05,371.04 216.08,370.97 216.12,370.90 216.15,370.84 216.19,370.78 216.23,370.73 216.26,370.67 216.30,370.62 216.34,370.58 216.37,370.54 216.41,370.50 216.45,370.46 216.48,370.43 216.52,370.39 216.56,370.35 216.59,370.32 216.63,370.28 216.67,370.25 216.70,370.21 216.74,370.18 216.77,370.15 216.81,370.11 216.85,370.09 216.88,370.06 216.92,370.03 216.96,370.00 216.99,369.98 217.03,369.96" fill="none" stroke="#0000ff" stroke-width="2.86" stroke-linecap="round" stroke-linejoin="round"/>
<polyline points="223.96,365.29 224.00,365.40 224.03,365.52 224.07,365.63 224.10,365.75 224.14,365.86 224.18,365.97 224.21,366.08 224.25,366.19 224.29,366.29 224.32,366.40 224.36,366.50 224.40,366.61 224.43,366.72 224.47,366.82 224.51,366.93 224.54,367.03 224.58,367.14 224.62,367.24 224.65,367.34 224.69,367.45 224.72,367.55 224.76,367.65 224.80,367.74 224.83,367.84 224.87,367.94 224.91,368.03 224.94,368.12 224.98,368.21 225.02,368.29 225.05,368.38 225.09,368.46 225.13,368.54 225.16,368.61 225.20,368.69 225.24,368.76 225.27,368.82 225.31,368.88 225.34,368.94 225.38,369.00 225.42,369.05 225.45,369.09 225.49,369.14 225.53,369.17 225.56,369.21 225.60,369.25 225.64,369.29 225.67,369.33 225.71,369.36 225.75,369.40 225.78,369.44 225.82,369.47 225.86,369.51 225.89,369.54 225.93,369.57 225.96,369.60 226.00,369.63 226.04,369.66 226.07,369.69 226.11,369.72 226.15,369.91 226.18,370.33" fill="none" stroke="#0000ff" stroke-width="1.90" stroke-linecap="round" stroke-linejoin="round"/>
<polyline points="224.76,367.65 224.80,367.74 224.83,367.84 224.87,367.94 224.91,368.03 224.94,368.12 224.98,368.21 225.02,368.29 225.05,368.38 225.09,368.46 225.13,368.54 225.16,368.61 225.20,368.69 225.24,368.76 225.27,368.82 225.31,368.88 225.34,368.94 225.38,369.00 225.42,369.05 225.45,369.09 225.49,369.14 225.53,369.17 225.56,369.21 225.60,369.25 225.64,369.29 225.67,369.33 225.71,369.36 225.75,369.40 225.78,369.44 225.82,369.47 225.86,369.51 225.89,369.54 225.93,369.57 225.96,369.60 226.00,369.63 226.04,369.66 226.07,369.69" fill="none" stroke="#0000ff" stroke-width="3.08" stroke-linecap="round" stroke-linejoin="round"/>
<polyline points="233.00,374.52 233.04,374.40 233.08,374.28 233.11,374.17 233.15,374.05 233.18,373.94 233.22,373.83 233.26,373.71 233.29,373.60 233.33,373.50 233.37,373.39 233.40,373.28 233.44,373.17 233.48,373.07 233.51,372.96 233.55,372.85 233.59,372.74 233.62,372.64 233.66,372.53 233.70,372.43 233.73,372.32 233.77,372.22 233.80,372.12 233.84,372.02 233.88,371.92 233.91,371.82 233.95,371.73 233.99,371.63 234.02,371.54 234.06,371.45 234.10,371.37 234.13,371.29 234.17,371.20 234.21,371.13 234.24,371.05 234.28,370.98 234.32,370.91 234.35,370.85 234.39,370.79 234.42,370.73 234.46,370.68 234.50,370.63 234.53,370.59 234.57,370.55 234.61,370.51 234.64,370.47 234.68,370.43 234.72,370.39 234.75,370.35 234.79,370.32 234.83,370.28 234.86,370.24 234.90,370.21 234.94,370.17 234.97,370.14 235.01,370.11 235.04,370.08 235.08,370.05 235.12,370.02 235.15,370.00 235.19,369.81 235.23,369.40" fill="none" stroke="#0000ff" stroke-width="1.99" stroke-linecap="round" stroke-linejoin="round"/>
<polyline points="233.80,372.12 233.84,372.02 233.88,371.92 233.91,371.82 233.95,371.73 233.99,371.63 234.02,371.54 234.06,371.45 234.10,371.37 234.13,371.29 234.17,371.20 234.21,371.13 234.24,371.05 234.28,370.98 234.32,370.91 234.35,370.85 234.39,370.79 234.42,370.73 234.46,370.68 234.50,370.63 234.53,370.59 234.57,370.55 234.61,370.51 234.64,370.47 234.68,370.43 234.72,370.39 234.75,370.35 234.79,370.32 234.83,370.28 234.86,370.24 234.90,370.21 234.94,370.17 234.97,370.14 235.01,370.11 235.04,370.08 235.08,370.05 235.12,370.02" fill="none" stroke="#0000ff" stroke-width="3.31" stroke-linecap="round" stroke-linejoin="round"/>
<polyline points="242.16,365.44 242.19,365.56 242.23,365.68 242.27,365.79 242.30,365.90 242.34,366.01 242.37,366.13 242.41,366.24 242.45,366.34 242.48,366.45 242.52,366.56 242.56,366.67 242.59,366.78 242.63,366.89 242.67,367.00 242.70,367.11 242.74,367.22 242.78,367.32 242.81,367.43 242.85,367.53 242.89,367.63 242.92,367.73 242.96,367.83 242.99,367.93 243.03,368.03 243.07,368.12 243.10,368.21 243.14,368.30 243.18,368.38 243.21,368.46 243.25,368.54 243.29,368.62 243.32,368.69 243.36,368.76 243.40,368.83 243.43,368.89 243.47,368.95 243.50,369.00 243.54,369.05 243.58,369.10 243.61,369.14 243.65,369.18 243.69,369.22 243.72,369.26 243.76,369.30 243.80,369.33 243.83,369.37 243.87,369.41 243.91,369.45 243.94,369.48 243.98,369.52 244.02,369.55 244.05,369.58 244.09,369.61 244.12,369.64 244.16,369.67 244.20,369.70 244.23,369.72 244.27,369.75 244.31,369.83 244.34,370.15 244.38,370.68" fill="none" stroke="#0000ff" stroke-width="2.08" stroke-linecap="round" stroke-linejoin="round"/>
<polyline points="242.96,367.83 242.99,367.93 243.03,368.03 243.07,368.12 243.10,368.21 243.14,368.30 243.18,368.38 243.21,368.46 243.25,368.54 243.29,368.62 243.32,368.69 243.36,368.76 243.40,368.83 243.43,368.89 243.47,368.95 243.50,369.00 243.54,369.05 243.58,369.10 243.61,369.14 243.65,369.18 243.69,369.22 243.72,369.26 243.76,369.30 243.80,369.33 243.83,369.37 243.87,369.41 243.91,369.45 243.94,369.48 243.98,369.52 244.02,369.55 244.05,369.58 244.09,369.61 244.12,369.64 244.16,369.67 244.20,369.70 244.23,369.72 244.27,369.75" fill="none" stroke="#0000ff" stroke-width="3.54" stroke-linecap="round" stroke-linejoin="round"/>
<polyline points="251.02,375.24 251.05,375.10 251.09,374.97 251.13,374.85 251.16,374.72 251.20,374.60 251.24,374.47 251.27,374.35 251.31,374.23 251.35,374.11 251.38,374.00 251.42,373.88 251.45,373.77 251.49,373.66 251.53,373.55 251.56,373.44 251.60,373.33 251.64,373.21 251.67,373.10 251.71,372.99 251.75,372.88 251.78,372.77 251.82,372.66 251.86,372.55 251.89,372.45 251.93,372.34 251.97,372.24 252.00,372.13 252.04,372.03 252.07,371.93 252.11,371.83 252.15,371.73 252.18,371.64 252.22,371.55 252.26,371.46 252.29,371.37 252.33,371.29 252.37,371.20 252.40,371.13 252.44,371.05 252.48,370.98 252.51,370.91 252.55,370.85 252.59,370.79 252.62,370.73 252.66,370.68 252.69,370.63 252.73,370.59 252.77,370.55 252.80,370.51 252.84,370.47 252.88,370.43 252.91,370.39 252.95,370.35 252.99,370.31 253.02,370.27 253.06,370.24 253.10,370.20 253.13,370.17 253.17,370.10 253.21,369.80 253.24,369.28" fill="none" stroke="#0000ff" stroke-width="2.10" stroke-linecap="round" stroke-linejoin="round"/>
<polyline points="251.82,372.66 251.86,372.55 251.89,372.45 251.93,372.34 251.97,372.24 252.00,372.13 252.04,372.03 252.07,371.93 252.11,371.83 252.15,371.73 252.18,371.64 252.22,371.55 252.26,371.46 252.29,371.37 252.33,371.29 252.37,371.20 252.40,371.13 252.44,371.05 252.48,370.98 252.51,370.91 252.55,370.85 252.59,370.79 252.62,370.73 252.66,370.68 252.69,370.63 252.73,370.59 252.77,370.55 252.80,370.51 252.84,370.47 252.88,370.43 252.91,370.39 252.95,370.35 252.99,370.31 253.02,370.27 253.06,370.24 253.10,370.20 253.13,370.17" fill="none" stroke="#0000ff" stroke-width="3.60" stroke-linecap="round" stroke-linejoin="round"/>
<polyline points="260.32,365.82 260.35,365.94 260.39,366.05 260.43,366.17 260.46,366.28 260.50,366.39 260.53,366.51 260.57,366.62 260.61,366.73 260.64,366.84 260.68,366.96 260.72,367.07 260.75,367.18 260.79,367.29 260.83,367.39 260.86,367.50 260.90,367.61 260.94,367.71 260.97,367.81 261.01,367.91 261.05,368.01 261.08,368.10 261.12,368.19 261.15,368.28 261.19,368.37 261.23,368.45 261.26,368.53 261.30,368.61 261.34,368.68 261.37,368.75 261.41,368.82 261.45,368.88 261.48,368.94 261.52,368.99 261.56,369.04 261.59,369.09 261.63,369.13 261.67,369.17 261.70,369.21 261.74,369.25 261.77,369.29 261.81,369.33 261.85,369.37 261.88,369.41 261.92,369.45 261.96,369.48 261.99,369.52 262.03,369.55 262.07,369.59 262.10,369.62 262.14,369.65 262.18,369.68 262.21,369.70 262.25,369.73 262.29,369.75 262.32,369.77 262.36,369.79 262.39,369.81 262.43,369.82 262.47,369.84 262.50,370.03 262.54,370.46" fill="none" stroke="#0000ff" stroke-width="2.10" stroke-linecap="round" stroke-linejoin="round"/>
<polyline points="261.12,368.19 261.15,368.28 261.19,368.37 261.23,368.45 261.26,368.53 261.30,368.61 261.34,368.68 261.37,368.75 261.41,368.82 261.45,368.88 261.48,368.94 261.52,368.99 261.56,369.04 261.59,369.09 261.63,369.13 261.67,369.17 261.70,369.21 261.74,369.25 261.77,369.29 261.81,369.33 261.85,369.37 261.88,369.41 261.92,369.45 261.96,369.48 261.99,369.52 262.03,369.55 262.07,369.59 262.10,369.62 262.14,369.65 262.18,369.68 262.21,369.70 262.25,369.73 262.29,369.75 262.32,369.77 262.36,369.79 262.39,369.81 262.43,369.82" fill="none" stroke="#0000ff" stroke-width="3.60" stroke-linecap="round" stroke-linejoin="round"/>
<polyline points="269.03,376.06 269.07,375.92 269.10,375.77 269.14,375.63 269.18,375.49 269.21,375.35 269.25,375.22 269.29,375.08 269.32,374.95 269.36,374.82 269.40,374.70 269.43,374.57 269.47,374.44 269.51,374.32 269.54,374.20 269.58,374.08 269.62,373.96 269.65,373.85 269.69,373.73 269.72,373.62 269.76,373.50 269.80,373.39 269.83,373.27 269.87,373.16 269.91,373.04 269.94,372.93 269.98,372.82 270.02,372.70 270.05,372.59 270.09,372.48 270.13,372.37 270.16,372.26 270.20,372.16 270.24,372.05 270.27,371.95 270.31,371.85 270.34,371.75 270.38,371.65 270.42,371.56 270.45,371.47 270.49,371.38 270.53,371.29 270.56,371.21 270.60,371.13 270.64,371.05 270.67,370.98 270.71,370.91 270.75,370.85 270.78,370.79 270.82,370.73 270.86,370.68 270.89,370.64 270.93,370.59 270.96,370.55 271.00,370.51 271.04,370.47 271.07,370.43 271.11,370.39 271.15,370.35 271.18,370.19 271.22,369.79" fill="none" stroke="#0000ff" stroke-width="2.10" stroke-linecap="round" stroke-linejoin="round"/>
<polyline points="269.83,373.27 269.87,373.16 269.91,373.04 269.94,372.93 269.98,372.82 270.02,372.70 270.05,372.59 270.09,372.48 270.13,372.37 270.16,372.26 270.20,372.16 270.24,372.05 270.27,371.95 270.31,371.85 270.34,371.75 270.38,371.65 270.42,371.56 270.45,371.47 270.49,371.38 270.53,371.29 270.56,371.21 270.60,371.13 270.64,371.05 270.67,370.98 270.71,370.91 270.75,370.85 270.78,370.79 270.82,370.73 270.86,370.68 270.89,370.64 270.93,370.59 270.96,370.55 271.00,370.51 271.04,370.47 271.07,370.43 271.11,370.39 271.15,370.35" fill="none" stroke="#0000ff" stroke-width="3.60" stroke-linecap="round" stroke-linejoin="round"/>
<polyline points="278.51,366.35 278.55,366.47 278.59,366.59 278.62,366.70 278.66,366.82 278.70,366.93 278.73,367.04 278.77,367.16 278.80,367.27 278.84,367.38 278.88,367.49 278.91,367.59 278.95,367.70 278.99,367.80 279.02,367.90 279.06,368.00 279.10,368.10 279.13,368.19 279.17,368.28 279.21,368.37 279.24,368.45 279.28,368.53 279.32,368.61 279.35,368.68 279.39,368.75 279.42,368.82 279.46,368.88 279.50,368.94 279.53,368.99 279.57,369.04 279.61,369.09 279.64,369.13 279.68,369.17 279.72,369.21 279.75,369.26 279.79,369.30 279.83,369.34 279.86,369.38 279.90,369.42 279.94,369.45 279.97,369.49 280.01,369.53 280.04,369.56 280.08,369.59 280.12,369.63 280.15,369.66 280.19,369.68 280.23,369.71 280.26,369.73 280.30,369.76 280.34,369.78 280.37,369.80 280.41,369.81 280.45,369.82 280.48,369.83 280.52,369.84 280.56,369.85 280.59,369.85 280.63,369.85 280.66,369.92 280.70,370.23 280.74,370.77" fill="none" stroke="#0000ff" stroke-width="2.10" stroke-linecap="round" stroke-linejoin="round"/>
<polyline points="279.32,368.61 279.35,368.68 279.39,368.75 279.42,368.82 279.46,368.88 279.50,368.94 279.53,368.99 279.57,369.04 279.61,369.09 279.64,369.13 279.68,369.17 279.72,369.21 279.75,369.26 279.79,369.30 279.83,369.34 279.86,369.38 279.90,369.42 279.94,369.45 279.97,369.49 280.01,369.53 280.04,369.56 280.08,369.59 280.12,369.63 280.15,369.66 280.19,369.68 280.23,369.71 280.26,369.73 280.30,369.76 280.34,369.78 280.37,369.80 280.41,369.81 280.45,369.82 280.48,369.83 280.52,369.84 280.56,369.85 280.59,369.85 280.63,369.85" fill="none" stroke="#0000ff" stroke-width="3.60" stroke-linecap="round" stroke-linejoin="round"/>
<polyline points="287.63,374.61 287.67,374.48 287.70,374.36 287.74,374.23 287.78,374.11 287.81,373.99 287.85,373.87 287.88,373.76 287.92,373.64 287.96,373.52 287.99,373.40 288.03,373.29 288.07,373.17 288.10,373.05 288.14,372.94 288.18,372.82 288.21,372.71 288.25,372.59 288.29,372.48 288.32,372.37 288.36,372.26 288.40,372.15 288.43,372.05 288.47,371.94 288.50,371.84 288.54,371.74 288.58,371.64 288.61,371.55 288.65,371.46 288.69,371.37 288.72,371.28 288.76,371.20 288.80,371.12 288.83,371.04 288.87,370.97 288.91,370.90 288.94,370.84 288.98,370.78 289.02,370.73 289.05,370.68 289.09,370.63 289.12,370.59 289.16,370.54 289.20,370.50 289.23,370.46 289.27,370.42 289.31,370.38 289.34,370.34 289.38,370.30 289.42,370.26 289.45,370.22 289.49,370.18 289.53,370.15 289.56,370.12 289.60,370.08 289.64,370.05 289.67,370.02 289.71,370.00 289.74,369.97 289.78,369.84 289.82,369.46" fill="none" stroke="#0000ff" stroke-width="2.10" stroke-linecap="round" stroke-linejoin="round"/>
<polyline points="288.43,372.05 288.47,371.94 288.50,371.84 288.54,371.74 288.58,371.64 288.61,371.55 288.65,371.46 288.69,371.37 288.72,371.28 288.76,371.20 288.80,371.12 288.83,371.04 288.87,370.97 288.91,370.90 288.94,370.84 288.98,370.78 289.02,370.73 289.05,370.68 289.09,370.63 289.12,370.59 289.16,370.54 289.20,370.50 289.23,370.46 289.27,370.42 289.31,370.38 289.34,370.34 289.38,370.30 289.42,370.26 289.45,370.22 289.49,370.18 289.53,370.15 289.56,370.12 289.60,370.08 289.64,370.05 289.67,370.02 289.71,370.00 289.74,369.97" fill="none" stroke="#0000ff" stroke-width="3.60" stroke-linecap="round" stroke-linejoin="round"/>
<polyline points="296.67,364.77 296.71,364.90 296.75,365.03 296.78,365.16 296.82,365.29 296.86,365.41 296.89,365.53 296.93,365.66 296.97,365.78 297.00,365.90 297.04,366.01 297.07,366.13 297.11,366.25 297.15,366.37 297.18,366.49 297.22,366.61 297.26,366.73 297.29,366.85 297.33,366.96 297.37,367.08 297.40,367.19 297.44,367.30 297.48,367.42 297.51,367.53 297.55,367.63 297.59,367.74 297.62,367.84 297.66,367.94 297.69,368.04 297.73,368.14 297.77,368.23 297.80,368.32 297.84,368.41 297.88,368.49 297.91,368.57 297.95,368.65 297.99,368.72 298.02,368.79 298.06,368.85 298.10,368.91 298.13,368.97 298.17,369.02 298.20,369.06 298.24,369.11 298.28,369.15 298.31,369.19 298.35,369.24 298.39,369.28 298.42,369.32 298.46,369.36 298.50,369.40 298.53,369.44 298.57,369.48 298.61,369.52 298.64,369.55 298.68,369.59 298.72,369.62 298.75,369.65 298.79,369.68 298.82,369.71 298.86,369.93 298.90,370.39" fill="none" stroke="#0000ff" stroke-width="2.10" stroke-linecap="round" stroke-linejoin="round"/>
<polyline points="297.48,367.42 297.51,367.53 297.55,367.63 297.59,367.74 297.62,367.84 297.66,367.94 297.69,368.04 297.73,368.14 297.77,368.23 297.80,368.32 297.84,368.41 297.88,368.49 297.91,368.57 297.95,368.65 297.99,368.72 298.02,368.79 298.06,368.85 298.10,368.91 298.13,368.97 298.17,369.02 298.20,369.06 298.24,369.11 298.28,369.15 298.31,369.19 298.35,369.24 298.39,369.28 298.42,369.32 298.46,369.36 298.50,369.40 298.53,369.44 298.57,369.48 298.61,369.52 298.64,369.55 298.68,369.59 298.72,369.62 298.75,369.65 298.79,369.68" fill="none" stroke="#0000ff" stroke-width="3.60" stroke-linecap="round" stroke-linejoin="round"/>
<polyline points="305.83,374.63 305.86,374.50 305.90,374.37 305.94,374.25 305.97,374.13 306.01,374.00 306.05,373.88 306.08,373.77 306.12,373.65 306.15,373.53 306.19,373.41 306.23,373.29 306.26,373.17 306.30,373.05 306.34,372.93 306.37,372.82 306.41,372.70 306.45,372.58 306.48,372.47 306.52,372.36 306.56,372.25 306.59,372.14 306.63,372.03 306.67,371.93 306.70,371.82 306.74,371.72 306.77,371.63 306.81,371.53 306.85,371.44 306.88,371.35 306.92,371.26 306.96,371.18 306.99,371.10 307.03,371.03 307.07,370.96 307.10,370.89 307.14,370.83 307.18,370.77 307.21,370.71 307.25,370.67 307.29,370.62 307.32,370.58 307.36,370.53 307.39,370.49 307.43,370.45 307.47,370.41 307.50,370.37 307.54,370.32 307.58,370.29 307.61,370.25 307.65,370.21 307.69,370.17 307.72,370.14 307.76,370.10 307.80,370.07 307.83,370.04 307.87,370.01 307.91,369.99 307.94,369.96 307.98,369.85 308.01,369.48" fill="none" stroke="#0000ff" stroke-width="2.10" stroke-linecap="round" stroke-linejoin="round"/>
<polyline points="306.63,372.03 306.67,371.93 306.70,371.82 306.74,371.72 306.77,371.63 306.81,371.53 306.85,371.44 306.88,371.35 306.92,371.26 306.96,371.18 306.99,371.10 307.03,371.03 307.07,370.96 307.10,370.89 307.14,370.83 307.18,370.77 307.21,370.71 307.25,370.67 307.29,370.62 307.32,370.58 307.36,370.53 307.39,370.49 307.43,370.45 307.47,370.41 307.50,370.37 307.54,370.32 307.58,370.29 307.61,370.25 307.65,370.21 307.69,370.17 307.72,370.14 307.76,370.10 307.80,370.07 307.83,370.04 307.87,370.01 307.91,369.99 307.94,369.96" fill="none" stroke="#0000ff" stroke-width="3.60" stroke-linecap="round" stroke-linejoin="round"/>
<polyline points="314.87,364.68 314.91,364.82 314.94,364.95 314.98,365.08 315.02,365.21 315.05,365.34 315.09,365.46 315.13,365.58 315.16,365.71 315.20,365.83 315.23,365.95 315.27,366.07 315.31,366.19 315.34,366.31 315.38,366.43 315.42,366.55 315.45,366.67 315.49,366.79 315.53,366.91 315.56,367.03 315.60,367.14 315.64,367.26 315.67,367.37 315.71,367.48 315.75,367.59 315.78,367.70 315.82,367.80 315.85,367.91 315.89,368.01 315.93,368.11 315.96,368.20 316.00,368.29 316.04,368.38 316.07,368.47 316.11,368.55 316.15,368.62 316.18,368.70 316.22,368.77 316.26,368.83 316.29,368.89 316.33,368.95 316.37,369.00 316.40,369.05 316.44,369.09 316.47,369.14 316.51,369.18 316.55,369.22 316.58,369.27 316.62,369.31 316.66,369.35 316.69,369.39 316.73,369.43 316.77,369.47 316.80,369.51 316.84,369.54 316.88,369.58 316.91,369.61 316.95,369.64 316.99,369.67 317.02,369.77 317.06,370.12 317.09,370.70" fill="none" stroke="#0000ff" stroke-width="2.10" stroke-linecap="round" stroke-linejoin="round"/>
<polyline points="315.67,367.37 315.71,367.48 315.75,367.59 315.78,367.70 315.82,367.80 315.85,367.91 315.89,368.01 315.93,368.11 315.96,368.20 316.00,368.29 316.04,368.38 316.07,368.47 316.11,368.55 316.15,368.62 316.18,368.70 316.22,368.77 316.26,368.83 316.29,368.89 316.33,368.95 316.37,369.00 316.40,369.05 316.44,369.09 316.47,369.14 316.51,369.18 316.55,369.22 316.58,369.27 316.62,369.31 316.66,369.35 316.69,369.39 316.73,369.43 316.77,369.47 316.80,369.51 316.84,369.54 316.88,369.58 316.91,369.61 316.95,369.64 316.99,369.67" fill="none" stroke="#0000ff" stroke-width="3.60" stroke-linecap="round" stroke-linejoin="round"/>
<polyline points="323.62,376.15 323.66,376.00 323.70,375.86 323.73,375.71 323.77,375.57 323.80,375.42 323.84,375.28 323.88,375.15 323.91,375.01 323.95,374.88 323.99,374.75 324.02,374.62 324.06,374.49 324.10,374.36 324.13,374.24 324.17,374.11 324.21,373.99 324.24,373.87 324.28,373.75 324.32,373.63 324.35,373.51 324.39,373.39 324.42,373.27 324.46,373.15 324.50,373.03 324.53,372.91 324.57,372.79 324.61,372.67 324.64,372.56 324.68,372.44 324.72,372.33 324.75,372.22 324.79,372.11 324.83,372.00 324.86,371.90 324.90,371.80 324.94,371.70 324.97,371.60 325.01,371.50 325.04,371.41 325.08,371.32 325.12,371.24 325.15,371.16 325.19,371.08 325.23,371.00 325.26,370.93 325.30,370.87 325.34,370.81 325.37,370.75 325.41,370.70 325.45,370.65 325.48,370.61 325.52,370.56 325.55,370.52 325.59,370.48 325.63,370.43 325.66,370.39 325.70,370.35 325.74,370.31 325.77,370.21 325.81,369.85 325.85,369.26" fill="none" stroke="#0000ff" stroke-width="2.10" stroke-linecap="round" stroke-linejoin="round"/>
<polyline points="324.42,373.27 324.46,373.15 324.50,373.03 324.53,372.91 324.57,372.79 324.61,372.67 324.64,372.56 324.68,372.44 324.72,372.33 324.75,372.22 324.79,372.11 324.83,372.00 324.86,371.90 324.90,371.80 324.94,371.70 324.97,371.60 325.01,371.50 325.04,371.41 325.08,371.32 325.12,371.24 325.15,371.16 325.19,371.08 325.23,371.00 325.26,370.93 325.30,370.87 325.34,370.81 325.37,370.75 325.41,370.70 325.45,370.65 325.48,370.61 325.52,370.56 325.55,370.52 325.59,370.48 325.63,370.43 325.66,370.39 325.70,370.35 325.74,370.31" fill="none" stroke="#0000ff" stroke-width="3.60" stroke-linecap="round" stroke-linejoin="round"/>
<polyline points="333.03,365.92 333.07,366.04 333.10,366.17 333.14,366.29 333.18,366.41 333.21,366.53 333.25,366.65 333.29,366.77 333.32,366.89 333.36,367.00 333.40,367.12 333.43,367.24 333.47,367.35 333.50,367.46 333.54,367.57 333.58,367.68 333.61,367.79 333.65,367.89 333.69,367.99 333.72,368.09 333.76,368.18 333.80,368.28 333.83,368.37 333.87,368.45 333.91,368.53 333.94,368.61 333.98,368.69 334.02,368.76 334.05,368.82 334.09,368.88 334.12,368.94 334.16,368.99 334.20,369.04 334.23,369.09 334.27,369.13 334.31,369.17 334.34,369.22 334.38,369.26 334.42,369.30 334.45,369.34 334.49,369.39 334.53,369.43 334.56,369.46 334.60,369.50 334.64,369.54 334.67,369.57 334.71,369.61 334.74,369.64 334.78,369.67 334.82,369.70 334.85,369.72 334.89,369.75 334.93,369.77 334.96,369.79 335.00,369.81 335.04,369.82 335.07,369.83 335.11,369.84 335.15,369.85 335.18,369.85 335.22,370.05 335.26,370.50" fill="none" stroke="#0000ff" stroke-width="2.10" stroke-linecap="round" stroke-linejoin="round"/>
<polyline points="333.83,368.37 333.87,368.45 333.91,368.53 333.94,368.61 333.98,368.69 334.02,368.76 334.05,368.82 334.09,368.88 334.12,368.94 334.16,368.99 334.20,369.04 334.23,369.09 334.27,369.13 334.31,369.17 334.34,369.22 334.38,369.26 334.42,369.30 334.45,369.34 334.49,369.39 334.53,369.43 334.56,369.46 334.60,369.50 334.64,369.54 334.67,369.57 334.71,369.61 334.74,369.64 334.78,369.67 334.82,369.70 334.85,369.72 334.89,369.75 334.93,369.77 334.96,369.79 335.00,369.81 335.04,369.82 335.07,369.83 335.11,369.84 335.15,369.85" fill="none" stroke="#0000ff" stroke-width="3.60" stroke-linecap="round" stroke-linejoin="round"/>
<polyline points="342.00,375.40 342.04,375.26 342.07,375.12 342.11,374.99 342.15,374.86 342.18,374.72 342.22,374.59 342.26,374.46 342.29,374.34 342.33,374.21 342.37,374.09 342.40,373.97 342.44,373.85 342.48,373.72 342.51,373.60 342.55,373.48 342.58,373.36 342.62,373.24 342.66,373.12 342.69,373.00 342.73,372.88 342.77,372.76 342.80,372.64 342.84,372.52 342.88,372.41 342.91,372.30 342.95,372.19 342.99,372.08 343.02,371.97 343.06,371.86 343.10,371.76 343.13,371.66 343.17,371.56 343.20,371.47 343.24,371.38 343.28,371.29 343.31,371.21 343.35,371.13 343.39,371.05 343.42,370.98 343.46,370.91 343.50,370.85 343.53,370.79 343.57,370.73 343.61,370.68 343.64,370.64 343.68,370.59 343.72,370.55 343.75,370.50 343.79,370.46 343.82,370.42 343.86,370.38 343.90,370.33 343.93,370.29 343.97,370.25 344.01,370.22 344.04,370.18 344.08,370.14 344.12,370.11 344.15,370.08 344.19,369.87 344.23,369.41" fill="none" stroke="#0000ff" stroke-width="2.10" stroke-linecap="round" stroke-linejoin="round"/>
<polyline points="342.80,372.64 342.84,372.52 342.88,372.41 342.91,372.30 342.95,372.19 342.99,372.08 343.02,371.97 343.06,371.86 343.10,371.76 343.13,371.66 343.17,371.56 343.20,371.47 343.24,371.38 343.28,371.29 343.31,371.21 343.35,371.13 343.39,371.05 343.42,370.98 343.46,370.91 343.50,370.85 343.53,370.79 343.57,370.73 343.61,370.68 343.64,370.64 343.68,370.59 343.72,370.55 343.75,370.50 343.79,370.46 343.82,370.42 343.86,370.38 343.90,370.33 343.93,370.29 343.97,370.25 344.01,370.22 344.04,370.18 344.08,370.14 344.12,370.11" fill="none" stroke="#0000ff" stroke-width="3.60" stroke-linecap="round" stroke-linejoin="round"/>
<polyline points="351.23,365.18 351.26,365.31 351.30,365.44 351.34,365.56 351.37,365.69 351.41,365.81 351.45,365.93 351.48,366.05 351.52,366.18 351.56,366.30 351.59,366.42 351.63,366.54 351.67,366.66 351.70,366.78 351.74,366.90 351.77,367.02 351.81,367.14 351.85,367.26 351.88,367.37 351.92,367.48 351.96,367.59 351.99,367.70 352.03,367.81 352.07,367.91 352.10,368.01 352.14,368.11 352.18,368.21 352.21,368.30 352.25,368.39 352.29,368.47 352.32,368.55 352.36,368.63 352.39,368.70 352.43,368.77 352.47,368.84 352.50,368.90 352.54,368.95 352.58,369.01 352.61,369.05 352.65,369.10 352.69,369.14 352.72,369.19 352.76,369.23 352.80,369.27 352.83,369.32 352.87,369.36 352.90,369.40 352.94,369.44 352.98,369.48 353.01,369.51 353.05,369.55 353.09,369.59 353.12,369.62 353.16,369.65 353.20,369.68 353.23,369.71 353.27,369.73 353.31,369.76 353.34,369.78 353.38,369.86 353.42,370.21 353.45,370.79" fill="none" stroke="#0000ff" stroke-width="2.10" stroke-linecap="round" stroke-linejoin="round"/>
<polyline points="352.03,367.81 352.07,367.91 352.10,368.01 352.14,368.11 352.18,368.21 352.21,368.30 352.25,368.39 352.29,368.47 352.32,368.55 352.36,368.63 352.39,368.70 352.43,368.77 352.47,368.84 352.50,368.90 352.54,368.95 352.58,369.01 352.61,369.05 352.65,369.10 352.69,369.14 352.72,369.19 352.76,369.23 352.80,369.27 352.83,369.32 352.87,369.36 352.90,369.40 352.94,369.44 352.98,369.48 353.01,369.51 353.05,369.55 353.09,369.59 353.12,369.62 353.16,369.65 353.20,369.68 353.23,369.71 353.27,369.73 353.31,369.76 353.34,369.78" fill="none" stroke="#0000ff" stroke-width="3.60" stroke-linecap="round" stroke-linejoin="round"/>
<polyline points="360.02,376.07 360.05,375.92 360.09,375.78 360.13,375.63 360.16,375.49 360.20,375.35 360.23,375.21 360.27,375.07 360.31,374.94 360.34,374.80 360.38,374.67 360.42,374.54 360.45,374.41 360.49,374.29 360.53,374.16 360.56,374.04 360.60,373.92 360.64,373.80 360.67,373.67 360.71,373.55 360.75,373.43 360.78,373.31 360.82,373.19 360.85,373.07 360.89,372.95 360.93,372.83 360.96,372.71 361.00,372.59 361.04,372.47 361.07,372.36 361.11,372.25 361.15,372.14 361.18,372.03 361.22,371.92 361.26,371.82 361.29,371.72 361.33,371.62 361.37,371.52 361.40,371.43 361.44,371.34 361.47,371.25 361.51,371.17 361.55,371.09 361.58,371.02 361.62,370.95 361.66,370.88 361.69,370.82 361.73,370.76 361.77,370.71 361.80,370.66 361.84,370.62 361.88,370.57 361.91,370.53 361.95,370.48 361.99,370.44 362.02,370.40 362.06,370.36 362.09,370.32 362.13,370.28 362.17,370.20 362.20,369.88 362.24,369.33" fill="none" stroke="#0000ff" stroke-width="2.10" stroke-linecap="round" stroke-linejoin="round"/>
<polyline points="360.82,373.19 360.85,373.07 360.89,372.95 360.93,372.83 360.96,372.71 361.00,372.59 361.04,372.47 361.07,372.36 361.11,372.25 361.15,372.14 361.18,372.03 361.22,371.92 361.26,371.82 361.29,371.72 361.33,371.62 361.37,371.52 361.40,371.43 361.44,371.34 361.47,371.25 361.51,371.17 361.55,371.09 361.58,371.02 361.62,370.95 361.66,370.88 361.69,370.82 361.73,370.76 361.77,370.71 361.80,370.66 361.84,370.62 361.88,370.57 361.91,370.53 361.95,370.48 361.99,370.44 362.02,370.40 362.06,370.36 362.09,370.32 362.13,370.28" fill="none" stroke="#0000ff" stroke-width="3.60" stroke-linecap="round" stroke-linejoin="round"/>
<polyline points="369.39,365.73 369.42,365.86 369.46,365.98 369.50,366.10 369.53,366.22 369.57,366.35 369.61,366.47 369.64,366.59 369.68,366.71 369.72,366.83 369.75,366.95 369.79,367.07 369.83,367.19 369.86,367.30 369.90,367.42 369.93,367.53 369.97,367.64 370.01,367.74 370.04,367.85 370.08,367.95 370.12,368.05 370.15,368.15 370.19,368.24 370.23,368.33 370.26,368.42 370.30,368.50 370.34,368.58 370.37,368.66 370.41,368.73 370.45,368.80 370.48,368.86 370.52,368.92 370.55,368.98 370.59,369.02 370.63,369.07 370.66,369.11 370.70,369.16 370.74,369.20 370.77,369.25 370.81,369.29 370.85,369.33 370.88,369.37 370.92,369.41 370.96,369.45 370.99,369.49 371.03,369.53 371.07,369.56 371.10,369.60 371.14,369.63 371.17,369.66 371.21,369.69 371.25,369.72 371.28,369.74 371.32,369.76 371.36,369.78 371.39,369.80 371.43,369.82 371.47,369.83 371.50,369.84 371.54,369.85 371.58,370.05 371.61,370.51" fill="none" stroke="#0000ff" stroke-width="2.10" stroke-linecap="round" stroke-linejoin="round"/>
<polyline points="370.19,368.24 370.23,368.33 370.26,368.42 370.30,368.50 370.34,368.58 370.37,368.66 370.41,368.73 370.45,368.80 370.48,368.86 370.52,368.92 370.55,368.98 370.59,369.02 370.63,369.07 370.66,369.11 370.70,369.16 370.74,369.20 370.77,369.25 370.81,369.29 370.85,369.33 370.88,369.37 370.92,369.41 370.96,369.45 370.99,369.49 371.03,369.53 371.07,369.56 371.10,369.60 371.14,369.63 371.17,369.66 371.21,369.69 371.25,369.72 371.28,369.74 371.32,369.76 371.36,369.78 371.39,369.80 371.43,369.82 371.47,369.83 371.50,369.84" fill="none" stroke="#0000ff" stroke-width="3.60" stroke-linecap="round" stroke-linejoin="round"/>
<polyline points="378.29,375.70 378.32,375.56 378.36,375.42 378.40,375.28 378.43,375.14 378.47,375.00 378.50,374.87 378.54,374.74 378.58,374.61 378.61,374.48 378.65,374.35 378.69,374.23 378.72,374.10 378.76,373.98 378.80,373.86 378.83,373.73 378.87,373.61 378.91,373.49 378.94,373.37 378.98,373.25 379.02,373.13 379.05,373.01 379.09,372.89 379.12,372.77 379.16,372.65 379.20,372.53 379.23,372.42 379.27,372.30 379.31,372.19 379.34,372.08 379.38,371.97 379.42,371.87 379.45,371.77 379.49,371.67 379.53,371.57 379.56,371.48 379.60,371.38 379.64,371.30 379.67,371.21 379.71,371.13 379.74,371.05 379.78,370.98 379.82,370.91 379.85,370.85 379.89,370.79 379.93,370.73 379.96,370.68 380.00,370.64 380.04,370.59 380.07,370.55 380.11,370.51 380.15,370.46 380.18,370.42 380.22,370.38 380.25,370.34 380.29,370.30 380.33,370.26 380.36,370.22 380.40,370.18 380.44,369.99 380.47,369.54" fill="none" stroke="#0000ff" stroke-width="2.10" stroke-linecap="round" stroke-linejoin="round"/>
<polyline points="379.05,373.01 379.09,372.89 379.12,372.77 379.16,372.65 379.20,372.53 379.23,372.42 379.27,372.30 379.31,372.19 379.34,372.08 379.38,371.97 379.42,371.87 379.45,371.77 379.49,371.67 379.53,371.57 379.56,371.48 379.60,371.38 379.64,371.30 379.67,371.21 379.71,371.13 379.74,371.05 379.78,370.98 379.82,370.91 379.85,370.85 379.89,370.79 379.93,370.73 379.96,370.68 380.00,370.64 380.04,370.59 380.07,370.55 380.11,370.51 380.15,370.46 380.18,370.42 380.22,370.38 380.25,370.34 380.29,370.30 380.33,370.26 380.36,370.22" fill="none" stroke="#0000ff" stroke-width="3.60" stroke-linecap="round" stroke-linejoin="round"/>
<polyline points="387.58,365.55 387.62,365.68 387.66,365.80 387.69,365.92 387.73,366.05 387.77,366.17 387.80,366.29 387.84,366.41 387.88,366.54 387.91,366.66 387.95,366.78 387.99,366.90 388.02,367.02 388.06,367.13 388.10,367.25 388.13,367.36 388.17,367.48 388.20,367.59 388.24,367.70 388.28,367.80 388.31,367.91 388.35,368.01 388.39,368.11 388.42,368.20 388.46,368.29 388.50,368.38 388.53,368.47 388.57,368.55 388.61,368.63 388.64,368.70 388.68,368.77 388.72,368.83 388.75,368.90 388.79,368.95 388.82,369.00 388.86,369.05 388.90,369.09 388.93,369.14 388.97,369.18 389.01,369.23 389.04,369.27 389.08,369.31 389.12,369.35 389.15,369.40 389.19,369.44 389.23,369.47 389.26,369.51 389.30,369.55 389.34,369.58 389.37,369.62 389.41,369.65 389.44,369.68 389.48,369.71 389.52,369.73 389.55,369.75 389.59,369.78 389.63,369.79 389.66,369.81 389.70,369.82 389.74,369.90 389.77,370.24 389.81,370.81" fill="none" stroke="#0000ff" stroke-width="2.10" stroke-linecap="round" stroke-linejoin="round"/>
<polyline points="388.39,368.11 388.42,368.20 388.46,368.29 388.50,368.38 388.53,368.47 388.57,368.55 388.61,368.63 388.64,368.70 388.68,368.77 388.72,368.83 388.75,368.90 388.79,368.95 388.82,369.00 388.86,369.05 388.90,369.09 388.93,369.14 388.97,369.18 389.01,369.23 389.04,369.27 389.08,369.31 389.12,369.35 389.15,369.40 389.19,369.44 389.23,369.47 389.26,369.51 389.30,369.55 389.34,369.58 389.37,369.62 389.41,369.65 389.44,369.68 389.48,369.71 389.52,369.73 389.55,369.75 389.59,369.78 389.63,369.79 389.66,369.81 389.70,369.82" fill="none" stroke="#0000ff" stroke-width="3.60" stroke-linecap="round" stroke-linejoin="round"/>
<text x="131.6" y="251.4" text-anchor="middle" class="cap"><tspan class="pr">(</tspan>a<tspan class="pr">)</tspan></text>
<text x="412.25" y="251.4" text-anchor="middle" class="cap"><tspan class="pr">(</tspan>b<tspan class="pr">)</tspan></text>
<text x="271.8" y="516.7" text-anchor="middle" class="cap"><tspan class="pr">(</tspan>c<tspan class="pr">)</tspan></text>
</svg>
</body></html>
